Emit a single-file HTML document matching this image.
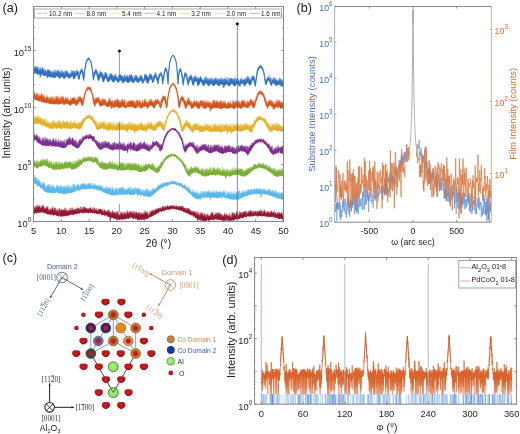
<!DOCTYPE html><html><head><meta charset="utf-8"><style>html,body{margin:0;padding:0;background:#fff;overflow:hidden;}svg{display:block;filter:blur(0.3px);}</style></head><body><svg width="520" height="434" viewBox="0 0 520 434"><rect width="520" height="434" fill="#fff"/><text x="2.5" y="12.3" font-size="12.6" text-anchor="start" fill="#1a1a1a" font-family='"Liberation Sans", sans-serif' >(a)</text><text x="296.5" y="12.3" font-size="12.6" text-anchor="start" fill="#1a1a1a" font-family='"Liberation Sans", sans-serif' >(b)</text><text x="2.5" y="261.7" font-size="12.6" text-anchor="start" fill="#1a1a1a" font-family='"Liberation Sans", sans-serif' >(c)</text><text x="222.3" y="263.5" font-size="12.6" text-anchor="start" fill="#1a1a1a" font-family='"Liberation Sans", sans-serif' >(d)</text><g><path d="M33.8 64.7L34.2 66.5L34.8 66.3L35.2 67L35.8 65.1L36.2 65.7L36.8 68.7L37.2 66.4L37.8 66.2L38.2 69.7L38.8 65.5L39.2 68.3L39.8 67.2L40.2 66.3L40.8 67.4L41.2 69.1L41.8 67.8L42.2 66.8L42.8 70.3L43.2 67.7L43.8 69.6L44.2 69.6L44.8 66.8L45.2 69.2L45.8 70.3L46.2 70.7L46.8 69.8L47.2 69.3L47.8 69.1L48.2 69L48.8 68.9L49.2 69.2L49.8 70L50.2 69.4L50.8 71.2L51.2 71.2L51.8 71.1L52.2 73L52.8 69.1L53.2 70.9L53.8 70.2L54.2 69.4L54.8 70.1L55.2 70.5L55.8 69.3L56.2 69L56.8 71L57.2 71.3L57.8 69.5L58.2 69.6L58.8 69.9L59.2 71.2L59.8 71.7L60.2 70.7L60.8 69.2L61.2 71.5L61.8 69.3L62.2 70.7L62.8 69.2L63.2 72L63.8 70.9L64.2 71.7L64.8 70.8L65.2 70.9L65.8 69.2L66.2 70.6L66.8 72L67.2 69.5L67.8 70.2L68.2 73.6L68.8 72L69.2 72.1L69.8 73.8L70.2 74.2L70.8 69.7L71.2 69.7L71.8 70.1L72.2 71L72.8 70.4L73.2 70.6L73.8 71.3L74.2 70.5L74.8 71.7L75.2 71.6L75.8 70.5L76.2 70.3L76.8 68.9L77.2 70L77.8 70.4L78.2 71.4L78.8 71.7L79.2 73.3L79.8 69.7L80.2 68.8L80.8 70.6L81.2 70.9L81.8 67.4L82.2 69.1L82.8 69.1L83.2 72.3L83.8 72.7L84.2 71.2L84.8 67.9L85.2 63.6L85.8 60.6L86.2 60.6L86.8 58.9L87.2 58.6L87.8 57.8L88.2 57.8L88.8 57.3L89.2 58L89.8 59.2L90.2 59.5L90.8 60.3L91.2 61.2L91.8 63.3L92.2 66.5L92.8 68.9L93.2 72.5L93.8 72.7L94.2 70L94.8 70.5L95.2 69.3L95.8 68.3L96.2 69.3L96.8 69.7L97.2 70.9L97.8 73L98.2 72.3L98.8 74.9L99.2 71.5L99.8 70.8L100.2 71.9L100.8 69.8L101.2 71.7L101.8 72.4L102.2 71.7L102.8 76.6L103.2 74.6L103.8 72.8L104.2 71.8L104.8 74.2L105.2 71.1L105.8 73.1L106.2 72.4L106.8 73.2L107.2 73.5L107.8 75.9L108.2 75.9L108.8 75.9L109.2 73.7L109.8 72.5L110.2 75.3L110.8 72.3L111.2 72.2L111.8 73.8L112.2 73.2L112.8 75.4L113.2 74.6L113.8 76.5L114.2 74.7L114.8 75.6L115.2 73.1L115.8 75.7L116.2 74.5L116.8 77.5L117.2 76.7L117.8 76.2L118.2 75L118.8 75.3L119.2 75.2L119.8 73.3L120.2 74.2L120.8 74.1L121.2 74.2L121.8 75.7L122.2 74.7L122.8 76.4L123.2 77.2L123.8 76.1L124.2 73.3L124.8 74.6L125.2 76.1L125.8 74.1L126.2 76.3L126.8 74.7L127.2 75.1L127.8 74.4L128.2 76.4L128.8 75.2L129.2 75.8L129.8 74.3L130.2 75L130.8 73.7L131.2 73.9L131.8 74.1L132.2 76.2L132.8 76.7L133.2 79.7L133.8 74.7L134.2 74.9L134.8 75.3L135.2 75.3L135.8 74.2L136.2 75L136.8 77L137.2 74.6L137.8 76.5L138.2 77.7L138.8 79.3L139.2 73.5L139.8 76.4L140.2 75.7L140.8 73.9L141.2 74.7L141.8 74.2L142.2 76.1L142.8 76.3L143.2 79L143.8 79.2L144.2 73.6L144.8 73.5L145.2 74.2L145.8 73.4L146.2 74.6L146.8 74L147.2 76.6L147.8 76.1L148.2 76.5L148.8 76.2L149.2 74L149.8 73.2L150.2 73.1L150.8 73.8L151.2 74L151.8 74.7L152.2 76.1L152.8 75.8L153.2 75.9L153.8 75.3L154.2 73.4L154.8 71.9L155.2 71.9L155.8 72.3L156.2 72.9L156.8 73.6L157.2 76L157.8 78.7L158.2 75.4L158.8 74.7L159.2 72.7L159.8 72.8L160.2 73.3L160.8 70.7L161.2 71.9L161.8 74.2L162.2 74.5L162.8 77.9L163.2 76.1L163.8 73.1L164.2 70L164.8 68.7L165.2 67.8L165.8 67.2L166.2 67.5L166.8 68L167.2 70.8L167.8 73.6L168.2 73.4L168.8 68.4L169.2 63.9L169.8 61.2L170.2 59.6L170.8 57L171.2 56.6L171.8 56.2L172.2 55.1L172.8 54.9L173.2 55L173.8 54.8L174.2 55.8L174.8 56.6L175.2 58.1L175.8 59.1L176.2 61.2L176.8 64.6L177.2 68L177.8 72.6L178.2 73.6L178.8 70.6L179.2 68.5L179.8 69L180.2 67.6L180.8 68.5L181.2 68.8L181.8 70.9L182.2 73L182.8 76.3L183.2 79.1L183.8 75.6L184.2 72.7L184.8 71.5L185.2 71.4L185.8 72.1L186.2 73.2L186.8 73.3L187.2 75.2L187.8 76L188.2 77.2L188.8 78.1L189.2 75.8L189.8 76L190.2 74.4L190.8 73.6L191.2 74L191.8 75.3L192.2 76.2L192.8 79.3L193.2 78.5L193.8 76.9L194.2 76.2L194.8 75.8L195.2 76L195.8 74.9L196.2 74.9L196.8 78L197.2 76.2L197.8 78.1L198.2 77.1L198.8 76.4L199.2 77.3L199.8 77.4L200.2 77.4L200.8 75.8L201.2 77.2L201.8 77.6L202.2 79.4L202.8 78.5L203.2 77.8L203.8 80L204.2 77.9L204.8 76.8L205.2 76.1L205.8 77.4L206.2 76.1L206.8 77.3L207.2 77.5L207.8 79.8L208.2 78.3L208.8 78.4L209.2 78.6L209.8 77.4L210.2 78.6L210.8 79.1L211.2 76.8L211.8 78.5L212.2 77L212.8 77.3L213.2 79.6L213.8 77.9L214.2 79L214.8 77.7L215.2 77.8L215.8 76.3L216.2 78.2L216.8 77.9L217.2 79.5L217.8 78.2L218.2 77.4L218.8 78.8L219.2 79.6L219.8 77.3L220.2 78.7L220.8 78.1L221.2 76.2L221.8 77.4L222.2 79.8L222.8 78L223.2 78.4L223.8 77.7L224.2 78.9L224.8 77.2L225.2 79L225.8 76.9L226.2 76.8L226.8 77.9L227.2 78.9L227.8 77.1L228.2 77L228.8 78L229.2 78L229.8 77.4L230.2 78.5L230.8 77.8L231.2 78.6L231.8 77.8L232.2 80.6L232.8 78.3L233.2 79.9L233.8 79.8L234.2 78.1L234.8 77.6L235.2 78.6L235.8 76.4L236.2 78.5L236.8 77.8L237.2 79.4L237.8 76.7L238.2 78.1L238.8 80.3L239.2 80.9L239.8 80.1L240.2 78.8L240.8 78.3L241.2 77.5L241.8 76.3L242.2 78.9L242.8 79.6L243.2 79.8L243.8 78.6L244.2 77.4L244.8 78.7L245.2 80L245.8 77.1L246.2 78L246.8 75.8L247.2 75.7L247.8 75.6L248.2 76.7L248.8 76L249.2 79L249.8 78.2L250.2 80.1L250.8 76.4L251.2 76.9L251.8 75.8L252.2 74.9L252.8 75L253.2 77L253.8 75L254.2 75.2L254.8 80.4L255.2 79.2L255.8 79.5L256.2 75.1L256.8 71.4L257.2 69.7L257.8 67.6L258.2 68L258.8 66.4L259.2 65.9L259.8 65.5L260.2 65.1L260.8 65.1L261.2 65L261.8 66.3L262.2 67.4L262.8 66.9L263.2 68.8L263.8 69.7L264.2 71L264.8 75L265.2 76L265.8 80.3L266.2 78.3L266.8 78.5L267.2 77.1L267.8 77.3L268.2 76.1L268.8 74.7L269.2 74.8L269.8 78.4L270.2 75.1L270.8 77.7L271.2 78.5L271.8 78.2L272.2 77.4L272.8 79.3L273.2 77.1L273.8 77.2L274.2 77L274.8 79.1L275.2 76.7L275.8 79.7L276.2 77.2L276.8 79.2L277.2 79.7L277.8 79.5L278.2 80.9L278.8 79.3L279.2 76.7L279.8 77.5L280.2 78.6L280.8 78.1L281.2 78.9L281.8 78.1L282.2 80.5L282.8 79.3L283.2 78.6L283.2 85.7L282.8 85.4L282.2 86.5L281.8 86.6L281.2 86.3L280.8 85.4L280.2 84.5L279.8 84.2L279.2 84.5L278.8 84.7L278.2 84.3L277.8 85.1L277.2 84.8L276.8 85.5L276.2 85.5L275.8 85.7L275.2 84.7L274.8 84.3L274.2 82.4L273.8 83.5L273.2 82.9L272.8 83.4L272.2 82.2L271.8 85.9L271.2 85.5L270.8 85.1L270.2 83L269.8 82.4L269.2 81L268.8 80.7L268.2 80.3L267.8 80.4L267.2 81.2L266.8 83.9L266.2 84.4L265.8 84.8L265.2 83.2L264.8 80.7L264.2 76.6L263.8 73.8L263.2 71.5L262.8 70.4L262.2 69L261.8 68.2L261.2 68L260.8 67.5L260.2 67.5L259.8 67.9L259.2 67.9L258.8 70L258.2 70L257.8 72L257.2 74.5L256.8 77.2L256.2 80.7L255.8 84.9L255.2 86.6L254.8 85.2L254.2 82.6L253.8 80.9L253.2 79.8L252.8 79.9L252.2 80.3L251.8 81.9L251.2 83.7L250.8 84.4L250.2 84.6L249.8 85.6L249.2 85L248.8 83L248.2 83.2L247.8 82.2L247.2 82.4L246.8 83.2L246.2 83.5L245.8 84.6L245.2 85.3L244.8 86.4L244.2 85.3L243.8 84.3L243.2 84.4L242.8 83.7L242.2 83.2L241.8 82.6L241.2 84L240.8 82.9L240.2 86.4L239.8 86.2L239.2 85.8L238.8 85.7L238.2 84.7L237.8 84.2L237.2 83.5L236.8 84.1L236.2 83.9L235.8 85.1L235.2 85.8L234.8 86.4L234.2 85.6L233.8 85.6L233.2 84.4L232.8 84.6L232.2 83.6L231.8 82.9L231.2 83.9L230.8 85L230.2 84.4L229.8 85.5L229.2 86.3L228.8 85.6L228.2 85.2L227.8 85.1L227.2 84.2L226.8 83.8L226.2 83.9L225.8 84.4L225.2 85.3L224.8 84.9L224.2 85.8L223.8 88.2L223.2 85.1L222.8 84.8L222.2 84.6L221.8 84.4L221.2 83.9L220.8 83.7L220.2 84.6L219.8 85.3L219.2 85.9L218.8 85.7L218.2 85.5L217.8 85.2L217.2 84.6L216.8 84L216.2 82.4L215.8 83.7L215.2 84.5L214.8 84.6L214.2 85.6L213.8 86L213.2 85.8L212.8 85.6L212.2 84.7L211.8 84.2L211.2 83.4L210.8 83.8L210.2 84L209.8 84.1L209.2 85.9L208.8 85L208.2 86L207.8 85.1L207.2 84.1L206.8 83.3L206.2 82.7L205.8 83.3L205.2 83.2L204.8 84.2L204.2 85.6L203.8 84.6L203.2 85.4L202.8 85.3L202.2 82.9L201.8 82.7L201.2 82.2L200.8 81.4L200.2 81.2L199.8 83.9L199.2 83.7L198.8 85.4L198.2 85.4L197.8 85.5L197.2 83.5L196.8 81.5L196.2 80.8L195.8 81L195.2 81.3L194.8 81.2L194.2 82.8L193.8 84.9L193.2 85.4L192.8 84.9L192.2 83.6L191.8 81.3L191.2 79.6L190.8 79.4L190.2 79.5L189.8 80.8L189.2 81.7L188.8 83.7L188.2 85.5L187.8 83.7L187.2 82.6L186.8 78.8L186.2 76.6L185.8 76.1L185.2 76.3L184.8 76.8L184.2 79.5L183.8 82.9L183.2 85.4L182.8 83.6L182.2 78.3L181.8 76.8L181.2 72.4L180.8 72L180.2 71.2L179.8 71.7L179.2 74L178.8 76.3L178.2 84L177.8 84.2L177.2 75.3L176.8 67.5L176.2 63.8L175.8 61.5L175.2 59.7L174.8 58.6L174.2 57.3L173.8 56.3L173.2 56L172.8 55.8L172.2 56.2L171.8 57.1L171.2 57.5L170.8 60.1L170.2 61.4L169.8 64.7L169.2 68.5L168.8 73.9L168.2 84.6L167.8 83.3L167.2 77.3L166.8 72.4L166.2 71.2L165.8 70.2L165.2 71.2L164.8 71.8L164.2 75.7L163.8 78.7L163.2 81.7L162.8 84.5L162.2 80.9L161.8 76.8L161.2 75.8L160.8 75.1L160.2 75.5L159.8 76.1L159.2 79L158.8 79.5L158.2 83.7L157.8 83.7L157.2 81.1L156.8 80.2L156.2 78.3L155.8 76.5L155.2 77.2L154.8 78.5L154.2 78.6L153.8 81.7L153.2 81.2L152.8 82.9L152.2 82.2L151.8 78.9L151.2 80L150.8 78.9L150.2 77.8L149.8 78.7L149.2 81.1L148.8 81.3L148.2 83.4L147.8 83.5L147.2 80.5L146.8 82.7L146.2 80L145.8 80L145.2 78.8L144.8 80.4L144.2 81.3L143.8 81.6L143.2 82.7L142.8 83.5L142.2 82.4L141.8 81L141.2 80.7L140.8 80.6L140.2 80.6L139.8 80.7L139.2 81L138.8 82.3L138.2 82.9L137.8 81.6L137.2 82.4L136.8 81.7L136.2 81L135.8 79.8L135.2 80.3L134.8 81.2L134.2 82L133.8 82.1L133.2 83.2L132.8 81.7L132.2 82.5L131.8 81.9L131.2 80.4L130.8 80.5L130.2 80.6L129.8 80.9L129.2 81.9L128.8 82.8L128.2 82.5L127.8 82.9L127.2 81.9L126.8 81.7L126.2 81.2L125.8 80.8L125.2 80.8L124.8 81.2L124.2 81.5L123.8 82.4L123.2 82.8L122.8 82.7L122.2 82.1L121.8 81L121.2 80.5L120.8 80.7L120.2 79.2L119.8 80.8L119.2 81L118.8 82.2L118.2 82.4L117.8 82.2L117.2 81.3L116.8 80.9L116.2 79.4L115.8 80.2L115.2 80.1L114.8 80L114.2 81.6L113.8 82L113.2 81.6L112.8 82.1L112.2 81.4L111.8 80.5L111.2 79.6L110.8 78.8L110.2 79.3L109.8 80.5L109.2 81.1L108.8 81.6L108.2 81.9L107.8 82L107.2 80.4L106.8 79.6L106.2 78.2L105.8 78.1L105.2 77.4L104.8 79.1L104.2 80.8L103.8 81.9L103.2 81.9L102.8 81.2L102.2 79L101.8 77L101.2 77.2L100.8 76.3L100.2 76.4L99.8 77.5L99.2 80L98.8 80.8L98.2 79.9L97.8 79.2L97.2 76.8L96.8 74.4L96.2 73.4L95.8 73.1L95.2 73.5L94.8 75L94.2 76.7L93.8 79.5L93.2 80.4L92.8 76.2L92.2 69.7L91.8 67.2L91.2 65L90.8 62.2L90.2 61.5L89.8 60.6L89.2 59.7L88.8 59.4L88.2 59.6L87.8 59.5L87.2 60.8L86.8 62.1L86.2 63.1L85.8 66L85.2 68.9L84.8 72.5L84.2 78.3L83.8 80.6L83.2 79.4L82.8 76L82.2 72.5L81.8 71.7L81.2 72.7L80.8 74L80.2 74L79.8 76.9L79.2 79.4L78.8 79.2L78.2 79L77.8 75L77.2 75.1L76.8 75.2L76.2 75.4L75.8 76.2L75.2 76.9L74.8 78.2L74.2 78.9L73.8 79.1L73.2 78L72.8 76.1L72.2 76L71.8 76.7L71.2 76.6L70.8 77.3L70.2 77.7L69.8 77L69.2 78.3L68.8 78.6L68.2 77.3L67.8 76.5L67.2 76.7L66.8 76.7L66.2 76.5L65.8 75.1L65.2 78L64.8 78.1L64.2 78.4L63.8 78.8L63.2 77.1L62.8 76.8L62.2 77L61.8 76.4L61.2 76.9L60.8 77.2L60.2 77.6L59.8 78.9L59.2 77.6L58.8 77.6L58.2 75.9L57.8 77.1L57.2 75.2L56.8 76.4L56.2 75.3L55.8 77L55.2 77.6L54.8 77.9L54.2 77.5L53.8 77.1L53.2 77.7L52.8 76L52.2 77.5L51.8 76.9L51.2 77.3L50.8 76.5L50.2 77.1L49.8 76.8L49.2 77L48.8 76.2L48.2 76.5L47.8 75.2L47.2 78.3L46.8 75.4L46.2 75.5L45.8 75.7L45.2 75.6L44.8 75.3L44.2 75.5L43.8 76L43.2 75.5L42.8 74.3L42.2 73.4L41.8 75L41.2 74.7L40.8 74.5L40.2 77.6L39.8 74L39.2 74.6L38.8 72.2L38.2 74.6L37.8 74.4L37.2 74.2L36.8 74L36.2 73L35.8 72.4L35.2 72.8L34.8 73.5L34.2 73.4L33.8 73.3Z" fill="#2f6fc0" fill-opacity="0.55" stroke="none"/><path d="M33.8 68.4L34.2 71L34.8 68.3L35.2 68.2L35.8 66.6L36.2 67.2L36.8 69.5L37.2 68L37.8 67.1L38.2 72.2L38.8 69.4L39.2 70.6L39.8 71.1L40.2 70.4L40.8 69.5L41.2 71.9L41.8 69.4L42.2 67.3L42.8 71.4L43.2 69.1L43.8 72.2L44.2 73.7L44.8 71L45.2 70.4L45.8 71.3L46.2 72.1L46.8 72.3L47.2 73.8L47.8 69.9L48.2 70.9L48.8 70.8L49.2 71.1L49.8 71.5L50.2 71.2L50.8 72.2L51.2 72.6L51.8 72.9L52.2 74.3L52.8 72.5L53.2 71.9L53.8 72.5L54.2 72.5L54.8 74L55.2 72L55.8 72.3L56.2 72.6L56.8 72.7L57.2 72.6L57.8 71.1L58.2 70.5L58.8 71.5L59.2 74.3L59.8 72L60.2 73.4L60.8 72.7L61.2 73.2L61.8 72.6L62.2 73.6L62.8 74.1L63.2 73.4L63.8 71.9L64.2 76.6L64.8 73.8L65.2 74.2L65.8 70.8L66.2 72.3L66.8 72.7L67.2 73.5L67.8 72.7L68.2 74.8L68.8 73.6L69.2 74.7L69.8 74.8L70.2 75L70.8 73.4L71.2 73.2L71.8 73L72.2 71.6L72.8 71.3L73.2 74.5L73.8 72.8L74.2 71.2L74.8 76.2L75.2 72.9L75.8 72.9L76.2 73.3L76.8 70.7L77.2 71.3L77.8 71.7L78.2 72.8L78.8 75.5L79.2 76.6L79.8 73.6L80.2 70.8L80.8 71.3L81.2 71.3L81.8 68.9L82.2 69.6L82.8 71.2L83.2 73.8L83.8 74.1L84.2 72.1L84.8 68.4L85.2 65.3L85.8 63.7L86.2 61.7L86.8 60.2L87.2 59.6L87.8 58.5L88.2 57.8L88.8 58.2L89.2 58.6L89.8 59.8L90.2 60.4L90.8 61.2L91.2 62.8L91.8 64.8L92.2 67.4L92.8 71.2L93.2 74.9L93.8 75.7L94.2 72.5L94.8 73.2L95.2 71L95.8 70L96.2 69.7L96.8 71L97.2 73.1L97.8 74.1L98.2 74L98.8 78.2L99.2 74.9L99.8 73.9L100.2 72.9L100.8 71.8L101.2 72.9L101.8 75.8L102.2 72.8L102.8 77.8L103.2 75.4L103.8 76.7L104.2 75.8L104.8 76.3L105.2 72.2L105.8 76.1L106.2 73L106.8 74.9L107.2 76.9L107.8 77.6L108.2 78.3L108.8 78.2L109.2 77.3L109.8 75.7L110.2 77.2L110.8 73.9L111.2 74.8L111.8 74.4L112.2 74.9L112.8 80.7L113.2 76.6L113.8 77.3L114.2 76.4L114.8 77.6L115.2 74.2L115.8 76.7L116.2 76.7L116.8 78.9L117.2 77.7L117.8 78.2L118.2 79.5L118.8 78.4L119.2 77.7L119.8 74.8L120.2 75.5L120.8 75.4L121.2 76.4L121.8 76.8L122.2 76L122.8 79.9L123.2 78L123.8 78.3L124.2 75.8L124.8 77.6L125.2 78.3L125.8 77.5L126.2 78.4L126.8 76.1L127.2 78.3L127.8 76.8L128.2 78.2L128.8 78.4L129.2 78.3L129.8 75L130.2 77.7L130.8 75.4L131.2 74.9L131.8 75.1L132.2 76.9L132.8 77.2L133.2 80.1L133.8 78.4L134.2 78.3L134.8 78.7L135.2 77L135.8 76.4L136.2 75.5L136.8 79.3L137.2 78.1L137.8 77.1L138.2 79L138.8 80.2L139.2 78.1L139.8 78.5L140.2 77.7L140.8 75.9L141.2 77.4L141.8 76.9L142.2 78.3L142.8 80.7L143.2 79.2L143.8 79.7L144.2 78.7L144.8 74.9L145.2 76.9L145.8 75.5L146.2 75.1L146.8 76L147.2 77.7L147.8 77.1L148.2 77.4L148.8 78.6L149.2 76.8L149.8 74.2L150.2 75.4L150.8 74.6L151.2 75.9L151.8 75.7L152.2 79.8L152.8 79.3L153.2 78.3L153.8 77.3L154.2 75.5L154.8 75.2L155.2 74.6L155.8 74L156.2 76L156.8 76.8L157.2 79.6L157.8 78.9L158.2 77L158.8 77.2L159.2 74.5L159.8 73.9L160.2 73.5L160.8 73.5L161.2 72.6L161.8 74.6L162.2 75.3L162.8 80.4L163.2 77.6L163.8 74.8L164.2 72L164.8 70.6L165.2 68.2L165.8 68L166.2 69.4L166.8 69.7L167.2 71.6L167.8 78L168.2 74.3L168.8 70.4L169.2 64.5L169.8 61.8L170.2 59.6L170.8 58.6L171.2 57L171.8 56.5L172.2 55.7L172.8 55.4L173.2 55.2L173.8 55.6L174.2 56.2L174.8 56.8L175.2 58.8L175.8 59.8L176.2 62.2L176.8 65.1L177.2 69.8L177.8 76.7L178.2 77.7L178.8 74.2L179.2 71.6L179.8 69.8L180.2 68.5L180.8 69.4L181.2 71.4L181.8 73.2L182.2 75.1L182.8 78.5L183.2 81.6L183.8 78L184.2 76.5L184.8 74L185.2 73.2L185.8 73.2L186.2 73.7L186.8 77L187.2 79.5L187.8 79.2L188.2 82.2L188.8 79.4L189.2 77.1L189.8 76.8L190.2 75.9L190.8 77.1L191.2 76.5L191.8 76.2L192.2 77.7L192.8 80.5L193.2 82.2L193.8 77.9L194.2 78.7L194.8 75.9L195.2 79.2L195.8 77.2L196.2 78L196.8 78.7L197.2 78.7L197.8 80.5L198.2 78.9L198.8 80.1L199.2 78.7L199.8 79.4L200.2 78.1L200.8 76.4L201.2 78.8L201.8 80.7L202.2 79.9L202.8 80L203.2 80.1L203.8 81L204.2 80.4L204.8 80.8L205.2 78.1L205.8 80L206.2 80.9L206.8 80.2L207.2 78.3L207.8 81.6L208.2 80.2L208.8 81.6L209.2 79.8L209.8 78.6L210.2 79.7L210.8 82.3L211.2 80.9L211.8 79.4L212.2 81.3L212.8 81L213.2 80.5L213.8 79.8L214.2 82L214.8 79L215.2 79.1L215.8 79.3L216.2 79.2L216.8 81.1L217.2 80.7L217.8 81.2L218.2 79.4L218.8 82.1L219.2 82.4L219.8 79.5L220.2 81.2L220.8 79.4L221.2 80.5L221.8 79.7L222.2 81.1L222.8 81.1L223.2 79.6L223.8 82.5L224.2 81.2L224.8 78.9L225.2 80.1L225.8 80.3L226.2 80.7L226.8 80.6L227.2 80.2L227.8 81.8L228.2 81.7L228.8 82.9L229.2 79.1L229.8 82.1L230.2 82.8L230.8 78.1L231.2 80.4L231.8 78.4L232.2 81.3L232.8 78.8L233.2 81.3L233.8 80.4L234.2 78.4L234.8 81L235.2 81.2L235.8 82.6L236.2 79.9L236.8 80.1L237.2 81.3L237.8 80.7L238.2 79.4L238.8 81.6L239.2 83.5L239.8 81.6L240.2 79.9L240.8 79.4L241.2 79.8L241.8 80.5L242.2 79.7L242.8 81.1L243.2 81.6L243.8 80.1L244.2 79.8L244.8 79.6L245.2 81.7L245.8 79.4L246.2 80.4L246.8 77.7L247.2 77.6L247.8 79.4L248.2 80.3L248.8 77.4L249.2 80.5L249.8 80.4L250.2 81.9L250.8 80.3L251.2 79.4L251.8 79.2L252.2 77.3L252.8 77.3L253.2 77.6L253.8 76.5L254.2 76.9L254.8 80.9L255.2 81.8L255.8 80.4L256.2 76.4L256.8 73.8L257.2 71L257.8 68.7L258.2 68.9L258.8 66.8L259.2 66.3L259.8 66.7L260.2 65.8L260.8 65.7L261.2 66.2L261.8 67.2L262.2 67.5L262.8 67.9L263.2 70.2L263.8 71.9L264.2 73.5L264.8 77.9L265.2 80L265.8 81.6L266.2 80.7L266.8 80.5L267.2 78.7L267.8 78L268.2 77.7L268.8 78.3L269.2 78.6L269.8 79.4L270.2 77.9L270.8 81.8L271.2 82.6L271.8 81.1L272.2 80.6L272.8 79.9L273.2 80.1L273.8 80.5L274.2 78L274.8 80.1L275.2 79.5L275.8 80.8L276.2 80.6L276.8 81.1L277.2 81.8L277.8 80.5L278.2 81.7L278.8 81.2L279.2 81.2L279.8 79.2L280.2 80.5L280.8 79.8L281.2 84L281.8 81L282.2 83.4L282.8 80.7L283.2 81.9L283.2 85.7L282.8 85.4L282.2 86.5L281.8 86.6L281.2 86.3L280.8 85.4L280.2 84.5L279.8 84.2L279.2 84.5L278.8 84.7L278.2 84.3L277.8 85.1L277.2 84.8L276.8 85.5L276.2 85.5L275.8 85.7L275.2 84.7L274.8 84.3L274.2 82.4L273.8 83.5L273.2 82.9L272.8 83.4L272.2 82.2L271.8 85.9L271.2 85.5L270.8 85.1L270.2 83L269.8 82.4L269.2 81L268.8 80.7L268.2 80.3L267.8 80.4L267.2 81.2L266.8 83.9L266.2 84.4L265.8 84.8L265.2 83.2L264.8 80.7L264.2 76.6L263.8 73.8L263.2 71.5L262.8 70.4L262.2 69L261.8 68.2L261.2 68L260.8 67.5L260.2 67.5L259.8 67.9L259.2 67.9L258.8 70L258.2 70L257.8 72L257.2 74.5L256.8 77.2L256.2 80.7L255.8 84.9L255.2 86.6L254.8 85.2L254.2 82.6L253.8 80.9L253.2 79.8L252.8 79.9L252.2 80.3L251.8 81.9L251.2 83.7L250.8 84.4L250.2 84.6L249.8 85.6L249.2 85L248.8 83L248.2 83.2L247.8 82.2L247.2 82.4L246.8 83.2L246.2 83.5L245.8 84.6L245.2 85.3L244.8 86.4L244.2 85.3L243.8 84.3L243.2 84.4L242.8 83.7L242.2 83.2L241.8 82.6L241.2 84L240.8 82.9L240.2 86.4L239.8 86.2L239.2 85.8L238.8 85.7L238.2 84.7L237.8 84.2L237.2 83.5L236.8 84.1L236.2 83.9L235.8 85.1L235.2 85.8L234.8 86.4L234.2 85.6L233.8 85.6L233.2 84.4L232.8 84.6L232.2 83.6L231.8 82.9L231.2 83.9L230.8 85L230.2 84.4L229.8 85.5L229.2 86.3L228.8 85.6L228.2 85.2L227.8 85.1L227.2 84.2L226.8 83.8L226.2 83.9L225.8 84.4L225.2 85.3L224.8 84.9L224.2 85.8L223.8 88.2L223.2 85.1L222.8 84.8L222.2 84.6L221.8 84.4L221.2 83.9L220.8 83.7L220.2 84.6L219.8 85.3L219.2 85.9L218.8 85.7L218.2 85.5L217.8 85.2L217.2 84.6L216.8 84L216.2 82.4L215.8 83.7L215.2 84.5L214.8 84.6L214.2 85.6L213.8 86L213.2 85.8L212.8 85.6L212.2 84.7L211.8 84.2L211.2 83.4L210.8 83.8L210.2 84L209.8 84.1L209.2 85.9L208.8 85L208.2 86L207.8 85.1L207.2 84.1L206.8 83.3L206.2 82.7L205.8 83.3L205.2 83.2L204.8 84.2L204.2 85.6L203.8 84.6L203.2 85.4L202.8 85.3L202.2 82.9L201.8 82.7L201.2 82.2L200.8 81.4L200.2 81.2L199.8 83.9L199.2 83.7L198.8 85.4L198.2 85.4L197.8 85.5L197.2 83.5L196.8 81.5L196.2 80.8L195.8 81L195.2 81.3L194.8 81.2L194.2 82.8L193.8 84.9L193.2 85.4L192.8 84.9L192.2 83.6L191.8 81.3L191.2 79.6L190.8 79.4L190.2 79.5L189.8 80.8L189.2 81.7L188.8 83.7L188.2 85.5L187.8 83.7L187.2 82.6L186.8 78.8L186.2 76.6L185.8 76.1L185.2 76.3L184.8 76.8L184.2 79.5L183.8 82.9L183.2 85.4L182.8 83.6L182.2 78.3L181.8 76.8L181.2 72.4L180.8 72L180.2 71.2L179.8 71.7L179.2 74L178.8 76.3L178.2 84L177.8 84.2L177.2 75.3L176.8 67.5L176.2 63.8L175.8 61.5L175.2 59.7L174.8 58.6L174.2 57.3L173.8 56.3L173.2 56L172.8 55.8L172.2 56.2L171.8 57.1L171.2 57.5L170.8 60.1L170.2 61.4L169.8 64.7L169.2 68.5L168.8 73.9L168.2 84.6L167.8 83.3L167.2 77.3L166.8 72.4L166.2 71.2L165.8 70.2L165.2 71.2L164.8 71.8L164.2 75.7L163.8 78.7L163.2 81.7L162.8 84.5L162.2 80.9L161.8 76.8L161.2 75.8L160.8 75.1L160.2 75.5L159.8 76.1L159.2 79L158.8 79.5L158.2 83.7L157.8 83.7L157.2 81.1L156.8 80.2L156.2 78.3L155.8 76.5L155.2 77.2L154.8 78.5L154.2 78.6L153.8 81.7L153.2 81.2L152.8 82.9L152.2 82.2L151.8 78.9L151.2 80L150.8 78.9L150.2 77.8L149.8 78.7L149.2 81.1L148.8 81.3L148.2 83.4L147.8 83.5L147.2 80.5L146.8 82.7L146.2 80L145.8 80L145.2 78.8L144.8 80.4L144.2 81.3L143.8 81.6L143.2 82.7L142.8 83.5L142.2 82.4L141.8 81L141.2 80.7L140.8 80.6L140.2 80.6L139.8 80.7L139.2 81L138.8 82.3L138.2 82.9L137.8 81.6L137.2 82.4L136.8 81.7L136.2 81L135.8 79.8L135.2 80.3L134.8 81.2L134.2 82L133.8 82.1L133.2 83.2L132.8 81.7L132.2 82.5L131.8 81.9L131.2 80.4L130.8 80.5L130.2 80.6L129.8 80.9L129.2 81.9L128.8 82.8L128.2 82.5L127.8 82.9L127.2 81.9L126.8 81.7L126.2 81.2L125.8 80.8L125.2 80.8L124.8 81.2L124.2 81.5L123.8 82.4L123.2 82.8L122.8 82.7L122.2 82.1L121.8 81L121.2 80.5L120.8 80.7L120.2 79.2L119.8 80.8L119.2 81L118.8 82.2L118.2 82.4L117.8 82.2L117.2 81.3L116.8 80.9L116.2 79.4L115.8 80.2L115.2 80.1L114.8 80L114.2 81.6L113.8 82L113.2 81.6L112.8 82.1L112.2 81.4L111.8 80.5L111.2 79.6L110.8 78.8L110.2 79.3L109.8 80.5L109.2 81.1L108.8 81.6L108.2 81.9L107.8 82L107.2 80.4L106.8 79.6L106.2 78.2L105.8 78.1L105.2 77.4L104.8 79.1L104.2 80.8L103.8 81.9L103.2 81.9L102.8 81.2L102.2 79L101.8 77L101.2 77.2L100.8 76.3L100.2 76.4L99.8 77.5L99.2 80L98.8 80.8L98.2 79.9L97.8 79.2L97.2 76.8L96.8 74.4L96.2 73.4L95.8 73.1L95.2 73.5L94.8 75L94.2 76.7L93.8 79.5L93.2 80.4L92.8 76.2L92.2 69.7L91.8 67.2L91.2 65L90.8 62.2L90.2 61.5L89.8 60.6L89.2 59.7L88.8 59.4L88.2 59.6L87.8 59.5L87.2 60.8L86.8 62.1L86.2 63.1L85.8 66L85.2 68.9L84.8 72.5L84.2 78.3L83.8 80.6L83.2 79.4L82.8 76L82.2 72.5L81.8 71.7L81.2 72.7L80.8 74L80.2 74L79.8 76.9L79.2 79.4L78.8 79.2L78.2 79L77.8 75L77.2 75.1L76.8 75.2L76.2 75.4L75.8 76.2L75.2 76.9L74.8 78.2L74.2 78.9L73.8 79.1L73.2 78L72.8 76.1L72.2 76L71.8 76.7L71.2 76.6L70.8 77.3L70.2 77.7L69.8 77L69.2 78.3L68.8 78.6L68.2 77.3L67.8 76.5L67.2 76.7L66.8 76.7L66.2 76.5L65.8 75.1L65.2 78L64.8 78.1L64.2 78.4L63.8 78.8L63.2 77.1L62.8 76.8L62.2 77L61.8 76.4L61.2 76.9L60.8 77.2L60.2 77.6L59.8 78.9L59.2 77.6L58.8 77.6L58.2 75.9L57.8 77.1L57.2 75.2L56.8 76.4L56.2 75.3L55.8 77L55.2 77.6L54.8 77.9L54.2 77.5L53.8 77.1L53.2 77.7L52.8 76L52.2 77.5L51.8 76.9L51.2 77.3L50.8 76.5L50.2 77.1L49.8 76.8L49.2 77L48.8 76.2L48.2 76.5L47.8 75.2L47.2 78.3L46.8 75.4L46.2 75.5L45.8 75.7L45.2 75.6L44.8 75.3L44.2 75.5L43.8 76L43.2 75.5L42.8 74.3L42.2 73.4L41.8 75L41.2 74.7L40.8 74.5L40.2 77.6L39.8 74L39.2 74.6L38.8 72.2L38.2 74.6L37.8 74.4L37.2 74.2L36.8 74L36.2 73L35.8 72.4L35.2 72.8L34.8 73.5L34.2 73.4L33.8 73.3Z" fill="#2f6fc0" stroke="#2f6fc0" stroke-width="0.5" stroke-linejoin="round"/><path d="M33.8 91.7L34.2 90.7L34.8 92.4L35.2 94.6L35.8 93.9L36.2 92L36.8 92.7L37.2 92.9L37.8 92.8L38.2 93.3L38.8 93.7L39.2 94.5L39.8 94.1L40.2 95.4L40.8 93.9L41.2 93.2L41.8 92.6L42.2 95.1L42.8 93.9L43.2 95.3L43.8 93.6L44.2 97.6L44.8 94.6L45.2 98L45.8 97.3L46.2 95.8L46.8 94.1L47.2 98L47.8 94.5L48.2 95.9L48.8 98.5L49.2 97.6L49.8 95.9L50.2 97.3L50.8 96.5L51.2 95.8L51.8 97.3L52.2 95L52.8 98.5L53.2 96.9L53.8 96.4L54.2 95.2L54.8 97.8L55.2 97.5L55.8 96.5L56.2 96L56.8 96.6L57.2 96.1L57.8 96L58.2 96.3L58.8 96.9L59.2 96L59.8 98.9L60.2 97.6L60.8 95.5L61.2 95.7L61.8 98.1L62.2 95.7L62.8 95.3L63.2 95.9L63.8 96.8L64.2 98.5L64.8 97.9L65.2 96.2L65.8 96.8L66.2 98.7L66.8 96.9L67.2 96.3L67.8 97L68.2 98.3L68.8 99L69.2 99.6L69.8 100.5L70.2 97.5L70.8 96.1L71.2 98.6L71.8 98.3L72.2 97.5L72.8 98.1L73.2 96.9L73.8 96.4L74.2 97.3L74.8 96.8L75.2 96.7L75.8 100.8L76.2 100.3L76.8 99.1L77.2 96.9L77.8 97.1L78.2 97.1L78.8 95L79.2 96.7L79.8 95.5L80.2 96.5L80.8 96.2L81.2 96.7L81.8 98.8L82.2 98.1L82.8 98.7L83.2 96.5L83.8 98.1L84.2 94.6L84.8 92.4L85.2 90.7L85.8 90.4L86.2 88.5L86.8 88.5L87.2 86.6L87.8 86.6L88.2 86.9L88.8 86.5L89.2 86.4L89.8 86.9L90.2 86.8L90.8 87.8L91.2 87.9L91.8 90.6L92.2 92.3L92.8 94.4L93.2 94.2L93.8 97.7L94.2 96.4L94.8 102L95.2 99.3L95.8 97.1L96.2 96.4L96.8 98L97.2 96.1L97.8 98.6L98.2 95.9L98.8 99.6L99.2 96.1L99.8 98.7L100.2 97.8L100.8 101.3L101.2 99.1L101.8 100L102.2 97.7L102.8 97.9L103.2 97.5L103.8 100.7L104.2 98.3L104.8 99.1L105.2 99L105.8 99L106.2 101.5L106.8 102.4L107.2 100.4L107.8 101.9L108.2 99.9L108.8 97.9L109.2 97.9L109.8 97.5L110.2 97.6L110.8 99.5L111.2 99.5L111.8 101.4L112.2 99.8L112.8 99.7L113.2 102.4L113.8 101.4L114.2 99.6L114.8 100.5L115.2 99.2L115.8 102.9L116.2 98.1L116.8 98.8L117.2 99.9L117.8 98.2L118.2 100.1L118.8 99.2L119.2 101.2L119.8 100.1L120.2 101.1L120.8 99.8L121.2 99.8L121.8 99.8L122.2 100.1L122.8 98.7L123.2 100.5L123.8 102.3L124.2 100.3L124.8 99.2L125.2 99.4L125.8 103.3L126.2 101L126.8 102L127.2 101.9L127.8 100.3L128.2 101.1L128.8 99.8L129.2 100.3L129.8 101.8L130.2 100.7L130.8 99.7L131.2 100.4L131.8 99.4L132.2 99.7L132.8 101L133.2 99.6L133.8 100.7L134.2 103.3L134.8 98.8L135.2 99.8L135.8 102.7L136.2 103L136.8 99.7L137.2 99.9L137.8 99.4L138.2 101.4L138.8 101.8L139.2 98.5L139.8 99.4L140.2 101.1L140.8 100.8L141.2 101L141.8 101.6L142.2 98.8L142.8 99.2L143.2 102.8L143.8 99.4L144.2 99L144.8 99.1L145.2 98.6L145.8 98.9L146.2 102.1L146.8 99.7L147.2 101.3L147.8 102.5L148.2 101.1L148.8 101.8L149.2 100.3L149.8 99.6L150.2 98L150.8 99.3L151.2 98.9L151.8 98.5L152.2 100.7L152.8 100.1L153.2 100.1L153.8 102.6L154.2 100.2L154.8 101.6L155.2 99.6L155.8 99.2L156.2 101.3L156.8 99L157.2 98.7L157.8 99.8L158.2 100L158.8 98.2L159.2 100.5L159.8 101.3L160.2 101.3L160.8 101.6L161.2 99.1L161.8 97.2L162.2 97L162.8 96.7L163.2 95.3L163.8 95.6L164.2 97.1L164.8 95.4L165.2 95.6L165.8 98.2L166.2 99.8L166.8 101.5L167.2 99L167.8 95.9L168.2 93.2L168.8 91.1L169.2 88L169.8 86.5L170.2 85.4L170.8 85.5L171.2 84.7L171.8 83.6L172.2 83.2L172.8 82.9L173.2 83.5L173.8 83.3L174.2 83.6L174.8 84.3L175.2 85.4L175.8 86L176.2 87.2L176.8 88.8L177.2 90.8L177.8 93.1L178.2 95.4L178.8 98.9L179.2 100.6L179.8 98.7L180.2 99.1L180.8 96.8L181.2 96.7L181.8 96.3L182.2 95.1L182.8 95.9L183.2 97.3L183.8 97.4L184.2 100.9L184.8 99.1L185.2 101L185.8 99.7L186.2 104.4L186.8 101.4L187.2 98.9L187.8 100.4L188.2 97.7L188.8 97.6L189.2 99L189.8 98.4L190.2 100.7L190.8 100.8L191.2 99.5L191.8 102.7L192.2 101L192.8 103.1L193.2 101.1L193.8 100.8L194.2 98.5L194.8 101.2L195.2 102.4L195.8 101.7L196.2 100.2L196.8 101.5L197.2 101L197.8 100.8L198.2 100L198.8 102.4L199.2 101L199.8 102.3L200.2 99.1L200.8 101.1L201.2 100.2L201.8 100L202.2 99.9L202.8 103.2L203.2 100.5L203.8 99.8L204.2 100.3L204.8 100.2L205.2 104.1L205.8 100.2L206.2 100L206.8 103.5L207.2 101.4L207.8 98.8L208.2 101.5L208.8 100.9L209.2 102.3L209.8 101.7L210.2 101.1L210.8 102.1L211.2 101.6L211.8 102.5L212.2 104.1L212.8 100.6L213.2 99.2L213.8 99.9L214.2 100.4L214.8 99.7L215.2 101L215.8 100.5L216.2 101L216.8 99.5L217.2 101.6L217.8 98.9L218.2 102.6L218.8 101.6L219.2 102L219.8 101.3L220.2 100.3L220.8 99.5L221.2 99.9L221.8 100.3L222.2 102L222.8 100.6L223.2 101.4L223.8 100L224.2 102.4L224.8 100.2L225.2 100.3L225.8 101.9L226.2 104.2L226.8 103.3L227.2 103.3L227.8 101L228.2 101.8L228.8 100.2L229.2 103.3L229.8 103.7L230.2 99.6L230.8 100.6L231.2 101.7L231.8 105.4L232.2 100.4L232.8 99.7L233.2 101L233.8 99.7L234.2 103.1L234.8 101L235.2 102.9L235.8 100L236.2 99.3L236.8 101.8L237.2 99.9L237.8 100.2L238.2 101.4L238.8 101.3L239.2 99.9L239.8 100.7L240.2 103.3L240.8 101.1L241.2 100.6L241.8 100.5L242.2 101.7L242.8 99.4L243.2 100.6L243.8 99.1L244.2 98.5L244.8 101.6L245.2 102.4L245.8 100.7L246.2 102.9L246.8 99.4L247.2 100.3L247.8 100.2L248.2 102.8L248.8 99.9L249.2 102L249.8 100.4L250.2 99.1L250.8 98.4L251.2 100L251.8 98.3L252.2 100.6L252.8 100L253.2 99.8L253.8 101.4L254.2 101.1L254.8 99.9L255.2 101.8L255.8 97.4L256.2 98.2L256.8 95.4L257.2 93.8L257.8 92.5L258.2 92.8L258.8 91.4L259.2 90.7L259.8 90.3L260.2 90.8L260.8 90.6L261.2 90.4L261.8 91.7L262.2 91.6L262.8 92.9L263.2 93.1L263.8 93.7L264.2 94.2L264.8 95.6L265.2 97.6L265.8 97.8L266.2 99.4L266.8 103.4L267.2 101.8L267.8 103.2L268.2 100.9L268.8 99.8L269.2 99.3L269.8 99.6L270.2 100.2L270.8 99L271.2 101L271.8 99.3L272.2 99.9L272.8 102.6L273.2 102.7L273.8 102.3L274.2 100.1L274.8 103.1L275.2 102.6L275.8 100.9L276.2 100.1L276.8 99.7L277.2 100.7L277.8 98.5L278.2 100.8L278.8 98.9L279.2 100.6L279.8 99.2L280.2 102.3L280.8 99.6L281.2 100L281.8 102.9L282.2 101.3L282.8 101.6L283.2 100.2L283.2 107.6L282.8 107.8L282.2 107.9L281.8 108.2L281.2 108.2L280.8 108.6L280.2 108.1L279.8 106.5L279.2 105.5L278.8 108.3L278.2 107.1L277.8 107.1L277.2 107.2L276.8 105.6L276.2 107.2L275.8 107.5L275.2 107.7L274.8 108.2L274.2 108.2L273.8 109.8L273.2 108.4L272.8 107.2L272.2 106.6L271.8 106.4L271.2 105.9L270.8 105.8L270.2 103.8L269.8 104.9L269.2 105.6L268.8 106.2L268.2 107.1L267.8 107.4L267.2 108.6L266.8 106.6L266.2 105.8L265.8 104.7L265.2 102.4L264.8 101.1L264.2 99.9L263.8 96.2L263.2 97.1L262.8 95.1L262.2 95L261.8 94.7L261.2 93.4L260.8 93.6L260.2 93.9L259.8 93.6L259.2 94.3L258.8 94.2L258.2 94.7L257.8 96.8L257.2 97.9L256.8 99.5L256.2 101.2L255.8 101.3L255.2 105.1L254.8 106.5L254.2 106.9L253.8 108.5L253.2 107.2L252.8 106.3L252.2 106.4L251.8 104.5L251.2 104.9L250.8 105L250.2 104.6L249.8 106.1L249.2 106.5L248.8 105.9L248.2 107.7L247.8 108.3L247.2 107.2L246.8 107.4L246.2 107L245.8 107.4L245.2 107.2L244.8 106.8L244.2 106.3L243.8 106.6L243.2 107.1L242.8 107.6L242.2 107.6L241.8 107.2L241.2 108.4L240.8 108.7L240.2 108.3L239.8 108L239.2 107.4L238.8 107.5L238.2 107.1L237.8 106.9L237.2 107.3L236.8 106.8L236.2 106.6L235.8 107.1L235.2 108.2L234.8 108.7L234.2 108.4L233.8 108.7L233.2 108.6L232.8 107.7L232.2 107.7L231.8 107.1L231.2 107.2L230.8 107.2L230.2 107.5L229.8 107.9L229.2 108.3L228.8 106.5L228.2 108.4L227.8 107.6L227.2 108.7L226.8 107.8L226.2 108.4L225.8 108.1L225.2 108L224.8 107.6L224.2 107.6L223.8 107.7L223.2 107.7L222.8 108L222.2 108.4L221.8 108.8L221.2 108.8L220.8 108.8L220.2 108.6L219.8 108.5L219.2 108.1L218.8 107.8L218.2 107.8L217.8 107.7L217.2 107.7L216.8 107.7L216.2 108L215.8 108L215.2 107.8L214.8 107.6L214.2 107.1L213.8 107.9L213.2 107.7L212.8 108.4L212.2 108.8L211.8 108.7L211.2 107.9L210.8 108.5L210.2 111.4L209.8 107.1L209.2 107.7L208.8 107.4L208.2 106.7L207.8 106.9L207.2 105.4L206.8 108L206.2 108.2L205.8 107.8L205.2 108.6L204.8 108.8L204.2 108.2L203.8 107.7L203.2 107.8L202.8 107.4L202.2 105.8L201.8 106.2L201.2 106L200.8 105.5L200.2 106.2L199.8 108.1L199.2 108.6L198.8 108.1L198.2 108.7L197.8 108.3L197.2 107.7L196.8 107.2L196.2 105.8L195.8 106.1L195.2 106.1L194.8 106.3L194.2 105.8L193.8 107.3L193.2 107.6L192.8 107.7L192.2 108.4L191.8 108.8L191.2 108.1L190.8 106.8L190.2 105.5L189.8 105L189.2 104.6L188.8 104.4L188.2 104.2L187.8 104.2L187.2 106L186.8 105.8L186.2 108.1L185.8 108.6L185.2 107.7L184.8 105.8L184.2 103.7L183.8 103.1L183.2 100.9L182.8 100.6L182.2 100L181.8 100.1L181.2 101.2L180.8 102.2L180.2 104.7L179.8 107.1L179.2 107.9L178.8 107L178.2 101.9L177.8 97.4L177.2 94.4L176.8 91.6L176.2 90.4L175.8 88.7L175.2 87.1L174.8 86.5L174.2 85.6L173.8 85L173.2 84.5L172.8 84.7L172.2 85.2L171.8 85.2L171.2 86.4L170.8 87.2L170.2 88.1L169.8 90.4L169.2 92.1L168.8 95L168.2 97.2L167.8 100.6L167.2 106.3L166.8 108.1L166.2 108.1L165.8 104.7L165.2 102.1L164.8 100.7L164.2 99.3L163.8 99.7L163.2 99.5L162.8 101.6L162.2 102.4L161.8 105L161.2 106.4L160.8 108.1L160.2 108.3L159.8 106.9L159.2 104.5L158.8 103.9L158.2 103.9L157.8 103.3L157.2 103.6L156.8 104.4L156.2 104.5L155.8 104.8L155.2 106.5L154.8 107.6L154.2 108.3L153.8 107.7L153.2 107.5L152.8 105.9L152.2 105.9L151.8 105.7L151.2 105.2L150.8 105.1L150.2 105.2L149.8 105.2L149.2 106.5L148.8 106.5L148.2 107.4L147.8 108.3L147.2 108.2L146.8 107L146.2 106.3L145.8 105.8L145.2 106.3L144.8 106.4L144.2 106.2L143.8 106L143.2 106.8L142.8 107.6L142.2 107.8L141.8 108.3L141.2 107.8L140.8 108.3L140.2 107.9L139.8 107.2L139.2 103L138.8 107.2L138.2 106.6L137.8 105.1L137.2 106.1L136.8 107.4L136.2 107.9L135.8 108.3L135.2 108L134.8 107.7L134.2 107.7L133.8 107.4L133.2 107.1L132.8 107L132.2 106.8L131.8 106.9L131.2 105.1L130.8 106.8L130.2 106.6L129.8 106.7L129.2 106.2L128.8 106.5L128.2 107.1L127.8 107.1L127.2 105.2L126.8 107.5L126.2 108L125.8 108L125.2 108L124.8 106.7L124.2 107.6L123.8 107.2L123.2 105.5L122.8 106.8L122.2 105.8L121.8 107L121.2 106.3L120.8 106.6L120.2 108L119.8 108.2L119.2 106.8L118.8 108.1L118.2 107.2L117.8 106.9L117.2 106.9L116.8 106.2L116.2 106.3L115.8 106.6L115.2 106.9L114.8 106.5L114.2 107L113.8 107.8L113.2 107.9L112.8 107.2L112.2 105L111.8 107L111.2 108.8L110.8 106.1L110.2 106.1L109.8 105.6L109.2 105.9L108.8 106.5L108.2 106.8L107.8 106.8L107.2 106.7L106.8 105.8L106.2 106.5L105.8 105.1L105.2 105.2L104.8 105.1L104.2 104.8L103.8 104.9L103.2 105.1L102.8 104.8L102.2 105.8L101.8 105.6L101.2 106.2L100.8 106L100.2 106.5L99.8 105.2L99.2 104.6L98.8 102.8L98.2 102.4L97.8 102L97.2 102.3L96.8 102.2L96.2 103.7L95.8 103.3L95.2 105.5L94.8 106.6L94.2 104.7L93.8 103.7L93.2 101.2L92.8 98.3L92.2 95L91.8 94.1L91.2 92.3L90.8 91.3L90.2 90.7L89.8 89.3L89.2 89.5L88.8 89.1L88.2 89.3L87.8 89.4L87.2 90L86.8 90.8L86.2 91.5L85.8 92.8L85.2 94.3L84.8 97L84.2 99.1L83.8 101.1L83.2 104.5L82.8 105.8L82.2 106.1L81.8 104.4L81.2 103.2L80.8 102.5L80.2 101.8L79.8 100.7L79.2 101.5L78.8 102.2L78.2 103.3L77.8 104.5L77.2 104.1L76.8 104.7L76.2 105.8L75.8 105.3L75.2 103L74.8 104.2L74.2 103.3L73.8 103.2L73.2 103.5L72.8 103.6L72.2 103.7L71.8 104.5L71.2 103.7L70.8 105.1L70.2 105.3L69.8 105.3L69.2 104.5L68.8 104L68.2 104.3L67.8 104.1L67.2 102.7L66.8 103.7L66.2 104.1L65.8 101.4L65.2 104L64.8 104.3L64.2 104.9L63.8 105L63.2 103.1L62.8 103.9L62.2 101.3L61.8 104.1L61.2 101.5L60.8 103.6L60.2 104.1L59.8 103.4L59.2 103.9L58.8 104.4L58.2 102.8L57.8 104.6L57.2 104L56.8 103.6L56.2 103.9L55.8 103.9L55.2 104.3L54.8 104L54.2 104.1L53.8 103.5L53.2 104.2L52.8 103.7L52.2 104L51.8 103.7L51.2 103.8L50.8 103.6L50.2 103.7L49.8 103.6L49.2 103.6L48.8 102L48.2 103.4L47.8 103.1L47.2 102.8L46.8 102.5L46.2 102.8L45.8 102.8L45.2 102.5L44.8 102.8L44.2 102.5L43.8 102.3L43.2 102.4L42.8 100.7L42.2 101.6L41.8 102.3L41.2 102.1L40.8 99.1L40.2 101.1L39.8 101.7L39.2 100.2L38.8 100.9L38.2 100.4L37.8 100.6L37.2 100.3L36.8 99.9L36.2 99.9L35.8 100.1L35.2 99.8L34.8 99.3L34.2 97.3L33.8 99.2Z" fill="#d4541b" fill-opacity="0.55" stroke="none"/><path d="M33.8 97.4L34.2 92.8L34.8 95.6L35.2 95.5L35.8 95.6L36.2 94.7L36.8 96.5L37.2 94.7L37.8 97.4L38.2 97.7L38.8 96.9L39.2 95.9L39.8 96.2L40.2 97.1L40.8 95.6L41.2 96.1L41.8 94.6L42.2 96.4L42.8 97.9L43.2 97.5L43.8 95.8L44.2 98.8L44.8 97.2L45.2 100.3L45.8 99L46.2 99.3L46.8 96.7L47.2 99.8L47.8 97.3L48.2 98.3L48.8 100.6L49.2 100.2L49.8 99.4L50.2 98.7L50.8 98.3L51.2 100.8L51.8 99.5L52.2 97.8L52.8 100.3L53.2 99.2L53.8 100.9L54.2 99.9L54.8 99.7L55.2 99.4L55.8 99.6L56.2 96.8L56.8 98.4L57.2 98.9L57.8 98.7L58.2 99.2L58.8 99L59.2 99.2L59.8 100.9L60.2 99.8L60.8 97.4L61.2 98.2L61.8 101.1L62.2 96.9L62.8 101.8L63.2 98.1L63.8 98.2L64.2 100.8L64.8 100.2L65.2 99.6L65.8 98.6L66.2 99.8L66.8 100.8L67.2 99.2L67.8 98.7L68.2 99.9L68.8 101.2L69.2 100.5L69.8 101.6L70.2 101.3L70.8 100.6L71.2 101.3L71.8 99.3L72.2 98.5L72.8 98.3L73.2 98.1L73.8 99.7L74.2 98.9L74.8 98.8L75.2 98.3L75.8 101.7L76.2 102.3L76.8 99.8L77.2 101.1L77.8 98.9L78.2 99L78.8 99.5L79.2 97L79.8 98L80.2 98.5L80.8 97.2L81.2 98.2L81.8 99.3L82.2 102L82.8 101.8L83.2 98.5L83.8 98.5L84.2 96L84.8 93.1L85.2 92.2L85.8 91.2L86.2 89.6L86.8 89.8L87.2 88.6L87.8 87.2L88.2 87.4L88.8 87.4L89.2 87.2L89.8 87.7L90.2 87.5L90.8 88.9L91.2 89.3L91.8 92.4L92.2 93.3L92.8 95.7L93.2 97.2L93.8 98.5L94.2 99.5L94.8 104.1L95.2 100.2L95.8 98.1L96.2 100.6L96.8 98.4L97.2 99.4L97.8 98.8L98.2 97.4L98.8 100.3L99.2 99.1L99.8 101.9L100.2 101.4L100.8 103.1L101.2 101.4L101.8 101.3L102.2 99.9L102.8 102.3L103.2 99.3L103.8 102.9L104.2 100.4L104.8 102.7L105.2 100L105.8 101L106.2 103.6L106.8 103L107.2 102L107.8 102.6L108.2 102.1L108.8 101.4L109.2 101.7L109.8 99.5L110.2 101.5L110.8 101.7L111.2 101.3L111.8 103.1L112.2 102.4L112.8 101.5L113.2 103.9L113.8 105.5L114.2 100.8L114.8 103L115.2 100.2L115.8 104.4L116.2 100.7L116.8 102.4L117.2 102.9L117.8 99.3L118.2 102.9L118.8 101.1L119.2 103.1L119.8 101.8L120.2 102.3L120.8 102.6L121.2 102.5L121.8 101.7L122.2 101.4L122.8 99.4L123.2 101.3L123.8 102.7L124.2 104.7L124.8 100.4L125.2 104.2L125.8 105.9L126.2 106L126.8 105L127.2 103.6L127.8 102.7L128.2 104L128.8 102L129.2 101L129.8 102.3L130.2 101.9L130.8 101L131.2 100.8L131.8 101.7L132.2 100.9L132.8 103L133.2 101.4L133.8 103.9L134.2 104.6L134.8 101.6L135.2 103.1L135.8 105.1L136.2 104.8L136.8 100.1L137.2 101.3L137.8 101.6L138.2 103.8L138.8 103.8L139.2 100.3L139.8 103.2L140.2 103.8L140.8 103L141.2 102.8L141.8 106.4L142.2 102.8L142.8 102.4L143.2 103.5L143.8 104.2L144.2 101L144.8 100.9L145.2 101.9L145.8 102.1L146.2 103.4L146.8 102.7L147.2 102L147.8 103.2L148.2 104.5L148.8 103.1L149.2 102.8L149.8 100L150.2 100.8L150.8 102.3L151.2 100.9L151.8 101.2L152.2 102.7L152.8 102.2L153.2 102.2L153.8 104.9L154.2 101.6L154.8 103.5L155.2 101.1L155.8 99.5L156.2 101.5L156.8 100.4L157.2 99.4L157.8 102.2L158.2 101.2L158.8 100.9L159.2 102.5L159.8 103.8L160.2 105.4L160.8 104.3L161.2 100.1L161.8 100.1L162.2 99.5L162.8 97.7L163.2 95.9L163.8 97.1L164.2 97.9L164.8 97.5L165.2 96.3L165.8 100.8L166.2 103.3L166.8 103.8L167.2 100.1L167.8 97.1L168.2 94.7L168.8 91.8L169.2 90L169.8 87.8L170.2 86.2L170.8 85.8L171.2 85.6L171.8 84.1L172.2 83.6L172.8 83.7L173.2 83.8L173.8 84.1L174.2 84.1L174.8 84.9L175.2 85.9L175.8 86.9L176.2 87.5L176.8 89.4L177.2 91.8L177.8 94.3L178.2 96L178.8 100.5L179.2 103.5L179.8 101.2L180.2 100.7L180.8 99.2L181.2 97.8L181.8 97L182.2 97.3L182.8 96.8L183.2 98.1L183.8 98.3L184.2 101.8L184.8 100.6L185.2 102L185.8 100.8L186.2 105.7L186.8 103.5L187.2 100.6L187.8 101.1L188.2 97.9L188.8 102.9L189.2 100.9L189.8 101.5L190.2 101.6L190.8 103.7L191.2 102.5L191.8 104.4L192.2 104.8L192.8 104.5L193.2 102.9L193.8 104.2L194.2 101L194.8 104.2L195.2 102.6L195.8 103.4L196.2 100.8L196.8 102.8L197.2 103.1L197.8 102.8L198.2 103.7L198.8 103.3L199.2 104.2L199.8 102.9L200.2 101.1L200.8 101.4L201.2 102L201.8 101.9L202.2 100.4L202.8 104.8L203.2 102.1L203.8 103.5L204.2 102.9L204.8 102.5L205.2 105.4L205.8 101.5L206.2 102.4L206.8 104.3L207.2 102.4L207.8 103.9L208.2 104.4L208.8 102.5L209.2 104.1L209.8 102.7L210.2 104.5L210.8 104.7L211.2 105.7L211.8 103.5L212.2 104.5L212.8 102.5L213.2 103.4L213.8 100.6L214.2 101.1L214.8 103.7L215.2 103.1L215.8 104.6L216.2 101.8L216.8 101.8L217.2 103.9L217.8 102L218.2 104.1L218.8 101.7L219.2 105.1L219.8 102.7L220.2 101.9L220.8 101.6L221.2 104.9L221.8 102.5L222.2 104.9L222.8 103.3L223.2 102.8L223.8 103.3L224.2 103.6L224.8 103.1L225.2 102.4L225.8 104.4L226.2 106.3L226.8 105.4L227.2 104.4L227.8 103.2L228.2 104.1L228.8 102.8L229.2 103.4L229.8 104.4L230.2 102.9L230.8 104.5L231.2 103.8L231.8 105.5L232.2 104.2L232.8 105.3L233.2 102.7L233.8 101.7L234.2 106.1L234.8 102.2L235.2 104.1L235.8 103.9L236.2 101.4L236.8 104.5L237.2 102.5L237.8 101.5L238.2 102.9L238.8 102.2L239.2 102.8L239.8 104.3L240.2 104.4L240.8 105.1L241.2 103.2L241.8 101.3L242.2 103.1L242.8 100.5L243.2 102.3L243.8 103.3L244.2 100.9L244.8 105.4L245.2 105.7L245.8 104.2L246.2 105.2L246.8 102.5L247.2 102.3L247.8 106.1L248.2 103.2L248.8 101.7L249.2 103.9L249.8 102.9L250.2 100.6L250.8 99.5L251.2 102.5L251.8 101.1L252.2 103.7L252.8 101.3L253.2 102.5L253.8 102.5L254.2 103.8L254.8 103.1L255.2 102.9L255.8 98.4L256.2 99.7L256.8 95.9L257.2 95.3L257.8 93.6L258.2 93L258.8 92.8L259.2 91.6L259.8 90.8L260.2 93L260.8 92.4L261.2 91.2L261.8 91.8L262.2 92L262.8 93.5L263.2 95L263.8 94.4L264.2 96L264.8 97.9L265.2 99.6L265.8 100.6L266.2 101.3L266.8 104L267.2 103.9L267.8 104.1L268.2 101.5L268.8 101.4L269.2 103L269.8 101.6L270.2 101.4L270.8 101.1L271.2 104.4L271.8 101.2L272.2 101.5L272.8 103.6L273.2 104.1L273.8 105.2L274.2 103.5L274.8 105.7L275.2 104L275.8 104.2L276.2 104.1L276.8 101.8L277.2 101.6L277.8 102.6L278.2 102.9L278.8 103.7L279.2 101.1L279.8 101.7L280.2 103.4L280.8 103.7L281.2 102.5L281.8 103.8L282.2 104.3L282.8 102.9L283.2 102.9L283.2 107.6L282.8 107.8L282.2 107.9L281.8 108.2L281.2 108.2L280.8 108.6L280.2 108.1L279.8 106.5L279.2 105.5L278.8 108.3L278.2 107.1L277.8 107.1L277.2 107.2L276.8 105.6L276.2 107.2L275.8 107.5L275.2 107.7L274.8 108.2L274.2 108.2L273.8 109.8L273.2 108.4L272.8 107.2L272.2 106.6L271.8 106.4L271.2 105.9L270.8 105.8L270.2 103.8L269.8 104.9L269.2 105.6L268.8 106.2L268.2 107.1L267.8 107.4L267.2 108.6L266.8 106.6L266.2 105.8L265.8 104.7L265.2 102.4L264.8 101.1L264.2 99.9L263.8 96.2L263.2 97.1L262.8 95.1L262.2 95L261.8 94.7L261.2 93.4L260.8 93.6L260.2 93.9L259.8 93.6L259.2 94.3L258.8 94.2L258.2 94.7L257.8 96.8L257.2 97.9L256.8 99.5L256.2 101.2L255.8 101.3L255.2 105.1L254.8 106.5L254.2 106.9L253.8 108.5L253.2 107.2L252.8 106.3L252.2 106.4L251.8 104.5L251.2 104.9L250.8 105L250.2 104.6L249.8 106.1L249.2 106.5L248.8 105.9L248.2 107.7L247.8 108.3L247.2 107.2L246.8 107.4L246.2 107L245.8 107.4L245.2 107.2L244.8 106.8L244.2 106.3L243.8 106.6L243.2 107.1L242.8 107.6L242.2 107.6L241.8 107.2L241.2 108.4L240.8 108.7L240.2 108.3L239.8 108L239.2 107.4L238.8 107.5L238.2 107.1L237.8 106.9L237.2 107.3L236.8 106.8L236.2 106.6L235.8 107.1L235.2 108.2L234.8 108.7L234.2 108.4L233.8 108.7L233.2 108.6L232.8 107.7L232.2 107.7L231.8 107.1L231.2 107.2L230.8 107.2L230.2 107.5L229.8 107.9L229.2 108.3L228.8 106.5L228.2 108.4L227.8 107.6L227.2 108.7L226.8 107.8L226.2 108.4L225.8 108.1L225.2 108L224.8 107.6L224.2 107.6L223.8 107.7L223.2 107.7L222.8 108L222.2 108.4L221.8 108.8L221.2 108.8L220.8 108.8L220.2 108.6L219.8 108.5L219.2 108.1L218.8 107.8L218.2 107.8L217.8 107.7L217.2 107.7L216.8 107.7L216.2 108L215.8 108L215.2 107.8L214.8 107.6L214.2 107.1L213.8 107.9L213.2 107.7L212.8 108.4L212.2 108.8L211.8 108.7L211.2 107.9L210.8 108.5L210.2 111.4L209.8 107.1L209.2 107.7L208.8 107.4L208.2 106.7L207.8 106.9L207.2 105.4L206.8 108L206.2 108.2L205.8 107.8L205.2 108.6L204.8 108.8L204.2 108.2L203.8 107.7L203.2 107.8L202.8 107.4L202.2 105.8L201.8 106.2L201.2 106L200.8 105.5L200.2 106.2L199.8 108.1L199.2 108.6L198.8 108.1L198.2 108.7L197.8 108.3L197.2 107.7L196.8 107.2L196.2 105.8L195.8 106.1L195.2 106.1L194.8 106.3L194.2 105.8L193.8 107.3L193.2 107.6L192.8 107.7L192.2 108.4L191.8 108.8L191.2 108.1L190.8 106.8L190.2 105.5L189.8 105L189.2 104.6L188.8 104.4L188.2 104.2L187.8 104.2L187.2 106L186.8 105.8L186.2 108.1L185.8 108.6L185.2 107.7L184.8 105.8L184.2 103.7L183.8 103.1L183.2 100.9L182.8 100.6L182.2 100L181.8 100.1L181.2 101.2L180.8 102.2L180.2 104.7L179.8 107.1L179.2 107.9L178.8 107L178.2 101.9L177.8 97.4L177.2 94.4L176.8 91.6L176.2 90.4L175.8 88.7L175.2 87.1L174.8 86.5L174.2 85.6L173.8 85L173.2 84.5L172.8 84.7L172.2 85.2L171.8 85.2L171.2 86.4L170.8 87.2L170.2 88.1L169.8 90.4L169.2 92.1L168.8 95L168.2 97.2L167.8 100.6L167.2 106.3L166.8 108.1L166.2 108.1L165.8 104.7L165.2 102.1L164.8 100.7L164.2 99.3L163.8 99.7L163.2 99.5L162.8 101.6L162.2 102.4L161.8 105L161.2 106.4L160.8 108.1L160.2 108.3L159.8 106.9L159.2 104.5L158.8 103.9L158.2 103.9L157.8 103.3L157.2 103.6L156.8 104.4L156.2 104.5L155.8 104.8L155.2 106.5L154.8 107.6L154.2 108.3L153.8 107.7L153.2 107.5L152.8 105.9L152.2 105.9L151.8 105.7L151.2 105.2L150.8 105.1L150.2 105.2L149.8 105.2L149.2 106.5L148.8 106.5L148.2 107.4L147.8 108.3L147.2 108.2L146.8 107L146.2 106.3L145.8 105.8L145.2 106.3L144.8 106.4L144.2 106.2L143.8 106L143.2 106.8L142.8 107.6L142.2 107.8L141.8 108.3L141.2 107.8L140.8 108.3L140.2 107.9L139.8 107.2L139.2 103L138.8 107.2L138.2 106.6L137.8 105.1L137.2 106.1L136.8 107.4L136.2 107.9L135.8 108.3L135.2 108L134.8 107.7L134.2 107.7L133.8 107.4L133.2 107.1L132.8 107L132.2 106.8L131.8 106.9L131.2 105.1L130.8 106.8L130.2 106.6L129.8 106.7L129.2 106.2L128.8 106.5L128.2 107.1L127.8 107.1L127.2 105.2L126.8 107.5L126.2 108L125.8 108L125.2 108L124.8 106.7L124.2 107.6L123.8 107.2L123.2 105.5L122.8 106.8L122.2 105.8L121.8 107L121.2 106.3L120.8 106.6L120.2 108L119.8 108.2L119.2 106.8L118.8 108.1L118.2 107.2L117.8 106.9L117.2 106.9L116.8 106.2L116.2 106.3L115.8 106.6L115.2 106.9L114.8 106.5L114.2 107L113.8 107.8L113.2 107.9L112.8 107.2L112.2 105L111.8 107L111.2 108.8L110.8 106.1L110.2 106.1L109.8 105.6L109.2 105.9L108.8 106.5L108.2 106.8L107.8 106.8L107.2 106.7L106.8 105.8L106.2 106.5L105.8 105.1L105.2 105.2L104.8 105.1L104.2 104.8L103.8 104.9L103.2 105.1L102.8 104.8L102.2 105.8L101.8 105.6L101.2 106.2L100.8 106L100.2 106.5L99.8 105.2L99.2 104.6L98.8 102.8L98.2 102.4L97.8 102L97.2 102.3L96.8 102.2L96.2 103.7L95.8 103.3L95.2 105.5L94.8 106.6L94.2 104.7L93.8 103.7L93.2 101.2L92.8 98.3L92.2 95L91.8 94.1L91.2 92.3L90.8 91.3L90.2 90.7L89.8 89.3L89.2 89.5L88.8 89.1L88.2 89.3L87.8 89.4L87.2 90L86.8 90.8L86.2 91.5L85.8 92.8L85.2 94.3L84.8 97L84.2 99.1L83.8 101.1L83.2 104.5L82.8 105.8L82.2 106.1L81.8 104.4L81.2 103.2L80.8 102.5L80.2 101.8L79.8 100.7L79.2 101.5L78.8 102.2L78.2 103.3L77.8 104.5L77.2 104.1L76.8 104.7L76.2 105.8L75.8 105.3L75.2 103L74.8 104.2L74.2 103.3L73.8 103.2L73.2 103.5L72.8 103.6L72.2 103.7L71.8 104.5L71.2 103.7L70.8 105.1L70.2 105.3L69.8 105.3L69.2 104.5L68.8 104L68.2 104.3L67.8 104.1L67.2 102.7L66.8 103.7L66.2 104.1L65.8 101.4L65.2 104L64.8 104.3L64.2 104.9L63.8 105L63.2 103.1L62.8 103.9L62.2 101.3L61.8 104.1L61.2 101.5L60.8 103.6L60.2 104.1L59.8 103.4L59.2 103.9L58.8 104.4L58.2 102.8L57.8 104.6L57.2 104L56.8 103.6L56.2 103.9L55.8 103.9L55.2 104.3L54.8 104L54.2 104.1L53.8 103.5L53.2 104.2L52.8 103.7L52.2 104L51.8 103.7L51.2 103.8L50.8 103.6L50.2 103.7L49.8 103.6L49.2 103.6L48.8 102L48.2 103.4L47.8 103.1L47.2 102.8L46.8 102.5L46.2 102.8L45.8 102.8L45.2 102.5L44.8 102.8L44.2 102.5L43.8 102.3L43.2 102.4L42.8 100.7L42.2 101.6L41.8 102.3L41.2 102.1L40.8 99.1L40.2 101.1L39.8 101.7L39.2 100.2L38.8 100.9L38.2 100.4L37.8 100.6L37.2 100.3L36.8 99.9L36.2 99.9L35.8 100.1L35.2 99.8L34.8 99.3L34.2 97.3L33.8 99.2Z" fill="#d4541b" stroke="#d4541b" stroke-width="0.5" stroke-linejoin="round"/><path d="M33.8 115.5L34.2 118.9L34.8 115.5L35.2 116.4L35.8 118.2L36.2 114.9L36.8 116.6L37.2 118L37.8 116.1L38.2 115.1L38.8 116.6L39.2 114.9L39.8 116.5L40.2 116.6L40.8 116.6L41.2 117.7L41.8 117.7L42.2 118.3L42.8 118.4L43.2 120.6L43.8 118.2L44.2 117.2L44.8 120.2L45.2 118.4L45.8 119L46.2 118.4L46.8 119.5L47.2 119.8L47.8 121.9L48.2 120.5L48.8 121.4L49.2 122.7L49.8 121.3L50.2 122.3L50.8 122.2L51.2 119.6L51.8 123.8L52.2 120.5L52.8 120.5L53.2 121.4L53.8 119.8L54.2 120.6L54.8 119.5L55.2 123.2L55.8 120.4L56.2 121.7L56.8 122.3L57.2 121.8L57.8 120.9L58.2 119.4L58.8 119.4L59.2 122L59.8 120L60.2 120.6L60.8 123.3L61.2 120.8L61.8 122.3L62.2 120.7L62.8 120.5L63.2 120.5L63.8 120.8L64.2 121.1L64.8 121.9L65.2 122.8L65.8 122.8L66.2 119.9L66.8 122.3L67.2 121L67.8 122.5L68.2 121.8L68.8 120.7L69.2 123.8L69.8 120.9L70.2 122.7L70.8 120.8L71.2 120.3L71.8 120.3L72.2 125.4L72.8 120.1L73.2 120.9L73.8 123.3L74.2 122.3L74.8 119.4L75.2 120.4L75.8 122L76.2 121L76.8 123.6L77.2 121.2L77.8 122.7L78.2 123L78.8 120.7L79.2 121.4L79.8 122.2L80.2 121.8L80.8 120.8L81.2 121.2L81.8 121.1L82.2 119.5L82.8 118.1L83.2 120.3L83.8 117.5L84.2 117.7L84.8 117.7L85.2 118.1L85.8 116.8L86.2 114.8L86.8 115.8L87.2 115.6L87.8 114.6L88.2 115.5L88.8 114.6L89.2 114L89.8 114.3L90.2 116.1L90.8 115L91.2 115.3L91.8 116L92.2 115.1L92.8 115.8L93.2 119.6L93.8 116.6L94.2 119.6L94.8 118.8L95.2 121L95.8 119.8L96.2 121.5L96.8 120.4L97.2 121.6L97.8 122L98.2 122.3L98.8 124.4L99.2 120.5L99.8 123.2L100.2 122.8L100.8 121L101.2 122.4L101.8 120.3L102.2 122.8L102.8 121.3L103.2 121.7L103.8 120.8L104.2 120.7L104.8 120.7L105.2 122.5L105.8 122.5L106.2 122.4L106.8 122.4L107.2 122L107.8 124L108.2 122.3L108.8 122.2L109.2 122.2L109.8 121.9L110.2 122.5L110.8 122.2L111.2 121.2L111.8 125.8L112.2 124.5L112.8 124L113.2 121.8L113.8 121.5L114.2 124.5L114.8 126L115.2 123.3L115.8 123.4L116.2 122.5L116.8 122.9L117.2 123L117.8 122.3L118.2 121.9L118.8 124.2L119.2 121.8L119.8 124.8L120.2 122.2L120.8 122.7L121.2 121.7L121.8 123L122.2 121L122.8 121.1L123.2 122.9L123.8 124.7L124.2 123.9L124.8 123.6L125.2 125L125.8 123.4L126.2 125L126.8 122.6L127.2 123.2L127.8 124.1L128.2 124.7L128.8 121.2L129.2 121.1L129.8 121.4L130.2 121L130.8 124.7L131.2 123.9L131.8 122L132.2 124.3L132.8 123.6L133.2 123.9L133.8 122.5L134.2 123.4L134.8 122.7L135.2 123.4L135.8 123.1L136.2 123.8L136.8 123.9L137.2 123.8L137.8 124.4L138.2 122.2L138.8 123.5L139.2 124.4L139.8 122.1L140.2 125.3L140.8 123.2L141.2 122.8L141.8 122.1L142.2 124.1L142.8 124.5L143.2 124.8L143.8 126.2L144.2 122.6L144.8 124L145.2 126.4L145.8 121.9L146.2 126.4L146.8 122.2L147.2 123.5L147.8 124.2L148.2 120.9L148.8 122.3L149.2 122.5L149.8 121.2L150.2 123.2L150.8 121.3L151.2 121.3L151.8 124.6L152.2 123.3L152.8 125.6L153.2 124.8L153.8 123.5L154.2 124.9L154.8 123.7L155.2 123.2L155.8 124.3L156.2 122.4L156.8 121.5L157.2 122.5L157.8 122.1L158.2 121.2L158.8 120.5L159.2 121.8L159.8 120L160.2 121.7L160.8 120.3L161.2 123.1L161.8 120.8L162.2 122.4L162.8 121.7L163.2 123.3L163.8 124L164.2 123.2L164.8 121.8L165.2 121.6L165.8 120.6L166.2 118.6L166.8 116.6L167.2 115.5L167.8 114.3L168.2 115.1L168.8 113.1L169.2 113.1L169.8 110.8L170.2 111.1L170.8 110.8L171.2 110.1L171.8 109.9L172.2 109L172.8 109.5L173.2 109.5L173.8 109.9L174.2 109.4L174.8 109.3L175.2 110.5L175.8 111.1L176.2 111.4L176.8 111.4L177.2 112.4L177.8 114L178.2 115.1L178.8 115.3L179.2 116.2L179.8 118.1L180.2 119.4L180.8 120.8L181.2 123.3L181.8 124.6L182.2 126.9L182.8 127.2L183.2 122.8L183.8 122.3L184.2 124L184.8 121.7L185.2 122.6L185.8 120.4L186.2 120L186.8 119.9L187.2 120.6L187.8 121.1L188.2 121.8L188.8 122.3L189.2 122.2L189.8 122.6L190.2 122.7L190.8 123.1L191.2 123.5L191.8 126.2L192.2 125.1L192.8 125.1L193.2 124.2L193.8 123.6L194.2 123.5L194.8 124L195.2 122.8L195.8 122L196.2 123.4L196.8 126L197.2 121.9L197.8 123.1L198.2 124.7L198.8 123.3L199.2 122.9L199.8 124.2L200.2 124.8L200.8 126L201.2 124.2L201.8 123.5L202.2 127.1L202.8 125.9L203.2 125L203.8 125.7L204.2 123.1L204.8 122.7L205.2 124.1L205.8 126.8L206.2 123.8L206.8 123.4L207.2 124.4L207.8 122.8L208.2 123.8L208.8 126.2L209.2 123.3L209.8 124.4L210.2 122.8L210.8 126.3L211.2 123.9L211.8 125.8L212.2 123.4L212.8 123.8L213.2 127L213.8 123.7L214.2 123.8L214.8 123.6L215.2 124.1L215.8 123.1L216.2 123L216.8 126.7L217.2 122.7L217.8 127.6L218.2 123.3L218.8 124.7L219.2 125L219.8 122.9L220.2 123.7L220.8 124.7L221.2 123.3L221.8 125.3L222.2 124L222.8 123.7L223.2 124.4L223.8 124.9L224.2 124.5L224.8 124.2L225.2 123L225.8 123.9L226.2 122.6L226.8 124.1L227.2 125.1L227.8 122.9L228.2 126.7L228.8 123.9L229.2 124L229.8 124.5L230.2 127.2L230.8 124L231.2 124.7L231.8 122.8L232.2 124.3L232.8 125.7L233.2 123.4L233.8 123L234.2 122.9L234.8 124.2L235.2 124.9L235.8 124.2L236.2 124.3L236.8 123.2L237.2 123.5L237.8 123.4L238.2 126.4L238.8 123.3L239.2 123.3L239.8 125L240.2 122.7L240.8 124.5L241.2 126.3L241.8 124L242.2 123.1L242.8 124.5L243.2 124.1L243.8 123.8L244.2 124.5L244.8 123.4L245.2 122.5L245.8 125.8L246.2 124.3L246.8 122.3L247.2 124.9L247.8 122.4L248.2 123.9L248.8 126L249.2 125.4L249.8 123.4L250.2 124.3L250.8 125.3L251.2 127.8L251.8 123.9L252.2 122.9L252.8 123L253.2 123.2L253.8 122.2L254.2 121.6L254.8 119.5L255.2 118.2L255.8 119.8L256.2 117.9L256.8 118L257.2 116.6L257.8 116.7L258.2 115.5L258.8 116.1L259.2 115.8L259.8 115.5L260.2 116.4L260.8 117.1L261.2 115.8L261.8 118.5L262.2 117L262.8 118.1L263.2 117L263.8 119.2L264.2 118.2L264.8 118.5L265.2 118.2L265.8 118.9L266.2 121.1L266.8 120.8L267.2 122.8L267.8 122L268.2 122.2L268.8 123L269.2 123.1L269.8 123.4L270.2 124.4L270.8 123.1L271.2 122.7L271.8 126.1L272.2 126L272.8 121.8L273.2 123L273.8 123.3L274.2 124L274.8 124.4L275.2 125.4L275.8 125.1L276.2 122.3L276.8 121.8L277.2 125.1L277.8 122.8L278.2 123L278.8 123.6L279.2 123.2L279.8 125.5L280.2 124.8L280.8 125.4L281.2 125.8L281.8 125.6L282.2 125.8L282.8 126.2L283.2 125.3L283.2 129.8L282.8 130.7L282.2 131.5L281.8 131.3L281.2 131.9L280.8 130.6L280.2 131.8L279.8 130.2L279.2 131.1L278.8 130.7L278.2 131.2L277.8 130.5L277.2 130.8L276.8 130.3L276.2 130.4L275.8 130.1L275.2 130.2L274.8 129.6L274.2 129.9L273.8 129.4L273.2 129.7L272.8 130L272.2 131.3L271.8 131.4L271.2 131.3L270.8 131.1L270.2 131.8L269.8 131.8L269.2 130.8L268.8 129.1L268.2 129L267.8 128.3L267.2 126.2L266.8 126.6L266.2 125.9L265.8 124.5L265.2 122.7L264.8 122.9L264.2 121.9L263.8 121.8L263.2 121L262.8 120.3L262.2 120.3L261.8 119.7L261.2 120.1L260.8 119.7L260.2 119.4L259.8 119.4L259.2 120.1L258.8 120L258.2 120.4L257.8 120.5L257.2 121L256.8 121.9L256.2 122.5L255.8 123.8L255.2 124.2L254.8 126.6L254.2 125.8L253.8 126.5L253.2 128.4L252.8 128.4L252.2 132.7L251.8 130.1L251.2 131.8L250.8 131.8L250.2 132L249.8 131.6L249.2 131.2L248.8 130L248.2 129.4L247.8 129.3L247.2 129.9L246.8 129.8L246.2 129.6L245.8 129.6L245.2 129.1L244.8 130.1L244.2 130.5L243.8 130.6L243.2 130.2L242.8 131.3L242.2 131L241.8 130.2L241.2 131.2L240.8 130.6L240.2 132L239.8 132L239.2 130.1L238.8 129.6L238.2 131.3L237.8 130.6L237.2 131L236.8 130.9L236.2 130.1L235.8 130.7L235.2 129.9L234.8 129.9L234.2 131.1L233.8 131.9L233.2 131.4L232.8 130.5L232.2 131.7L231.8 131.5L231.2 133.8L230.8 131.3L230.2 131.8L229.8 130.9L229.2 131.7L228.8 130.7L228.2 131.4L227.8 131.3L227.2 134.4L226.8 130.4L226.2 130.9L225.8 130.7L225.2 130L224.8 130.7L224.2 131.4L223.8 131.1L223.2 129.1L222.8 131.6L222.2 131.9L221.8 132.3L221.2 132L220.8 131.7L220.2 131.7L219.8 132L219.2 131.7L218.8 131.3L218.2 129.7L217.8 131.3L217.2 131.4L216.8 131L216.2 130.7L215.8 132L215.2 131.2L214.8 129.7L214.2 131.3L213.8 131.5L213.2 130.9L212.8 131.7L212.2 131.6L211.8 132.1L211.2 131.3L210.8 130.1L210.2 131.9L209.8 130.7L209.2 131.3L208.8 131.2L208.2 130.1L207.8 130.4L207.2 130.7L206.8 129.9L206.2 128.2L205.8 130.7L205.2 131L204.8 130.6L204.2 131.4L203.8 131.1L203.2 131.1L202.8 131.9L202.2 131.8L201.8 132L201.2 131.4L200.8 131.6L200.2 131.2L199.8 132.3L199.2 130.8L198.8 130.2L198.2 130.3L197.8 129.9L197.2 129.4L196.8 129.7L196.2 129.7L195.8 129.9L195.2 129.8L194.8 130.2L194.2 130L193.8 130.3L193.2 131.5L192.8 132.9L192.2 130.9L191.8 131.8L191.2 131.2L190.8 130.1L190.2 130.1L189.8 128.8L189.2 128.2L188.8 128.4L188.2 127.5L187.8 127.3L187.2 125.8L186.8 127L186.2 125L185.8 126.4L185.2 126.9L184.8 128.1L184.2 129.3L183.8 129.7L183.2 130.5L182.8 131.5L182.2 131.7L181.8 130.5L181.2 129.3L180.8 126.5L180.2 125L179.8 122L179.2 120.5L178.8 119.7L178.2 117.6L177.8 116.4L177.2 114.3L176.8 114.4L176.2 114.1L175.8 113.4L175.2 112.4L174.8 112.2L174.2 111.9L173.8 111.7L173.2 111.5L172.8 111.2L172.2 111.2L171.8 111.8L171.2 111.7L170.8 112.3L170.2 113.7L169.8 113.8L169.2 114.7L168.8 115.2L168.2 116.9L167.8 117.2L167.2 118.6L166.8 121L166.2 122.7L165.8 124L165.2 126.1L164.8 128.8L164.2 130.7L163.8 130.4L163.2 130.1L162.8 129L162.2 129.1L161.8 128.2L161.2 127L160.8 125.7L160.2 125.7L159.8 126.2L159.2 126.4L158.8 126.3L158.2 126.7L157.8 126.7L157.2 127.9L156.8 127.7L156.2 129.6L155.8 130.3L155.2 130.5L154.8 130.8L154.2 129L153.8 130.9L153.2 130.2L152.8 129.1L152.2 130.3L151.8 129.4L151.2 129L150.8 128.8L150.2 129.1L149.8 129L149.2 128.6L148.8 128.1L148.2 129L147.8 129.5L147.2 129.6L146.8 130.2L146.2 130.7L145.8 132.4L145.2 130.5L144.8 130.3L144.2 130.1L143.8 130.6L143.2 130.9L142.8 130.2L142.2 129.7L141.8 130.1L141.2 129.7L140.8 129.7L140.2 129.1L139.8 129.7L139.2 129.8L138.8 129.6L138.2 130L137.8 130.2L137.2 131.6L136.8 130.7L136.2 130.7L135.8 130.8L135.2 130.7L134.8 133L134.2 130.3L133.8 130.3L133.2 130.5L132.8 130.4L132.2 129.9L131.8 129.9L131.2 130L130.8 129.9L130.2 129.4L129.8 128.3L129.2 129.5L128.8 129.1L128.2 129.5L127.8 132.5L127.2 130.7L126.8 130.7L126.2 130.8L125.8 128.3L125.2 130.7L124.8 130.1L124.2 129.3L123.8 130.1L123.2 129.9L122.8 129.5L122.2 129.9L121.8 129.8L121.2 129L120.8 129.7L120.2 129.9L119.8 129.9L119.2 130.3L118.8 129.2L118.2 130.1L117.8 130.4L117.2 130.1L116.8 130.5L116.2 129.8L115.8 130.1L115.2 130.2L114.8 130.1L114.2 129.7L113.8 129.6L113.2 127.4L112.8 129.4L112.2 131.3L111.8 129.3L111.2 128.9L110.8 129.1L110.2 129.2L109.8 130.7L109.2 129.6L108.8 129.2L108.2 130.7L107.8 129.7L107.2 130L106.8 130.1L106.2 129.5L105.8 129.7L105.2 128.6L104.8 128.6L104.2 129.1L103.8 128.7L103.2 128.6L102.8 128.3L102.2 128.2L101.8 127.4L101.2 127.7L100.8 129.2L100.2 128.4L99.8 128.9L99.2 128.6L98.8 129L98.2 130.1L97.8 129.7L97.2 129.7L96.8 129L96.2 128.4L95.8 126.5L95.2 125.6L94.8 124.8L94.2 122.7L93.8 123L93.2 122.2L92.8 121.3L92.2 120.3L91.8 120.1L91.2 119.6L90.8 119.1L90.2 118.9L89.8 118L89.2 118.1L88.8 117.7L88.2 117.9L87.8 118.6L87.2 118.7L86.8 118.4L86.2 118.8L85.8 119.8L85.2 120.1L84.8 120.6L84.2 121.8L83.8 123L83.2 123.3L82.8 124.5L82.2 125.8L81.8 126.7L81.2 127.7L80.8 128.2L80.2 128.9L79.8 128.8L79.2 129.3L78.8 129.4L78.2 128.4L77.8 128.5L77.2 128.5L76.8 128.4L76.2 128.1L75.8 128L75.2 127.4L74.8 127.9L74.2 126.4L73.8 127.5L73.2 127.6L72.8 128.3L72.2 127.7L71.8 129L71.2 128.1L70.8 128.4L70.2 128.7L69.8 129.1L69.2 128.6L68.8 128.2L68.2 128.2L67.8 128.5L67.2 128.5L66.8 126.7L66.2 128.2L65.8 127.6L65.2 128.2L64.8 128.6L64.2 128L63.8 128.2L63.2 128L62.8 126.4L62.2 128.7L61.8 129L61.2 128.9L60.8 128.9L60.2 128.2L59.8 127.3L59.2 127.7L58.8 127.6L58.2 127.8L57.8 128.1L57.2 128.4L56.8 128.4L56.2 128L55.8 128.3L55.2 128.2L54.8 127.3L54.2 126.3L53.8 128.7L53.2 128.2L52.8 128.2L52.2 128.4L51.8 128.7L51.2 128.3L50.8 128.5L50.2 128L49.8 128.3L49.2 128.2L48.8 127.7L48.2 127.1L47.8 127.3L47.2 127L46.8 126.8L46.2 126.9L45.8 126.5L45.2 126.5L44.8 125.1L44.2 124.8L43.8 125.8L43.2 125.6L42.8 125.5L42.2 125.2L41.8 124.5L41.2 124.2L40.8 124.2L40.2 124.4L39.8 123.6L39.2 123.3L38.8 123.6L38.2 123.6L37.8 123.7L37.2 123.3L36.8 122.7L36.2 123.7L35.8 123.5L35.2 123.4L34.8 123.8L34.2 124L33.8 123.9Z" fill="#e3b02a" fill-opacity="0.55" stroke="none"/><path d="M33.8 119.6L34.2 119.4L34.8 117.4L35.2 119.7L35.8 119.7L36.2 116.5L36.8 118.1L37.2 118.7L37.8 116.7L38.2 119.3L38.8 117.6L39.2 119.6L39.8 119.1L40.2 120.5L40.8 118.9L41.2 119.2L41.8 119L42.2 123.3L42.8 120.8L43.2 121.5L43.8 119.7L44.2 118.9L44.8 121.2L45.2 121.5L45.8 123.1L46.2 124L46.8 122.4L47.2 123.7L47.8 122.9L48.2 122.9L48.8 125L49.2 123.7L49.8 124.3L50.2 125.1L50.8 123.8L51.2 125L51.8 124.2L52.2 124.3L52.8 121.7L53.2 121.8L53.8 123.6L54.2 122.1L54.8 124.3L55.2 124.6L55.8 123.5L56.2 122.6L56.8 123.9L57.2 125.9L57.8 124.7L58.2 123.1L58.8 122.6L59.2 123.2L59.8 120.8L60.2 123.6L60.8 123.8L61.2 123.6L61.8 126.4L62.2 125.1L62.8 124.5L63.2 122.6L63.8 121.2L64.2 124.1L64.8 122.3L65.2 123.9L65.8 124L66.2 121.1L66.8 123.7L67.2 121.6L67.8 124L68.2 123.3L68.8 123L69.2 124.6L69.8 126.3L70.2 125.1L70.8 122.6L71.2 124.2L71.8 124.6L72.2 125.9L72.8 122.6L73.2 122.7L73.8 123.8L74.2 123.8L74.8 123.7L75.2 123.7L75.8 123.6L76.2 124.2L76.8 125.9L77.2 126.2L77.8 124.2L78.2 123.3L78.8 126.3L79.2 124.3L79.8 123.3L80.2 123.6L80.8 124.6L81.2 122L81.8 123L82.2 121.8L82.8 120L83.2 120.9L83.8 118.1L84.2 119.5L84.8 118.3L85.2 119.1L85.8 118.2L86.2 115.8L86.8 117.1L87.2 117.2L87.8 115.9L88.2 116.4L88.8 115.9L89.2 115.2L89.8 115.3L90.2 117.9L90.8 117.3L91.2 115.9L91.8 117.6L92.2 117.9L92.8 117.8L93.2 119.8L93.8 120L94.2 120.8L94.8 120.9L95.2 122L95.8 122.3L96.2 122.8L96.8 126L97.2 125.7L97.8 124.9L98.2 125L98.8 127.2L99.2 126.3L99.8 123.6L100.2 123.5L100.8 123.7L101.2 123.7L101.8 124.4L102.2 124.8L102.8 123L103.2 123.5L103.8 122.7L104.2 123.2L104.8 124.7L105.2 125.8L105.8 127.8L106.2 125.4L106.8 124.7L107.2 126.9L107.8 124.5L108.2 124.2L108.8 123.5L109.2 126.6L109.8 122.8L110.2 125.5L110.8 127.1L111.2 123.1L111.8 127.4L112.2 126.3L112.8 126.9L113.2 123.3L113.8 125.5L114.2 125.9L114.8 128.2L115.2 125.4L115.8 126.6L116.2 125.8L116.8 125.5L117.2 126.8L117.8 124.2L118.2 123.5L118.8 126.9L119.2 123.9L119.8 125.7L120.2 125.7L120.8 124.4L121.2 124.5L121.8 125L122.2 124.4L122.8 125.7L123.2 125.3L123.8 126.2L124.2 126L124.8 124.2L125.2 127.1L125.8 125.6L126.2 127.8L126.8 123.5L127.2 127.3L127.8 125.3L128.2 127.6L128.8 123.8L129.2 124.5L129.8 123.5L130.2 126.3L130.8 126.3L131.2 126.8L131.8 123.4L132.2 125.2L132.8 124.5L133.2 127.7L133.8 126.4L134.2 124.2L134.8 125.5L135.2 125.8L135.8 127.5L136.2 126.7L136.8 125.1L137.2 127.3L137.8 125.7L138.2 126.1L138.8 125.7L139.2 126.5L139.8 123.6L140.2 126.2L140.8 124.4L141.2 125.2L141.8 122.8L142.2 124.5L142.8 124.8L143.2 125.9L143.8 126.7L144.2 125.7L144.8 126.8L145.2 127.8L145.8 125.6L146.2 128.7L146.8 124.2L147.2 125L147.8 126.6L148.2 123.4L148.8 123.9L149.2 125.7L149.8 124.2L150.2 126.5L150.8 124.8L151.2 122.5L151.8 125.5L152.2 124.4L152.8 126.7L153.2 126.6L153.8 127.2L154.2 125.5L154.8 126.1L155.2 125.9L155.8 126.4L156.2 124.8L156.8 123.1L157.2 123.1L157.8 123.2L158.2 124.2L158.8 122.2L159.2 122.2L159.8 121.2L160.2 122L160.8 122.5L161.2 124.7L161.8 124.9L162.2 123.8L162.8 123.4L163.2 125.7L163.8 126.3L164.2 127.3L164.8 125.8L165.2 124.2L165.8 121.1L166.2 120L166.8 118.2L167.2 116.4L167.8 116L168.2 115.9L168.8 113.3L169.2 113.8L169.8 112.2L170.2 112L170.8 111.1L171.2 110.8L171.8 111.3L172.2 110.2L172.8 110L173.2 109.8L173.8 110.2L174.2 109.7L174.8 109.9L175.2 110.9L175.8 112.1L176.2 111.6L176.8 112.4L177.2 113.7L177.8 114.5L178.2 115.6L178.8 115.9L179.2 117L179.8 118.8L180.2 120.8L180.8 121.6L181.2 124.4L181.8 126.1L182.2 129L182.8 128.1L183.2 125.5L183.8 127L184.2 126L184.8 123L185.2 123L185.8 125.2L186.2 121.2L186.8 120.9L187.2 123.8L187.8 124.1L188.2 122.8L188.8 123.9L189.2 123.9L189.8 125.9L190.2 126.2L190.8 126L191.2 126.4L191.8 129.6L192.2 125.8L192.8 129.4L193.2 129.5L193.8 125.3L194.2 124.5L194.8 125.9L195.2 123.5L195.8 123.8L196.2 125.3L196.8 127.7L197.2 124.1L197.8 127.3L198.2 126.7L198.8 127.5L199.2 125.7L199.8 126.1L200.2 126.3L200.8 127.9L201.2 125.1L201.8 126.7L202.2 128.2L202.8 127.4L203.2 126.3L203.8 127.5L204.2 126.5L204.8 126.9L205.2 126.4L205.8 128L206.2 124.6L206.8 126L207.2 128.4L207.8 125.4L208.2 125.3L208.8 128.5L209.2 125.7L209.8 126.1L210.2 127.1L210.8 127.6L211.2 126.2L211.8 129.7L212.2 128.2L212.8 129.1L213.2 127.5L213.8 125.9L214.2 126.3L214.8 124.7L215.2 125.7L215.8 125L216.2 126.3L216.8 128.5L217.2 126.2L217.8 128.1L218.2 126.1L218.8 125.8L219.2 128.4L219.8 126.2L220.2 125.5L220.8 125.8L221.2 130.4L221.8 128.2L222.2 125L222.8 129L223.2 126.5L223.8 128.5L224.2 125L224.8 127.4L225.2 125.5L225.8 126.7L226.2 125.9L226.8 125.5L227.2 126L227.8 128.9L228.2 127.7L228.8 125.8L229.2 126.2L229.8 124.9L230.2 127.6L230.8 127.3L231.2 128.4L231.8 127.3L232.2 128.4L232.8 128.8L233.2 127.8L233.8 124.6L234.2 125.3L234.8 126L235.2 126.8L235.8 127.3L236.2 125.3L236.8 125.6L237.2 126.8L237.8 124.5L238.2 127.1L238.8 125.4L239.2 126.1L239.8 127.8L240.2 125.1L240.8 126.1L241.2 127.2L241.8 127.7L242.2 126L242.8 128.3L243.2 125.3L243.8 126L244.2 128L244.8 124.9L245.2 124.1L245.8 125.8L246.2 127.2L246.8 126.1L247.2 126L247.8 124.3L248.2 125L248.8 128.4L249.2 126.3L249.8 126.2L250.2 125.1L250.8 127.1L251.2 129.1L251.8 125.1L252.2 124.8L252.8 125.7L253.2 124.7L253.8 123.5L254.2 122.6L254.8 120.3L255.2 121.5L255.8 120.9L256.2 119.4L256.8 119.3L257.2 117.1L257.8 118.2L258.2 117.6L258.8 117.7L259.2 117.1L259.8 116.3L260.2 117.7L260.8 118L261.2 117L261.8 118.9L262.2 118.1L262.8 118.4L263.2 118.4L263.8 120L264.2 119L264.8 118.7L265.2 119.8L265.8 121.5L266.2 122.7L266.8 124.7L267.2 123.3L267.8 125.8L268.2 124.3L268.8 124.9L269.2 127.4L269.8 127.1L270.2 127.6L270.8 127L271.2 127.2L271.8 127.5L272.2 127.4L272.8 124.8L273.2 124.4L273.8 124.3L274.2 126.2L274.8 125.8L275.2 127.4L275.8 126L276.2 122.9L276.8 126.4L277.2 126.9L277.8 126.9L278.2 125.3L278.8 124.6L279.2 124.5L279.8 127.1L280.2 127.4L280.8 125.8L281.2 127.9L281.8 128.5L282.2 126.6L282.8 127.9L283.2 126.1L283.2 129.8L282.8 130.7L282.2 131.5L281.8 131.3L281.2 131.9L280.8 130.6L280.2 131.8L279.8 130.2L279.2 131.1L278.8 130.7L278.2 131.2L277.8 130.5L277.2 130.8L276.8 130.3L276.2 130.4L275.8 130.1L275.2 130.2L274.8 129.6L274.2 129.9L273.8 129.4L273.2 129.7L272.8 130L272.2 131.3L271.8 131.4L271.2 131.3L270.8 131.1L270.2 131.8L269.8 131.8L269.2 130.8L268.8 129.1L268.2 129L267.8 128.3L267.2 126.2L266.8 126.6L266.2 125.9L265.8 124.5L265.2 122.7L264.8 122.9L264.2 121.9L263.8 121.8L263.2 121L262.8 120.3L262.2 120.3L261.8 119.7L261.2 120.1L260.8 119.7L260.2 119.4L259.8 119.4L259.2 120.1L258.8 120L258.2 120.4L257.8 120.5L257.2 121L256.8 121.9L256.2 122.5L255.8 123.8L255.2 124.2L254.8 126.6L254.2 125.8L253.8 126.5L253.2 128.4L252.8 128.4L252.2 132.7L251.8 130.1L251.2 131.8L250.8 131.8L250.2 132L249.8 131.6L249.2 131.2L248.8 130L248.2 129.4L247.8 129.3L247.2 129.9L246.8 129.8L246.2 129.6L245.8 129.6L245.2 129.1L244.8 130.1L244.2 130.5L243.8 130.6L243.2 130.2L242.8 131.3L242.2 131L241.8 130.2L241.2 131.2L240.8 130.6L240.2 132L239.8 132L239.2 130.1L238.8 129.6L238.2 131.3L237.8 130.6L237.2 131L236.8 130.9L236.2 130.1L235.8 130.7L235.2 129.9L234.8 129.9L234.2 131.1L233.8 131.9L233.2 131.4L232.8 130.5L232.2 131.7L231.8 131.5L231.2 133.8L230.8 131.3L230.2 131.8L229.8 130.9L229.2 131.7L228.8 130.7L228.2 131.4L227.8 131.3L227.2 134.4L226.8 130.4L226.2 130.9L225.8 130.7L225.2 130L224.8 130.7L224.2 131.4L223.8 131.1L223.2 129.1L222.8 131.6L222.2 131.9L221.8 132.3L221.2 132L220.8 131.7L220.2 131.7L219.8 132L219.2 131.7L218.8 131.3L218.2 129.7L217.8 131.3L217.2 131.4L216.8 131L216.2 130.7L215.8 132L215.2 131.2L214.8 129.7L214.2 131.3L213.8 131.5L213.2 130.9L212.8 131.7L212.2 131.6L211.8 132.1L211.2 131.3L210.8 130.1L210.2 131.9L209.8 130.7L209.2 131.3L208.8 131.2L208.2 130.1L207.8 130.4L207.2 130.7L206.8 129.9L206.2 128.2L205.8 130.7L205.2 131L204.8 130.6L204.2 131.4L203.8 131.1L203.2 131.1L202.8 131.9L202.2 131.8L201.8 132L201.2 131.4L200.8 131.6L200.2 131.2L199.8 132.3L199.2 130.8L198.8 130.2L198.2 130.3L197.8 129.9L197.2 129.4L196.8 129.7L196.2 129.7L195.8 129.9L195.2 129.8L194.8 130.2L194.2 130L193.8 130.3L193.2 131.5L192.8 132.9L192.2 130.9L191.8 131.8L191.2 131.2L190.8 130.1L190.2 130.1L189.8 128.8L189.2 128.2L188.8 128.4L188.2 127.5L187.8 127.3L187.2 125.8L186.8 127L186.2 125L185.8 126.4L185.2 126.9L184.8 128.1L184.2 129.3L183.8 129.7L183.2 130.5L182.8 131.5L182.2 131.7L181.8 130.5L181.2 129.3L180.8 126.5L180.2 125L179.8 122L179.2 120.5L178.8 119.7L178.2 117.6L177.8 116.4L177.2 114.3L176.8 114.4L176.2 114.1L175.8 113.4L175.2 112.4L174.8 112.2L174.2 111.9L173.8 111.7L173.2 111.5L172.8 111.2L172.2 111.2L171.8 111.8L171.2 111.7L170.8 112.3L170.2 113.7L169.8 113.8L169.2 114.7L168.8 115.2L168.2 116.9L167.8 117.2L167.2 118.6L166.8 121L166.2 122.7L165.8 124L165.2 126.1L164.8 128.8L164.2 130.7L163.8 130.4L163.2 130.1L162.8 129L162.2 129.1L161.8 128.2L161.2 127L160.8 125.7L160.2 125.7L159.8 126.2L159.2 126.4L158.8 126.3L158.2 126.7L157.8 126.7L157.2 127.9L156.8 127.7L156.2 129.6L155.8 130.3L155.2 130.5L154.8 130.8L154.2 129L153.8 130.9L153.2 130.2L152.8 129.1L152.2 130.3L151.8 129.4L151.2 129L150.8 128.8L150.2 129.1L149.8 129L149.2 128.6L148.8 128.1L148.2 129L147.8 129.5L147.2 129.6L146.8 130.2L146.2 130.7L145.8 132.4L145.2 130.5L144.8 130.3L144.2 130.1L143.8 130.6L143.2 130.9L142.8 130.2L142.2 129.7L141.8 130.1L141.2 129.7L140.8 129.7L140.2 129.1L139.8 129.7L139.2 129.8L138.8 129.6L138.2 130L137.8 130.2L137.2 131.6L136.8 130.7L136.2 130.7L135.8 130.8L135.2 130.7L134.8 133L134.2 130.3L133.8 130.3L133.2 130.5L132.8 130.4L132.2 129.9L131.8 129.9L131.2 130L130.8 129.9L130.2 129.4L129.8 128.3L129.2 129.5L128.8 129.1L128.2 129.5L127.8 132.5L127.2 130.7L126.8 130.7L126.2 130.8L125.8 128.3L125.2 130.7L124.8 130.1L124.2 129.3L123.8 130.1L123.2 129.9L122.8 129.5L122.2 129.9L121.8 129.8L121.2 129L120.8 129.7L120.2 129.9L119.8 129.9L119.2 130.3L118.8 129.2L118.2 130.1L117.8 130.4L117.2 130.1L116.8 130.5L116.2 129.8L115.8 130.1L115.2 130.2L114.8 130.1L114.2 129.7L113.8 129.6L113.2 127.4L112.8 129.4L112.2 131.3L111.8 129.3L111.2 128.9L110.8 129.1L110.2 129.2L109.8 130.7L109.2 129.6L108.8 129.2L108.2 130.7L107.8 129.7L107.2 130L106.8 130.1L106.2 129.5L105.8 129.7L105.2 128.6L104.8 128.6L104.2 129.1L103.8 128.7L103.2 128.6L102.8 128.3L102.2 128.2L101.8 127.4L101.2 127.7L100.8 129.2L100.2 128.4L99.8 128.9L99.2 128.6L98.8 129L98.2 130.1L97.8 129.7L97.2 129.7L96.8 129L96.2 128.4L95.8 126.5L95.2 125.6L94.8 124.8L94.2 122.7L93.8 123L93.2 122.2L92.8 121.3L92.2 120.3L91.8 120.1L91.2 119.6L90.8 119.1L90.2 118.9L89.8 118L89.2 118.1L88.8 117.7L88.2 117.9L87.8 118.6L87.2 118.7L86.8 118.4L86.2 118.8L85.8 119.8L85.2 120.1L84.8 120.6L84.2 121.8L83.8 123L83.2 123.3L82.8 124.5L82.2 125.8L81.8 126.7L81.2 127.7L80.8 128.2L80.2 128.9L79.8 128.8L79.2 129.3L78.8 129.4L78.2 128.4L77.8 128.5L77.2 128.5L76.8 128.4L76.2 128.1L75.8 128L75.2 127.4L74.8 127.9L74.2 126.4L73.8 127.5L73.2 127.6L72.8 128.3L72.2 127.7L71.8 129L71.2 128.1L70.8 128.4L70.2 128.7L69.8 129.1L69.2 128.6L68.8 128.2L68.2 128.2L67.8 128.5L67.2 128.5L66.8 126.7L66.2 128.2L65.8 127.6L65.2 128.2L64.8 128.6L64.2 128L63.8 128.2L63.2 128L62.8 126.4L62.2 128.7L61.8 129L61.2 128.9L60.8 128.9L60.2 128.2L59.8 127.3L59.2 127.7L58.8 127.6L58.2 127.8L57.8 128.1L57.2 128.4L56.8 128.4L56.2 128L55.8 128.3L55.2 128.2L54.8 127.3L54.2 126.3L53.8 128.7L53.2 128.2L52.8 128.2L52.2 128.4L51.8 128.7L51.2 128.3L50.8 128.5L50.2 128L49.8 128.3L49.2 128.2L48.8 127.7L48.2 127.1L47.8 127.3L47.2 127L46.8 126.8L46.2 126.9L45.8 126.5L45.2 126.5L44.8 125.1L44.2 124.8L43.8 125.8L43.2 125.6L42.8 125.5L42.2 125.2L41.8 124.5L41.2 124.2L40.8 124.2L40.2 124.4L39.8 123.6L39.2 123.3L38.8 123.6L38.2 123.6L37.8 123.7L37.2 123.3L36.8 122.7L36.2 123.7L35.8 123.5L35.2 123.4L34.8 123.8L34.2 124L33.8 123.9Z" fill="#e3b02a" stroke="#e3b02a" stroke-width="0.5" stroke-linejoin="round"/><path d="M33.8 131.8L34.2 132.7L34.8 133.8L35.2 134.8L35.8 136.1L36.2 134.6L36.8 133.8L37.2 133.3L37.8 135.7L38.2 137.4L38.8 136L39.2 136.3L39.8 136.2L40.2 138L40.8 138L41.2 138.5L41.8 140.6L42.2 137L42.8 137.4L43.2 137.9L43.8 138.2L44.2 137.3L44.8 137.4L45.2 136.7L45.8 136.9L46.2 139.3L46.8 137.5L47.2 139.6L47.8 138.3L48.2 138.8L48.8 140.9L49.2 138.3L49.8 139.1L50.2 138.5L50.8 139.1L51.2 140.5L51.8 140.9L52.2 140.1L52.8 139L53.2 138.4L53.8 138L54.2 140.7L54.8 140.6L55.2 138.7L55.8 137.9L56.2 140.3L56.8 137.9L57.2 139.9L57.8 142.3L58.2 138L58.8 138.4L59.2 141L59.8 140.6L60.2 139.5L60.8 141.1L61.2 139.7L61.8 141.5L62.2 140.6L62.8 140.6L63.2 140.5L63.8 141.2L64.2 139L64.8 139.1L65.2 143.6L65.8 142L66.2 138.1L66.8 139.4L67.2 138.2L67.8 138.4L68.2 138.7L68.8 136.5L69.2 136.5L69.8 136.3L70.2 137.4L70.8 137.6L71.2 139L71.8 138.5L72.2 137.4L72.8 137.3L73.2 138.3L73.8 139.3L74.2 139L74.8 142.8L75.2 139.2L75.8 138.9L76.2 140.4L76.8 140.6L77.2 143L77.8 141.5L78.2 141.8L78.8 139.6L79.2 139.4L79.8 139.1L80.2 138.4L80.8 138.4L81.2 137.7L81.8 139.8L82.2 136.1L82.8 135.5L83.2 136.6L83.8 137.1L84.2 134.6L84.8 137.3L85.2 135.4L85.8 135L86.2 133.9L86.8 134.5L87.2 135.3L87.8 134.8L88.2 135.1L88.8 134.2L89.2 134L89.8 133.8L90.2 135.2L90.8 135.8L91.2 133.8L91.8 135.6L92.2 136.6L92.8 135.8L93.2 136.6L93.8 135.8L94.2 136.5L94.8 137.2L95.2 141L95.8 140.2L96.2 140.2L96.8 139.7L97.2 141.3L97.8 141L98.2 142.6L98.8 140.9L99.2 141L99.8 143L100.2 141.8L100.8 146.3L101.2 143.6L101.8 140.4L102.2 142.4L102.8 140.2L103.2 142.5L103.8 140.5L104.2 141.9L104.8 141.5L105.2 139.9L105.8 141.7L106.2 141.5L106.8 142.4L107.2 140.8L107.8 142.1L108.2 141.2L108.8 143.1L109.2 141.6L109.8 143.3L110.2 144.4L110.8 143.5L111.2 143.2L111.8 144L112.2 141.9L112.8 143.3L113.2 141.1L113.8 146.6L114.2 142.3L114.8 141.3L115.2 143.6L115.8 144.8L116.2 142.8L116.8 143.2L117.2 144.2L117.8 141.6L118.2 143.5L118.8 142L119.2 141.1L119.8 141.4L120.2 142.4L120.8 142.4L121.2 141.9L121.8 145.4L122.2 144.6L122.8 141.4L123.2 142.1L123.8 142.6L124.2 143.2L124.8 143.2L125.2 144.4L125.8 143.9L126.2 147.8L126.8 144.4L127.2 143.8L127.8 143.3L128.2 143.9L128.8 140.9L129.2 144.7L129.8 143.4L130.2 141.9L130.8 140.9L131.2 142.9L131.8 141.9L132.2 144L132.8 143.1L133.2 142.1L133.8 142.1L134.2 143.2L134.8 141.6L135.2 143.6L135.8 146.7L136.2 146.5L136.8 143.5L137.2 144.8L137.8 142.9L138.2 143.4L138.8 142.7L139.2 143.4L139.8 143.8L140.2 141.2L140.8 142.9L141.2 144.2L141.8 141.3L142.2 142.3L142.8 143.6L143.2 143L143.8 142.1L144.2 140.7L144.8 141.4L145.2 142.8L145.8 144.5L146.2 143.9L146.8 141.9L147.2 144.2L147.8 142.9L148.2 143.6L148.8 145.1L149.2 144.4L149.8 143.8L150.2 145L150.8 145.2L151.2 143.7L151.8 144.3L152.2 141.6L152.8 140.5L153.2 140.9L153.8 141.4L154.2 140.2L154.8 142.2L155.2 141.7L155.8 141.2L156.2 141.2L156.8 141.1L157.2 142.3L157.8 142.1L158.2 140.9L158.8 142.3L159.2 143.4L159.8 143.6L160.2 144L160.8 143.7L161.2 143.9L161.8 143.6L162.2 143.6L162.8 142.8L163.2 140.7L163.8 138.6L164.2 137.2L164.8 136.1L165.2 134.9L165.8 134.3L166.2 133.2L166.8 132.6L167.2 131.8L167.8 130.7L168.2 130.2L168.8 130.3L169.2 130.3L169.8 129.3L170.2 128.7L170.8 129.1L171.2 128.3L171.8 128.4L172.2 127.8L172.8 127.7L173.2 128.2L173.8 127.8L174.2 128L174.8 128.6L175.2 128.1L175.8 128.6L176.2 129.3L176.8 130.2L177.2 131.2L177.8 131.3L178.2 131.1L178.8 131.8L179.2 132.2L179.8 133.4L180.2 134.4L180.8 134.8L181.2 135.9L181.8 137.4L182.2 138.2L182.8 140.3L183.2 141.6L183.8 143.9L184.2 144.3L184.8 146.6L185.2 143.2L185.8 143.2L186.2 146.3L186.8 143.4L187.2 144.4L187.8 143.1L188.2 143L188.8 143.3L189.2 141.2L189.8 143.2L190.2 142.3L190.8 141.6L191.2 142.5L191.8 142.7L192.2 142L192.8 140.9L193.2 142.1L193.8 142L194.2 143.3L194.8 143.4L195.2 146.8L195.8 145.2L196.2 144.9L196.8 145L197.2 144.2L197.8 144.7L198.2 144.9L198.8 149.7L199.2 147.3L199.8 146.2L200.2 144.5L200.8 147.5L201.2 145.2L201.8 143.8L202.2 143.2L202.8 144.9L203.2 143.7L203.8 144.6L204.2 143.7L204.8 143.7L205.2 143.7L205.8 144L206.2 144.4L206.8 144.9L207.2 146.2L207.8 144.5L208.2 144.1L208.8 146.3L209.2 147.9L209.8 146.5L210.2 146.8L210.8 145L211.2 145.2L211.8 145.7L212.2 143.7L212.8 147.1L213.2 144.2L213.8 146L214.2 144.5L214.8 143.7L215.2 145.4L215.8 144.6L216.2 144.4L216.8 144.5L217.2 146.6L217.8 144.4L218.2 146.6L218.8 144.3L219.2 148.2L219.8 144.3L220.2 146.8L220.8 145.4L221.2 145.2L221.8 145.5L222.2 144.6L222.8 147.1L223.2 145.9L223.8 149L224.2 144.9L224.8 145.6L225.2 145.7L225.8 145L226.2 146.2L226.8 145L227.2 146.7L227.8 144.2L228.2 144.2L228.8 146.8L229.2 144.4L229.8 146.1L230.2 146.8L230.8 146.2L231.2 146.5L231.8 145.9L232.2 146.3L232.8 146.4L233.2 145.5L233.8 149.2L234.2 148.3L234.8 147.5L235.2 148.5L235.8 146.2L236.2 146.6L236.8 145.4L237.2 148.9L237.8 144.4L238.2 146.7L238.8 144.7L239.2 144.5L239.8 146.5L240.2 144.7L240.8 146.1L241.2 144.8L241.8 144.3L242.2 145.8L242.8 143.8L243.2 148.2L243.8 144.7L244.2 145.4L244.8 146.1L245.2 146.8L245.8 145.5L246.2 146.3L246.8 145.1L247.2 146.2L247.8 146.1L248.2 147.5L248.8 145.6L249.2 148L249.8 145.9L250.2 144.7L250.8 144.8L251.2 143.5L251.8 143.1L252.2 143.1L252.8 142.1L253.2 142.7L253.8 142.4L254.2 140L254.8 140.6L255.2 140.1L255.8 139.4L256.2 139.6L256.8 139.8L257.2 138.6L257.8 138.7L258.2 139.1L258.8 139.4L259.2 138L259.8 138.4L260.2 138.7L260.8 138.4L261.2 138.7L261.8 138.6L262.2 139.7L262.8 139.7L263.2 138.6L263.8 138.8L264.2 141.4L264.8 140.1L265.2 139.8L265.8 141.5L266.2 140.1L266.8 142.4L267.2 142.9L267.8 143L268.2 145L268.8 142.7L269.2 143.5L269.8 144.8L270.2 145.6L270.8 148.7L271.2 147L271.8 145.3L272.2 144.8L272.8 146.9L273.2 147.2L273.8 149.9L274.2 147.3L274.8 148.8L275.2 147.7L275.8 145.7L276.2 147.6L276.8 146.6L277.2 146.1L277.8 146.1L278.2 146L278.8 145.5L279.2 147.4L279.8 146.1L280.2 146.6L280.8 147.2L281.2 146.6L281.8 146L282.2 148.3L282.8 145.5L283.2 146.2L283.2 154.3L282.8 154.1L282.2 153L281.8 153.3L281.2 153.2L280.8 153.1L280.2 153L279.8 151.6L279.2 150.2L278.8 152.8L278.2 152.6L277.8 152.9L277.2 152.4L276.8 152.2L276.2 153.7L275.8 153.6L275.2 153.7L274.8 153.6L274.2 153.5L273.8 154.4L273.2 154.7L272.8 154.5L272.2 153.2L271.8 153.3L271.2 153.1L270.8 152.2L270.2 151.8L269.8 150.6L269.2 149.9L268.8 147.5L268.2 148.3L267.8 147.6L267.2 146.6L266.8 145.8L266.2 144.9L265.8 144.5L265.2 144.6L264.8 143.7L264.2 143.4L263.8 142.8L263.2 142.8L262.8 142.6L262.2 141.3L261.8 142.2L261.2 141.5L260.8 141.9L260.2 141.9L259.8 141.7L259.2 142L258.8 141.9L258.2 142.3L257.8 142.3L257.2 142.7L256.8 142.8L256.2 143.4L255.8 143.3L255.2 143.7L254.8 144.7L254.2 144.8L253.8 145.8L253.2 146.8L252.8 147.2L252.2 148.1L251.8 149.1L251.2 149.7L250.8 151.1L250.2 151L249.8 151.5L249.2 153.2L248.8 153.6L248.2 153.9L247.8 155.5L247.2 153.2L246.8 153.8L246.2 152.8L245.8 152.3L245.2 152.2L244.8 151.8L244.2 151.7L243.8 150.9L243.2 150.9L242.8 151.4L242.2 150.1L241.8 151.2L241.2 151.3L240.8 150.5L240.2 150.1L239.8 151.3L239.2 151.8L238.8 151.6L238.2 151.8L237.8 153L237.2 153.2L236.8 151.5L236.2 153.6L235.8 153.7L235.2 153.4L234.8 153L234.2 153.6L233.8 153.5L233.2 153.4L232.8 153.3L232.2 153L231.8 151.6L231.2 151.7L230.8 152L230.2 152.1L229.8 151.9L229.2 151.6L228.8 151.9L228.2 151.6L227.8 151.7L227.2 151.7L226.8 152.4L226.2 152.4L225.8 152.2L225.2 152.9L224.8 151.5L224.2 153.3L223.8 153.2L223.2 153.2L222.8 153.5L222.2 153.7L221.8 153.5L221.2 153.2L220.8 152.7L220.2 152.6L219.8 152.8L219.2 152.6L218.8 152.2L218.2 151.8L217.8 151.3L217.2 151.1L216.8 150.2L216.2 151.4L215.8 150.7L215.2 151.5L214.8 151.4L214.2 151.6L213.8 151.3L213.2 151.9L212.8 152.2L212.2 152.4L211.8 152.4L211.2 152.6L210.8 152.5L210.2 153.4L209.8 153.2L209.2 151.1L208.8 152.8L208.2 152.3L207.8 152.1L207.2 151.3L206.8 151L206.2 151.2L205.8 151L205.2 150.6L204.8 149.1L204.2 149.7L203.8 149.5L203.2 149.9L202.8 150L202.2 149.8L201.8 150.4L201.2 150.3L200.8 150.3L200.2 151.2L199.8 150.6L199.2 152.2L198.8 152.3L198.2 152.8L197.8 153.1L197.2 152.6L196.8 153.8L196.2 152L195.8 151.4L195.2 151.1L194.8 150.6L194.2 149.2L193.8 148.3L193.2 148L192.8 147.3L192.2 147L191.8 146.9L191.2 145.1L190.8 145L190.2 146.4L189.8 146.6L189.2 146.4L188.8 147.2L188.2 146.8L187.8 147.6L187.2 149.1L186.8 149.8L186.2 150.8L185.8 151.2L185.2 152.6L184.8 151.5L184.2 150.8L183.8 149.4L183.2 147L182.8 144.6L182.2 142.5L181.8 140.4L181.2 140.1L180.8 138.6L180.2 137.7L179.8 135.8L179.2 136.7L178.8 133.8L178.2 133.6L177.8 133L177.2 132.6L176.8 131.9L176.2 131.1L175.8 130.7L175.2 130.6L174.8 130.4L174.2 130L173.8 129.5L173.2 129.4L172.8 129.8L172.2 129.6L171.8 129.5L171.2 129.7L170.8 130.6L170.2 130.8L169.8 131.1L169.2 131.8L168.8 132L168.2 132.7L167.8 133.5L167.2 134.6L166.8 135L166.2 136.2L165.8 137.5L165.2 138.1L164.8 139.4L164.2 141.5L163.8 143.2L163.2 144.6L162.8 147.2L162.2 149.1L161.8 149.7L161.2 150.3L160.8 150.6L160.2 151.2L159.8 150.8L159.2 148.6L158.8 147.3L158.2 147.1L157.8 147L157.2 146.4L156.8 144.3L156.2 145.4L155.8 145.3L155.2 145.6L154.8 144.9L154.2 145.9L153.8 146.4L153.2 146.6L152.8 147.5L152.2 148.5L151.8 148.1L151.2 149.4L150.8 149.5L150.2 148.2L149.8 150.9L149.2 151.6L148.8 150.6L148.2 150.7L147.8 150.5L147.2 150.2L146.8 148.8L146.2 150.1L145.8 149.7L145.2 149L144.8 148.7L144.2 148.6L143.8 148.7L143.2 148.3L142.8 148.5L142.2 148.5L141.8 147.7L141.2 149L140.8 148L140.2 150.1L139.8 149.5L139.2 150.2L138.8 150.5L138.2 150.5L137.8 150.9L137.2 151L136.8 151.3L136.2 150.9L135.8 151.1L135.2 148.6L134.8 150.8L134.2 150.2L133.8 150.2L133.2 149.8L132.8 149.5L132.2 149.3L131.8 149L131.2 148.9L130.8 150.8L130.2 148.4L129.8 146.4L129.2 149.3L128.8 149.2L128.2 148.6L127.8 152.9L127.2 150.1L126.8 150.4L126.2 150.1L125.8 150.5L125.2 150.4L124.8 150.8L124.2 150L123.8 150.7L123.2 150.2L122.8 149.2L122.2 150.3L121.8 149.1L121.2 149.4L120.8 149.5L120.2 149.1L119.8 149.1L119.2 149L118.8 148.5L118.2 150.1L117.8 148.6L117.2 149.2L116.8 149.3L116.2 149.4L115.8 149.3L115.2 149.1L114.8 149.2L114.2 148.6L113.8 150.1L113.2 150L112.8 150.3L112.2 150L111.8 149.7L111.2 149.5L110.8 149.2L110.2 149.5L109.8 148.6L109.2 149.1L108.8 148.7L108.2 146.1L107.8 148L107.2 148L106.8 147.1L106.2 147.8L105.8 147.5L105.2 147.2L104.8 147.3L104.2 148.1L103.8 147.3L103.2 148.1L102.8 149L102.2 148.9L101.8 149L101.2 148.9L100.8 149.9L100.2 148.7L99.8 149.5L99.2 148.3L98.8 148.6L98.2 147.6L97.8 146.9L97.2 145.9L96.8 145.4L96.2 144.8L95.8 143.5L95.2 142.6L94.8 142L94.2 141.4L93.8 140.7L93.2 140L92.8 141.6L92.2 139L91.8 139.1L91.2 138.6L90.8 138.8L90.2 138.5L89.8 137.9L89.2 138.4L88.8 138.3L88.2 139.2L87.8 137.6L87.2 137.4L86.8 138.7L86.2 138.5L85.8 139.2L85.2 139.1L84.8 138.8L84.2 139.7L83.8 140.7L83.2 140.1L82.8 141.5L82.2 142.9L81.8 143.6L81.2 143.6L80.8 145.1L80.2 144.6L79.8 145.9L79.2 146.7L78.8 147.3L78.2 148L77.8 147.8L77.2 148.4L76.8 147.6L76.2 148.3L75.8 147.2L75.2 145.8L74.8 147.2L74.2 146.5L73.8 145.9L73.2 145.3L72.8 145.6L72.2 145.2L71.8 144.3L71.2 143.6L70.8 144.3L70.2 144.5L69.8 144L69.2 144.4L68.8 143.9L68.2 145.3L67.8 144.7L67.2 144L66.8 146.3L66.2 146.5L65.8 147.6L65.2 147.2L64.8 147.6L64.2 147.4L63.8 147.9L63.2 147.5L62.8 147.8L62.2 148.2L61.8 146.5L61.2 147.5L60.8 147.4L60.2 147.2L59.8 145.2L59.2 146.8L58.8 146.7L58.2 145.9L57.8 146.5L57.2 146.1L56.8 146.4L56.2 145.7L55.8 146.2L55.2 146.5L54.8 146.1L54.2 146L53.8 146.2L53.2 145L52.8 146.3L52.2 146L51.8 146.3L51.2 146L50.8 144.9L50.2 144.2L49.8 145.5L49.2 146.2L48.8 146.1L48.2 145.2L47.8 145.3L47.2 145.4L46.8 146.1L46.2 145.9L45.8 145.8L45.2 145.5L44.8 145.4L44.2 144.7L43.8 145.8L43.2 145L42.8 145.5L42.2 145L41.8 144.6L41.2 144.5L40.8 144L40.2 144.2L39.8 143.7L39.2 142.8L38.8 143.1L38.2 142.5L37.8 142.1L37.2 142.2L36.8 141L36.2 139.2L35.8 139.6L35.2 140.3L34.8 140.3L34.2 138.6L33.8 139.3Z" fill="#7a2e8c" fill-opacity="0.55" stroke="none"/><path d="M33.8 136.6L34.2 135.5L34.8 135.2L35.2 136.6L35.8 138.1L36.2 135.6L36.8 136.2L37.2 136.5L37.8 136.8L38.2 138.5L38.8 139L39.2 138L39.8 139.5L40.2 140.7L40.8 140.9L41.2 141.6L41.8 141.3L42.2 141.8L42.8 138.9L43.2 140.5L43.8 139.3L44.2 142.1L44.8 141L45.2 140.5L45.8 140.6L46.2 141.1L46.8 138.7L47.2 142.5L47.8 139.2L48.2 140.7L48.8 143.2L49.2 141.6L49.8 139.9L50.2 141.2L50.8 142.2L51.2 141.6L51.8 142.7L52.2 141.5L52.8 140.4L53.2 139.6L53.8 138.9L54.2 142.1L54.8 141.9L55.2 143.4L55.8 140.9L56.2 141.2L56.8 143.3L57.2 142L57.8 144.8L58.2 142.2L58.8 141.6L59.2 142.9L59.8 142.8L60.2 142.7L60.8 142.7L61.2 141.5L61.8 143.8L62.2 144.3L62.8 141.7L63.2 145L63.8 142.3L64.2 141.9L64.8 144.8L65.2 144.5L65.8 143.4L66.2 140.2L66.8 142.2L67.2 140.4L67.8 141.5L68.2 139.3L68.8 139.6L69.2 138.6L69.8 138.3L70.2 141.5L70.8 140.8L71.2 140.8L71.8 140.3L72.2 138.3L72.8 138.3L73.2 142.4L73.8 140.6L74.2 140.5L74.8 143.3L75.2 141.2L75.8 143.9L76.2 146.1L76.8 142.4L77.2 146.2L77.8 143.9L78.2 144.3L78.8 143.2L79.2 141.6L79.8 140.6L80.2 141.5L80.8 140.8L81.2 139.8L81.8 140.5L82.2 140.6L82.8 137.4L83.2 138.4L83.8 138.1L84.2 136.5L84.8 137.8L85.2 136.3L85.8 137.1L86.2 136.1L86.8 135.3L87.2 136.1L87.8 136.5L88.2 137.6L88.8 136.2L89.2 135.4L89.8 133.9L90.2 135.5L90.8 136.1L91.2 135.4L91.8 136.3L92.2 137L92.8 136.7L93.2 137.1L93.8 136.3L94.2 138.7L94.8 138.9L95.2 141.1L95.8 140.3L96.2 141.3L96.8 141.2L97.2 143.6L97.8 143.7L98.2 143.1L98.8 143.4L99.2 142.5L99.8 145.8L100.2 143.4L100.8 147.7L101.2 146.2L101.8 142.3L102.2 146.8L102.8 143.8L103.2 144.9L103.8 142.7L104.2 144.9L104.8 144.2L105.2 141L105.8 143.9L106.2 142.9L106.8 143.4L107.2 144.8L107.8 143.5L108.2 142.6L108.8 143.9L109.2 142.5L109.8 146.4L110.2 145.1L110.8 145.1L111.2 145.9L111.8 146L112.2 144.9L112.8 146.4L113.2 143.4L113.8 147.7L114.2 143.4L114.8 142.1L115.2 146.7L115.8 148.4L116.2 143.4L116.8 144.7L117.2 145.6L117.8 143.8L118.2 145.8L118.8 144.6L119.2 144.9L119.8 143.2L120.2 144.2L120.8 143.8L121.2 144.6L121.8 145.8L122.2 145.1L122.8 144.3L123.2 143.9L123.8 146.7L124.2 146.7L124.8 145.5L125.2 145.7L125.8 147.8L126.2 148L126.8 145.5L127.2 145.2L127.8 143.9L128.2 145.7L128.8 144.7L129.2 145.1L129.8 144.3L130.2 142.5L130.8 143L131.2 146.1L131.8 145.4L132.2 144.9L132.8 146.1L133.2 143.5L133.8 143.2L134.2 144.2L134.8 143.6L135.2 145.1L135.8 148.2L136.2 147.7L136.8 144.8L137.2 146.5L137.8 144.4L138.2 146.4L138.8 145.8L139.2 143.7L139.8 144.3L140.2 142.2L140.8 144.7L141.2 145.9L141.8 144.2L142.2 143.9L142.8 145.5L143.2 144.8L143.8 143.2L144.2 142.4L144.8 143.6L145.2 144.6L145.8 145.3L146.2 144.8L146.8 146.8L147.2 145L147.8 147.1L148.2 146.2L148.8 146.5L149.2 147.4L149.8 147.5L150.2 145.4L150.8 147.2L151.2 147L151.8 145.3L152.2 146.1L152.8 142.6L153.2 143.9L153.8 142.2L154.2 142.5L154.8 144.2L155.2 142.7L155.8 142L156.2 141.6L156.8 141.3L157.2 143.3L157.8 142.5L158.2 144.1L158.8 143.6L159.2 145.7L159.8 144.7L160.2 147.1L160.8 145.3L161.2 145.7L161.8 145L162.2 145L162.8 144.2L163.2 141.8L163.8 139.1L164.2 138.7L164.8 137L165.2 135.3L165.8 135.2L166.2 133.9L166.8 133L167.2 132.8L167.8 131.3L168.2 131.9L168.8 130.9L169.2 130.6L169.8 129.8L170.2 129.2L170.8 129.6L171.2 128.9L171.8 128.5L172.2 128.4L172.8 128.2L173.2 128.8L173.8 128.9L174.2 128.5L174.8 128.8L175.2 129.3L175.8 129.1L176.2 129.9L176.8 130.3L177.2 131.5L177.8 131.8L178.2 132.2L178.8 132.3L179.2 133.2L179.8 134.4L180.2 135.9L180.8 136.7L181.2 138.1L181.8 137.7L182.2 139.6L182.8 140.6L183.2 144.4L183.8 147L184.2 146.5L184.8 149.7L185.2 146L185.8 145.4L186.2 148.7L186.8 145.1L187.2 144.6L187.8 145.7L188.2 144.1L188.8 144.9L189.2 142.5L189.8 143.5L190.2 143L190.8 143.3L191.2 143.2L191.8 143.1L192.2 143.6L192.8 145.6L193.2 143.8L193.8 145L194.2 146.8L194.8 145.4L195.2 147.6L195.8 147.6L196.2 148.9L196.8 146.9L197.2 148.3L197.8 149.7L198.2 147.6L198.8 150.5L199.2 148.3L199.8 147.1L200.2 146L200.8 148.1L201.2 146.7L201.8 147.3L202.2 145L202.8 146.4L203.2 145.2L203.8 146.4L204.2 145.6L204.8 145.6L205.2 144.2L205.8 146.8L206.2 147.3L206.8 147.3L207.2 146.8L207.8 149L208.2 144.8L208.8 149.8L209.2 149.5L209.8 148.3L210.2 147.3L210.8 145.4L211.2 147.7L211.8 149.9L212.2 147.5L212.8 150.9L213.2 147.1L213.8 148.1L214.2 147.3L214.8 145L215.2 147.3L215.8 145.9L216.2 146L216.8 144.8L217.2 148.4L217.8 145.7L218.2 147.8L218.8 144.6L219.2 149.9L219.8 146.7L220.2 147.9L220.8 147.7L221.2 146.9L221.8 148.1L222.2 148.2L222.8 147.7L223.2 148.6L223.8 151.3L224.2 149L224.8 146.8L225.2 149.8L225.8 146.6L226.2 147.7L226.8 147.4L227.2 147.7L227.8 146.3L228.2 146.2L228.8 147.5L229.2 145.6L229.8 148.1L230.2 149.6L230.8 149.7L231.2 149L231.8 147.5L232.2 147.6L232.8 148.6L233.2 147.5L233.8 151.4L234.2 150.8L234.8 148L235.2 149.9L235.8 149.7L236.2 151.6L236.8 148.6L237.2 149.4L237.8 146.5L238.2 148.2L238.8 148.6L239.2 148.7L239.8 148.4L240.2 146L240.8 147.7L241.2 145.8L241.8 146.9L242.2 146.2L242.8 146L243.2 148.3L243.8 147.3L244.2 146.6L244.8 146.9L245.2 149.9L245.8 146.5L246.2 149.7L246.8 150L247.2 150.8L247.8 146.7L248.2 150.6L248.8 147.9L249.2 148.6L249.8 146.8L250.2 145.5L250.8 146.3L251.2 146.3L251.8 145L252.2 144.6L252.8 142.6L253.2 143.4L253.8 143.8L254.2 142.4L254.8 142.7L255.2 141.3L255.8 140.6L256.2 140.5L256.8 140.3L257.2 140.6L257.8 139.5L258.2 139.8L258.8 140.8L259.2 139.3L259.8 139.9L260.2 139.8L260.8 139.8L261.2 139.2L261.8 139.1L262.2 140L262.8 141.1L263.2 141.2L263.8 138.9L264.2 142.1L264.8 141.5L265.2 141.4L265.8 143.2L266.2 142.2L266.8 145L267.2 143.9L267.8 144.4L268.2 146.7L268.8 143.9L269.2 146.1L269.8 145.8L270.2 147.5L270.8 149.8L271.2 147.6L271.8 146.6L272.2 150.9L272.8 151L273.2 150.2L273.8 151.6L274.2 149.1L274.8 149.6L275.2 151.6L275.8 148L276.2 150.3L276.8 149.4L277.2 148.5L277.8 148.8L278.2 147.5L278.8 149.5L279.2 148.6L279.8 148.1L280.2 148.5L280.8 147.8L281.2 148.6L281.8 146.6L282.2 149.5L282.8 145.7L283.2 149.3L283.2 154.3L282.8 154.1L282.2 153L281.8 153.3L281.2 153.2L280.8 153.1L280.2 153L279.8 151.6L279.2 150.2L278.8 152.8L278.2 152.6L277.8 152.9L277.2 152.4L276.8 152.2L276.2 153.7L275.8 153.6L275.2 153.7L274.8 153.6L274.2 153.5L273.8 154.4L273.2 154.7L272.8 154.5L272.2 153.2L271.8 153.3L271.2 153.1L270.8 152.2L270.2 151.8L269.8 150.6L269.2 149.9L268.8 147.5L268.2 148.3L267.8 147.6L267.2 146.6L266.8 145.8L266.2 144.9L265.8 144.5L265.2 144.6L264.8 143.7L264.2 143.4L263.8 142.8L263.2 142.8L262.8 142.6L262.2 141.3L261.8 142.2L261.2 141.5L260.8 141.9L260.2 141.9L259.8 141.7L259.2 142L258.8 141.9L258.2 142.3L257.8 142.3L257.2 142.7L256.8 142.8L256.2 143.4L255.8 143.3L255.2 143.7L254.8 144.7L254.2 144.8L253.8 145.8L253.2 146.8L252.8 147.2L252.2 148.1L251.8 149.1L251.2 149.7L250.8 151.1L250.2 151L249.8 151.5L249.2 153.2L248.8 153.6L248.2 153.9L247.8 155.5L247.2 153.2L246.8 153.8L246.2 152.8L245.8 152.3L245.2 152.2L244.8 151.8L244.2 151.7L243.8 150.9L243.2 150.9L242.8 151.4L242.2 150.1L241.8 151.2L241.2 151.3L240.8 150.5L240.2 150.1L239.8 151.3L239.2 151.8L238.8 151.6L238.2 151.8L237.8 153L237.2 153.2L236.8 151.5L236.2 153.6L235.8 153.7L235.2 153.4L234.8 153L234.2 153.6L233.8 153.5L233.2 153.4L232.8 153.3L232.2 153L231.8 151.6L231.2 151.7L230.8 152L230.2 152.1L229.8 151.9L229.2 151.6L228.8 151.9L228.2 151.6L227.8 151.7L227.2 151.7L226.8 152.4L226.2 152.4L225.8 152.2L225.2 152.9L224.8 151.5L224.2 153.3L223.8 153.2L223.2 153.2L222.8 153.5L222.2 153.7L221.8 153.5L221.2 153.2L220.8 152.7L220.2 152.6L219.8 152.8L219.2 152.6L218.8 152.2L218.2 151.8L217.8 151.3L217.2 151.1L216.8 150.2L216.2 151.4L215.8 150.7L215.2 151.5L214.8 151.4L214.2 151.6L213.8 151.3L213.2 151.9L212.8 152.2L212.2 152.4L211.8 152.4L211.2 152.6L210.8 152.5L210.2 153.4L209.8 153.2L209.2 151.1L208.8 152.8L208.2 152.3L207.8 152.1L207.2 151.3L206.8 151L206.2 151.2L205.8 151L205.2 150.6L204.8 149.1L204.2 149.7L203.8 149.5L203.2 149.9L202.8 150L202.2 149.8L201.8 150.4L201.2 150.3L200.8 150.3L200.2 151.2L199.8 150.6L199.2 152.2L198.8 152.3L198.2 152.8L197.8 153.1L197.2 152.6L196.8 153.8L196.2 152L195.8 151.4L195.2 151.1L194.8 150.6L194.2 149.2L193.8 148.3L193.2 148L192.8 147.3L192.2 147L191.8 146.9L191.2 145.1L190.8 145L190.2 146.4L189.8 146.6L189.2 146.4L188.8 147.2L188.2 146.8L187.8 147.6L187.2 149.1L186.8 149.8L186.2 150.8L185.8 151.2L185.2 152.6L184.8 151.5L184.2 150.8L183.8 149.4L183.2 147L182.8 144.6L182.2 142.5L181.8 140.4L181.2 140.1L180.8 138.6L180.2 137.7L179.8 135.8L179.2 136.7L178.8 133.8L178.2 133.6L177.8 133L177.2 132.6L176.8 131.9L176.2 131.1L175.8 130.7L175.2 130.6L174.8 130.4L174.2 130L173.8 129.5L173.2 129.4L172.8 129.8L172.2 129.6L171.8 129.5L171.2 129.7L170.8 130.6L170.2 130.8L169.8 131.1L169.2 131.8L168.8 132L168.2 132.7L167.8 133.5L167.2 134.6L166.8 135L166.2 136.2L165.8 137.5L165.2 138.1L164.8 139.4L164.2 141.5L163.8 143.2L163.2 144.6L162.8 147.2L162.2 149.1L161.8 149.7L161.2 150.3L160.8 150.6L160.2 151.2L159.8 150.8L159.2 148.6L158.8 147.3L158.2 147.1L157.8 147L157.2 146.4L156.8 144.3L156.2 145.4L155.8 145.3L155.2 145.6L154.8 144.9L154.2 145.9L153.8 146.4L153.2 146.6L152.8 147.5L152.2 148.5L151.8 148.1L151.2 149.4L150.8 149.5L150.2 148.2L149.8 150.9L149.2 151.6L148.8 150.6L148.2 150.7L147.8 150.5L147.2 150.2L146.8 148.8L146.2 150.1L145.8 149.7L145.2 149L144.8 148.7L144.2 148.6L143.8 148.7L143.2 148.3L142.8 148.5L142.2 148.5L141.8 147.7L141.2 149L140.8 148L140.2 150.1L139.8 149.5L139.2 150.2L138.8 150.5L138.2 150.5L137.8 150.9L137.2 151L136.8 151.3L136.2 150.9L135.8 151.1L135.2 148.6L134.8 150.8L134.2 150.2L133.8 150.2L133.2 149.8L132.8 149.5L132.2 149.3L131.8 149L131.2 148.9L130.8 150.8L130.2 148.4L129.8 146.4L129.2 149.3L128.8 149.2L128.2 148.6L127.8 152.9L127.2 150.1L126.8 150.4L126.2 150.1L125.8 150.5L125.2 150.4L124.8 150.8L124.2 150L123.8 150.7L123.2 150.2L122.8 149.2L122.2 150.3L121.8 149.1L121.2 149.4L120.8 149.5L120.2 149.1L119.8 149.1L119.2 149L118.8 148.5L118.2 150.1L117.8 148.6L117.2 149.2L116.8 149.3L116.2 149.4L115.8 149.3L115.2 149.1L114.8 149.2L114.2 148.6L113.8 150.1L113.2 150L112.8 150.3L112.2 150L111.8 149.7L111.2 149.5L110.8 149.2L110.2 149.5L109.8 148.6L109.2 149.1L108.8 148.7L108.2 146.1L107.8 148L107.2 148L106.8 147.1L106.2 147.8L105.8 147.5L105.2 147.2L104.8 147.3L104.2 148.1L103.8 147.3L103.2 148.1L102.8 149L102.2 148.9L101.8 149L101.2 148.9L100.8 149.9L100.2 148.7L99.8 149.5L99.2 148.3L98.8 148.6L98.2 147.6L97.8 146.9L97.2 145.9L96.8 145.4L96.2 144.8L95.8 143.5L95.2 142.6L94.8 142L94.2 141.4L93.8 140.7L93.2 140L92.8 141.6L92.2 139L91.8 139.1L91.2 138.6L90.8 138.8L90.2 138.5L89.8 137.9L89.2 138.4L88.8 138.3L88.2 139.2L87.8 137.6L87.2 137.4L86.8 138.7L86.2 138.5L85.8 139.2L85.2 139.1L84.8 138.8L84.2 139.7L83.8 140.7L83.2 140.1L82.8 141.5L82.2 142.9L81.8 143.6L81.2 143.6L80.8 145.1L80.2 144.6L79.8 145.9L79.2 146.7L78.8 147.3L78.2 148L77.8 147.8L77.2 148.4L76.8 147.6L76.2 148.3L75.8 147.2L75.2 145.8L74.8 147.2L74.2 146.5L73.8 145.9L73.2 145.3L72.8 145.6L72.2 145.2L71.8 144.3L71.2 143.6L70.8 144.3L70.2 144.5L69.8 144L69.2 144.4L68.8 143.9L68.2 145.3L67.8 144.7L67.2 144L66.8 146.3L66.2 146.5L65.8 147.6L65.2 147.2L64.8 147.6L64.2 147.4L63.8 147.9L63.2 147.5L62.8 147.8L62.2 148.2L61.8 146.5L61.2 147.5L60.8 147.4L60.2 147.2L59.8 145.2L59.2 146.8L58.8 146.7L58.2 145.9L57.8 146.5L57.2 146.1L56.8 146.4L56.2 145.7L55.8 146.2L55.2 146.5L54.8 146.1L54.2 146L53.8 146.2L53.2 145L52.8 146.3L52.2 146L51.8 146.3L51.2 146L50.8 144.9L50.2 144.2L49.8 145.5L49.2 146.2L48.8 146.1L48.2 145.2L47.8 145.3L47.2 145.4L46.8 146.1L46.2 145.9L45.8 145.8L45.2 145.5L44.8 145.4L44.2 144.7L43.8 145.8L43.2 145L42.8 145.5L42.2 145L41.8 144.6L41.2 144.5L40.8 144L40.2 144.2L39.8 143.7L39.2 142.8L38.8 143.1L38.2 142.5L37.8 142.1L37.2 142.2L36.8 141L36.2 139.2L35.8 139.6L35.2 140.3L34.8 140.3L34.2 138.6L33.8 139.3Z" fill="#7a2e8c" stroke="#7a2e8c" stroke-width="0.5" stroke-linejoin="round"/><path d="M33.8 157.8L34.2 159.7L34.8 162.7L35.2 162.1L35.8 159L36.2 160.5L36.8 160L37.2 162.7L37.8 159.7L38.2 158.7L38.8 161.3L39.2 161.7L39.8 161L40.2 160.7L40.8 159.3L41.2 158.6L41.8 159.3L42.2 160.2L42.8 160.4L43.2 158.9L43.8 159.2L44.2 158.7L44.8 160.8L45.2 159.8L45.8 159.3L46.2 158.2L46.8 158.4L47.2 158.4L47.8 158.6L48.2 161.7L48.8 159.5L49.2 161.8L49.8 159.1L50.2 162.3L50.8 161.6L51.2 160.3L51.8 162L52.2 164.8L52.8 162.6L53.2 162.7L53.8 161.4L54.2 162L54.8 165L55.2 161L55.8 162L56.2 160.8L56.8 162.3L57.2 162.4L57.8 162.3L58.2 161.3L58.8 160.7L59.2 160.8L59.8 162.1L60.2 162.2L60.8 164.2L61.2 161.3L61.8 163.8L62.2 161.5L62.8 163L63.2 162.2L63.8 164.9L64.2 160.7L64.8 161.7L65.2 160.7L65.8 160.9L66.2 161.1L66.8 162.6L67.2 160.6L67.8 164.7L68.2 162.3L68.8 160.2L69.2 161.1L69.8 162.3L70.2 160.7L70.8 160.8L71.2 162L71.8 163.5L72.2 161.8L72.8 163.1L73.2 161.1L73.8 160.8L74.2 160.9L74.8 160L75.2 164.8L75.8 160.2L76.2 159.7L76.8 159.7L77.2 162L77.8 161.5L78.2 159.6L78.8 158.8L79.2 159.6L79.8 158.4L80.2 158.5L80.8 160.1L81.2 159.3L81.8 158L82.2 159.6L82.8 157.3L83.2 157.4L83.8 156.4L84.2 157.8L84.8 156L85.2 157.2L85.8 155.9L86.2 157.6L86.8 157.3L87.2 157.3L87.8 155.6L88.2 155.6L88.8 157.7L89.2 158.7L89.8 156.7L90.2 156.1L90.8 157.2L91.2 156.3L91.8 156.8L92.2 155.7L92.8 158.6L93.2 158L93.8 157.5L94.2 156.9L94.8 157.5L95.2 156.3L95.8 156.9L96.2 156.8L96.8 157.2L97.2 157.7L97.8 158.3L98.2 160.8L98.8 160.4L99.2 160.1L99.8 163.8L100.2 161.5L100.8 161.6L101.2 160.9L101.8 161.1L102.2 161.2L102.8 162.4L103.2 162.4L103.8 162.6L104.2 161.5L104.8 163.3L105.2 163.2L105.8 162.3L106.2 163.2L106.8 161.7L107.2 163.1L107.8 163.8L108.2 160.6L108.8 163.6L109.2 161.5L109.8 161.8L110.2 161L110.8 160.8L111.2 162.2L111.8 163.4L112.2 160.9L112.8 161L113.2 160.4L113.8 163.5L114.2 162.7L114.8 162.9L115.2 161.5L115.8 165L116.2 161.4L116.8 164.3L117.2 163.2L117.8 162L118.2 166.9L118.8 163.3L119.2 162L119.8 161.8L120.2 162.9L120.8 162L121.2 162.8L121.8 162L122.2 164L122.8 161.9L123.2 162.3L123.8 164L124.2 163.8L124.8 163.2L125.2 163.5L125.8 161.4L126.2 162.2L126.8 164.2L127.2 162.6L127.8 163.7L128.2 163.4L128.8 161.9L129.2 162.8L129.8 162.5L130.2 163.7L130.8 163.3L131.2 163.9L131.8 162.8L132.2 162.3L132.8 162.9L133.2 164L133.8 161.6L134.2 163.9L134.8 163.2L135.2 163.1L135.8 162.6L136.2 164.8L136.8 162.4L137.2 164.6L137.8 164.5L138.2 165.6L138.8 163L139.2 165.2L139.8 163.8L140.2 166.9L140.8 164.6L141.2 164.3L141.8 164.6L142.2 167.2L142.8 163.1L143.2 163.8L143.8 165.8L144.2 164.7L144.8 165.4L145.2 164.2L145.8 164L146.2 163.5L146.8 163.3L147.2 165L147.8 164.2L148.2 163.5L148.8 163.8L149.2 163L149.8 164L150.2 165.2L150.8 165.2L151.2 163.6L151.8 165.4L152.2 162.2L152.8 166L153.2 165L153.8 162.8L154.2 163.3L154.8 165.7L155.2 167.8L155.8 168.5L156.2 165L156.8 166.6L157.2 167.2L157.8 167L158.2 167L158.8 164.2L159.2 166.3L159.8 163.8L160.2 162.8L160.8 162.8L161.2 162.1L161.8 161.5L162.2 160.8L162.8 159.8L163.2 159.9L163.8 157.9L164.2 158.7L164.8 158.2L165.2 158.6L165.8 156.8L166.2 156.7L166.8 155.3L167.2 156L167.8 155.3L168.2 154.8L168.8 154.4L169.2 155.5L169.8 153.7L170.2 154L170.8 153.9L171.2 153.5L171.8 154L172.2 153.9L172.8 154.1L173.2 153.4L173.8 153.9L174.2 154L174.8 154.5L175.2 154.7L175.8 154.3L176.2 155.3L176.8 155.8L177.2 155.8L177.8 156L178.2 157L178.8 156.7L179.2 157.9L179.8 158.3L180.2 158.5L180.8 159L181.2 159.5L181.8 159.1L182.2 159.8L182.8 161.9L183.2 160.3L183.8 162.7L184.2 164L184.8 163.4L185.2 164L185.8 164.4L186.2 165.1L186.8 168.4L187.2 168.1L187.8 168.5L188.2 168.8L188.8 167.2L189.2 170.3L189.8 166.9L190.2 167L190.8 169.2L191.2 166.2L191.8 166.5L192.2 167.3L192.8 169L193.2 167.7L193.8 168L194.2 167.3L194.8 166.8L195.2 166.3L195.8 166.2L196.2 167.7L196.8 166.3L197.2 166.4L197.8 167.6L198.2 168.1L198.8 165.6L199.2 168.6L199.8 168.1L200.2 169.5L200.8 171L201.2 167.3L201.8 168.2L202.2 168.8L202.8 168L203.2 170.4L203.8 168.8L204.2 167.1L204.8 171.6L205.2 169.3L205.8 168.4L206.2 169.5L206.8 167.8L207.2 171.4L207.8 166.9L208.2 169.8L208.8 169.1L209.2 167.7L209.8 167.6L210.2 167.7L210.8 167.6L211.2 167L211.8 169.5L212.2 167.3L212.8 167.7L213.2 167L213.8 168.6L214.2 166.3L214.8 167.1L215.2 170.7L215.8 167.7L216.2 168.4L216.8 169L217.2 169.5L217.8 166.9L218.2 168.2L218.8 168.8L219.2 168.1L219.8 168.5L220.2 167.1L220.8 169.5L221.2 171.6L221.8 168.7L222.2 166.5L222.8 167.8L223.2 170.6L223.8 167L224.2 168.4L224.8 168.9L225.2 169L225.8 169.2L226.2 170.8L226.8 168L227.2 169.2L227.8 168.4L228.2 169.5L228.8 170.3L229.2 171L229.8 171.6L230.2 168.3L230.8 169.1L231.2 169.1L231.8 170.5L232.2 168.7L232.8 167.3L233.2 166.7L233.8 169.1L234.2 170.4L234.8 166.4L235.2 168.1L235.8 167.1L236.2 171.4L236.8 170.2L237.2 167.6L237.8 168.8L238.2 166.7L238.8 169.3L239.2 168.4L239.8 168.2L240.2 168.5L240.8 168.5L241.2 172.5L241.8 168.2L242.2 168.5L242.8 171.4L243.2 168.8L243.8 169.7L244.2 170L244.8 170.8L245.2 169.3L245.8 169.9L246.2 167.2L246.8 168.6L247.2 167.6L247.8 168.9L248.2 167.5L248.8 167.7L249.2 167.9L249.8 166.7L250.2 167L250.8 166.8L251.2 167.1L251.8 166.8L252.2 168.8L252.8 165.6L253.2 164.8L253.8 163.7L254.2 165.2L254.8 163.4L255.2 163.9L255.8 164.3L256.2 164.7L256.8 164.9L257.2 165.1L257.8 164.3L258.2 163L258.8 163.1L259.2 163.4L259.8 162.8L260.2 164.3L260.8 163.2L261.2 163.2L261.8 162.8L262.2 163.5L262.8 162.8L263.2 163.5L263.8 162.9L264.2 164.9L264.8 165.5L265.2 163.5L265.8 164.6L266.2 163.8L266.8 165.7L267.2 165.6L267.8 164.1L268.2 164.7L268.8 165.7L269.2 166.1L269.8 166.3L270.2 166.4L270.8 166.9L271.2 168.2L271.8 168.3L272.2 167.6L272.8 167.5L273.2 168.4L273.8 168.2L274.2 168.7L274.8 167.5L275.2 167.4L275.8 171.2L276.2 169.6L276.8 169.5L277.2 169.6L277.8 169.9L278.2 167.6L278.8 169.7L279.2 168.9L279.8 169.5L280.2 169L280.8 170.3L281.2 168.5L281.8 168.1L282.2 168.2L282.8 169.8L283.2 165.9L283.2 175.5L282.8 175.4L282.2 175.7L281.8 175.5L281.2 175.8L280.8 175.7L280.2 176L279.8 175.6L279.2 176.2L278.8 176.5L278.2 175L277.8 176.5L277.2 176.7L276.8 176.4L276.2 176.2L275.8 176.1L275.2 175.8L274.8 175.9L274.2 175.1L273.8 175.4L273.2 174.7L272.8 173.8L272.2 173.6L271.8 173.7L271.2 171.6L270.8 172.8L270.2 172L269.8 172.1L269.2 171.2L268.8 171.3L268.2 171L267.8 170.2L267.2 170.3L266.8 169.7L266.2 169.1L265.8 169.2L265.2 168.9L264.8 168.6L264.2 168.6L263.8 168.4L263.2 168.3L262.8 167.7L262.2 167.9L261.8 168L261.2 167.8L260.8 167.9L260.2 167.2L259.8 166.6L259.2 167.5L258.8 167.3L258.2 167.9L257.8 168.2L257.2 166.9L256.8 168.4L256.2 168.2L255.8 168.4L255.2 169L254.8 168.1L254.2 169.4L253.8 169.4L253.2 169.9L252.8 170.1L252.2 170.7L251.8 171L251.2 170.8L250.8 172.1L250.2 172.2L249.8 172.8L249.2 173.1L248.8 173.8L248.2 174.1L247.8 174.9L247.2 174.9L246.8 174.2L246.2 175.9L245.8 175L245.2 175.9L244.8 176.5L244.2 176.5L243.8 175L243.2 175.2L242.8 176.2L242.2 176.3L241.8 176L241.2 175.9L240.8 175.5L240.2 175.5L239.8 174L239.2 175.3L238.8 175L238.2 173.7L237.8 174.9L237.2 174.5L236.8 174.3L236.2 174.6L235.8 174.8L235.2 174.5L234.8 174.2L234.2 175L233.8 175.1L233.2 174.9L232.8 174.8L232.2 175.3L231.8 175.6L231.2 175.8L230.8 175.9L230.2 176.3L229.8 175.7L229.2 176.5L228.8 175.6L228.2 176.1L227.8 175.6L227.2 175L226.8 176L226.2 176.5L225.8 178.6L225.2 175L224.8 175.7L224.2 175.8L223.8 175.9L223.2 175.1L222.8 175L222.2 175.9L221.8 175.3L221.2 175.3L220.8 175.2L220.2 174.8L219.8 174.9L219.2 175L218.8 174.7L218.2 173.1L217.8 174.9L217.2 175.2L216.8 174.6L216.2 175L215.8 175.3L215.2 175.2L214.8 175L214.2 174.1L213.8 174.8L213.2 174.6L212.8 174.8L212.2 174.9L211.8 174.3L211.2 174.7L210.8 174.9L210.2 174.9L209.8 175.3L209.2 175L208.8 175.2L208.2 175.7L207.8 176.1L207.2 174.9L206.8 176.4L206.2 174.7L205.8 176.2L205.2 176.6L204.8 176L204.2 175.9L203.8 175.6L203.2 175.9L202.8 176L202.2 175.9L201.8 174.9L201.2 175L200.8 174.7L200.2 173.5L199.8 174.1L199.2 173.3L198.8 173.6L198.2 172.9L197.8 172.6L197.2 172.7L196.8 172.3L196.2 172.7L195.8 172L195.2 170.8L194.8 172.5L194.2 172.7L193.8 171L193.2 172.1L192.8 173.3L192.2 173.2L191.8 173.9L191.2 174L190.8 172.9L190.2 176.8L189.8 175.5L189.2 174.8L188.8 175.5L188.2 175.3L187.8 175L187.2 173.9L186.8 172.8L186.2 172.3L185.8 171L185.2 169.7L184.8 168.6L184.2 167.6L183.8 166.4L183.2 165.8L182.8 164.8L182.2 163.4L181.8 163L181.2 162.6L180.8 161L180.2 161L179.8 160.4L179.2 160.8L178.8 159.4L178.2 158.8L177.8 158L177.2 157.9L176.8 157.7L176.2 157.3L175.8 156.8L175.2 156.7L174.8 156.6L174.2 156L173.8 156.1L173.2 155.4L172.8 155.7L172.2 155.8L171.8 155.9L171.2 156.3L170.8 156.4L170.2 156.6L169.8 156.6L169.2 157L168.8 157L168.2 158.2L167.8 158.1L167.2 158.3L166.8 158.9L166.2 159.5L165.8 159.9L165.2 160.6L164.8 161L164.2 161.8L163.8 162.9L163.2 163.6L162.8 164.4L162.2 165.7L161.8 165.5L161.2 167.9L160.8 167.8L160.2 168.9L159.8 169.5L159.2 171.7L158.8 171.8L158.2 171.2L157.8 172.6L157.2 172.9L156.8 172.6L156.2 172.5L155.8 172.2L155.2 171.9L154.8 171.3L154.2 170.2L153.8 170L153.2 170.5L152.8 170.3L152.2 169.7L151.8 169.6L151.2 169.5L150.8 169.4L150.2 168.8L149.8 168.5L149.2 168.2L148.8 167.5L148.2 168.1L147.8 169.9L147.2 169.9L146.8 170.2L146.2 170.1L145.8 170.2L145.2 170.6L144.8 171.5L144.2 171.4L143.8 171.4L143.2 170.3L142.8 171.1L142.2 171.2L141.8 171.9L141.2 171.5L140.8 172.1L140.2 171.7L139.8 172L139.2 171.9L138.8 171.5L138.2 171.4L137.8 170.8L137.2 169.3L136.8 170.2L136.2 170.4L135.8 170L135.2 170.1L134.8 169.8L134.2 170.1L133.8 170.2L133.2 169.9L132.8 169.7L132.2 170.1L131.8 170.4L131.2 169.5L130.8 170.5L130.2 170.1L129.8 168.4L129.2 169.8L128.8 169.8L128.2 168.7L127.8 169.7L127.2 168.7L126.8 170L126.2 169.7L125.8 169.9L125.2 169.6L124.8 170L124.2 170.3L123.8 170L123.2 170L122.8 170.3L122.2 170.7L121.8 168.5L121.2 170.3L120.8 170L120.2 169.7L119.8 169.6L119.2 169.6L118.8 170.2L118.2 170.4L117.8 169.7L117.2 170.4L116.8 169.5L116.2 168.4L115.8 169.6L115.2 169.1L114.8 168.6L114.2 168.9L113.8 168.5L113.2 169.6L112.8 167.6L112.2 168.8L111.8 167.9L111.2 168.6L110.8 168.6L110.2 168.5L109.8 167.8L109.2 168.3L108.8 167.9L108.2 169L107.8 168.3L107.2 169.3L106.8 168.8L106.2 169.5L105.8 167.4L105.2 169.8L104.8 169.4L104.2 168.7L103.8 169.4L103.2 169L102.8 168L102.2 169L101.8 167.7L101.2 168.3L100.8 167.7L100.2 167.7L99.8 166.5L99.2 166.7L98.8 166L98.2 164.1L97.8 164.5L97.2 164.2L96.8 163.6L96.2 162.5L95.8 161L95.2 162L94.8 162.4L94.2 162.1L93.8 161.8L93.2 161.4L92.8 162.9L92.2 161.3L91.8 161.2L91.2 161.1L90.8 160.8L90.2 160L89.8 160.9L89.2 161L88.8 161L88.2 160.3L87.8 160.5L87.2 161L86.8 161.2L86.2 161.4L85.8 159.9L85.2 161.6L84.8 161.7L84.2 161.5L83.8 162L83.2 161.7L82.8 162.1L82.2 163.2L81.8 163.9L81.2 164.4L80.8 164.2L80.2 165L79.8 165.5L79.2 165.2L78.8 166.2L78.2 166.9L77.8 166.5L77.2 167.4L76.8 166.7L76.2 168.2L75.8 168.2L75.2 168.9L74.8 168.4L74.2 168.8L73.8 168.3L73.2 169.5L72.8 169.3L72.2 168.8L71.8 169.3L71.2 168.9L70.8 167.9L70.2 167.6L69.8 167.8L69.2 165.6L68.8 167.8L68.2 167.8L67.8 168.6L67.2 167.6L66.8 168.3L66.2 167.8L65.8 167.4L65.2 168.5L64.8 168.5L64.2 168L63.8 168.7L63.2 168.9L62.8 167.6L62.2 168.8L61.8 168.3L61.2 169L60.8 169.3L60.2 169.2L59.8 168.8L59.2 169.4L58.8 168.8L58.2 168.6L57.8 169.7L57.2 169.2L56.8 168.8L56.2 169.6L55.8 169.4L55.2 169.1L54.8 169.6L54.2 169.6L53.8 169.6L53.2 169.3L52.8 169.1L52.2 168.6L51.8 168.7L51.2 167.4L50.8 167.3L50.2 167.4L49.8 167.6L49.2 167.7L48.8 167.8L48.2 167.6L47.8 167.1L47.2 166.1L46.8 165.6L46.2 166.4L45.8 165.2L45.2 166L44.8 164.6L44.2 165.5L43.8 164.9L43.2 163.4L42.8 165.8L42.2 166.1L41.8 165.9L41.2 166.4L40.8 166.7L40.2 165.7L39.8 166.3L39.2 166.8L38.8 167.2L38.2 166.7L37.8 168.2L37.2 167.9L36.8 168.3L36.2 167.6L35.8 167.4L35.2 166.6L34.8 166.4L34.2 166.6L33.8 165.6Z" fill="#7bae35" fill-opacity="0.55" stroke="none"/><path d="M33.8 162.9L34.2 160.5L34.8 164L35.2 163.6L35.8 164.6L36.2 162.6L36.8 164.8L37.2 163L37.8 161.4L38.2 165L38.8 164.7L39.2 163.2L39.8 162.1L40.2 162L40.8 160.6L41.2 160.9L41.8 161.7L42.2 161.8L42.8 162L43.2 160.4L43.8 159.6L44.2 160.5L44.8 161.5L45.2 161.6L45.8 160.1L46.2 164.4L46.8 160.3L47.2 161L47.8 162.1L48.2 164.2L48.8 163.3L49.2 163.1L49.8 162.9L50.2 164.2L50.8 164.7L51.2 161.4L51.8 165L52.2 165.1L52.8 165.1L53.2 164.7L53.8 163.3L54.2 163.8L54.8 166.8L55.2 164.7L55.8 163.6L56.2 162.5L56.8 164.9L57.2 163.8L57.8 165.3L58.2 164.9L58.8 165.2L59.2 164.6L59.8 164.1L60.2 163.1L60.8 165.8L61.2 163.8L61.8 165.5L62.2 164.8L62.8 163.1L63.2 164.2L63.8 167.2L64.2 162.9L64.8 163.6L65.2 163L65.8 162.3L66.2 162.7L66.8 164.6L67.2 162.4L67.8 166L68.2 162.5L68.8 162.7L69.2 162.2L69.8 163.9L70.2 162L70.8 163.1L71.2 163.4L71.8 165.7L72.2 163.4L72.8 164L73.2 164.9L73.8 164.2L74.2 164.1L74.8 163.4L75.2 166.2L75.8 161.8L76.2 163L76.8 163.2L77.2 162.2L77.8 162.2L78.2 160.4L78.8 162.6L79.2 163.1L79.8 160.5L80.2 160.2L80.8 160.5L81.2 160.9L81.8 161.3L82.2 160.4L82.8 159.6L83.2 158.6L83.8 158.6L84.2 159L84.8 158.9L85.2 158L85.8 158.9L86.2 158.7L86.8 158.7L87.2 158.4L87.8 157.2L88.2 156.8L88.8 158.4L89.2 158.9L89.8 157.1L90.2 157.4L90.8 157.9L91.2 158.4L91.8 160.1L92.2 157.1L92.8 159.8L93.2 159.9L93.8 159.5L94.2 158.3L94.8 158.2L95.2 157.2L95.8 159.3L96.2 158.8L96.8 160.2L97.2 158.4L97.8 159.2L98.2 162.7L98.8 163.3L99.2 163.5L99.8 164.7L100.2 164L100.8 162.8L101.2 162.4L101.8 165.1L102.2 162.5L102.8 162.6L103.2 163.1L103.8 164.6L104.2 163L104.8 164.5L105.2 165.5L105.8 163.4L106.2 164.4L106.8 164.5L107.2 166L107.8 164.5L108.2 163.5L108.8 164.7L109.2 164.6L109.8 162.1L110.2 163L110.8 163.5L111.2 163.4L111.8 164.6L112.2 165.1L112.8 164.4L113.2 164.2L113.8 164.7L114.2 165.7L114.8 164.9L115.2 164.2L115.8 165.2L116.2 167.2L116.8 166.9L117.2 165.5L117.8 166.3L118.2 167.6L118.8 166.1L119.2 165.7L119.8 166.2L120.2 163.7L120.8 164.6L121.2 165.5L121.8 162.7L122.2 166.5L122.8 162.7L123.2 164.6L123.8 164.6L124.2 165.4L124.8 168.1L125.2 167.2L125.8 167.2L126.2 165.7L126.8 165.1L127.2 164.1L127.8 165.9L128.2 165.3L128.8 164.9L129.2 163.9L129.8 163.4L130.2 164L130.8 165L131.2 165.8L131.8 165.1L132.2 167.7L132.8 163.8L133.2 165L133.8 166L134.2 165.2L134.8 164.2L135.2 167.1L135.8 164.6L136.2 166L136.8 164.6L137.2 166.6L137.8 165.6L138.2 168.1L138.8 163.7L139.2 167.8L139.8 166.1L140.2 169.8L140.8 167.3L141.2 167L141.8 167.9L142.2 169L142.8 166.7L143.2 166.5L143.8 167.5L144.2 166.9L144.8 166.2L145.2 165.1L145.8 166.8L146.2 164.9L146.8 165.7L147.2 165.5L147.8 165.8L148.2 165.1L148.8 164L149.2 165.2L149.8 164.9L150.2 166L150.8 165.6L151.2 165.1L151.8 166.7L152.2 163.6L152.8 167.2L153.2 167.1L153.8 166L154.2 166.4L154.8 167.3L155.2 168L155.8 170.4L156.2 168.3L156.8 168.1L157.2 170.5L157.8 167.6L158.2 168.7L158.8 166.5L159.2 167.2L159.8 165.4L160.2 166L160.8 164.3L161.2 162.7L161.8 162.4L162.2 163.1L162.8 161.8L163.2 161.7L163.8 161.8L164.2 160.6L164.8 158.4L165.2 159.4L165.8 157.5L166.2 158.1L166.8 156.1L167.2 156.6L167.8 155.9L168.2 155.1L168.8 154.9L169.2 155.9L169.8 155.4L170.2 154.3L170.8 154.5L171.2 155.2L171.8 154.8L172.2 154.3L172.8 154.4L173.2 154.3L173.8 154.9L174.2 154.5L174.8 154.8L175.2 155.5L175.8 154.6L176.2 156.3L176.8 156.3L177.2 156.1L177.8 157L178.2 157.6L178.8 158L179.2 158L179.8 158.7L180.2 159.2L180.8 160.3L181.2 160.7L181.8 161.5L182.2 161.3L182.8 162.9L183.2 162.3L183.8 163.9L184.2 164.3L184.8 165.1L185.2 166.1L185.8 167L186.2 169.9L186.8 170.7L187.2 169.8L187.8 171.5L188.2 171.8L188.8 170.2L189.2 172L189.8 169.5L190.2 168.8L190.8 170.1L191.2 167.2L191.8 169.6L192.2 168.6L192.8 169.7L193.2 168.2L193.8 169.5L194.2 167.6L194.8 168.1L195.2 167.2L195.8 167.1L196.2 169.1L196.8 168.4L197.2 169L197.8 168.5L198.2 170.7L198.8 169.8L199.2 169.9L199.8 171.5L200.2 170.9L200.8 171.6L201.2 169L201.8 170.4L202.2 170.6L202.8 172.4L203.2 172.6L203.8 172.3L204.2 169.5L204.8 173.3L205.2 172.6L205.8 170.9L206.2 171.5L206.8 168.7L207.2 172.4L207.8 170.5L208.2 172L208.8 171.4L209.2 169.5L209.8 168.8L210.2 170.1L210.8 172.7L211.2 172.1L211.8 171.6L212.2 170.3L212.8 171.1L213.2 169.9L213.8 169L214.2 169.5L214.8 168.2L215.2 171.3L215.8 170.3L216.2 171.9L216.8 169.6L217.2 169.8L217.8 167.4L218.2 170.1L218.8 171.5L219.2 170.9L219.8 172.2L220.2 171.7L220.8 170L221.2 172.7L221.8 171.4L222.2 171.6L222.8 170.3L223.2 172.4L223.8 170.4L224.2 171.5L224.8 171.4L225.2 171.9L225.8 171.9L226.2 172.6L226.8 171.5L227.2 170.4L227.8 170.3L228.2 172.9L228.8 171.9L229.2 173.8L229.8 172.1L230.2 170.7L230.8 171L231.2 171L231.8 172.9L232.2 170.7L232.8 171.1L233.2 170.2L233.8 170.8L234.2 171L234.8 171.1L235.2 170.3L235.8 169.4L236.2 171.6L236.8 170.8L237.2 169.3L237.8 170.1L238.2 169.6L238.8 169.8L239.2 171.2L239.8 170.6L240.2 168.9L240.8 169.3L241.2 172.9L241.8 169.2L242.2 169L242.8 173.4L243.2 171.5L243.8 172L244.2 172.4L244.8 172.1L245.2 171.5L245.8 170L246.2 171.6L246.8 170.4L247.2 170.4L247.8 169.5L248.2 171L248.8 168.4L249.2 169.1L249.8 169.1L250.2 170.1L250.8 169.1L251.2 168.1L251.8 168.1L252.2 169.2L252.8 166.6L253.2 168.1L253.8 165.8L254.2 167.3L254.8 164.4L255.2 164.9L255.8 165.1L256.2 167L256.8 165.5L257.2 165.3L257.8 166L258.2 164.4L258.8 163.8L259.2 164.2L259.8 164.3L260.2 165.6L260.8 164.6L261.2 164.9L261.8 165.1L262.2 165.8L262.8 165L263.2 164.8L263.8 164.6L264.2 167L264.8 165.9L265.2 165.3L265.8 165.4L266.2 167.5L266.8 166.6L267.2 167.1L267.8 167.7L268.2 167.5L268.8 169.2L269.2 168.5L269.8 167L270.2 168.8L270.8 169.7L271.2 168.8L271.8 171L272.2 169.7L272.8 170.6L273.2 170.1L273.8 170.3L274.2 172.1L274.8 168.6L275.2 173.9L275.8 171.6L276.2 172.7L276.8 171.5L277.2 170.7L277.8 171.4L278.2 170.7L278.8 172.2L279.2 171.7L279.8 170.7L280.2 170.1L280.8 172.8L281.2 172.9L281.8 171.2L282.2 169.9L282.8 171.4L283.2 171.6L283.2 175.5L282.8 175.4L282.2 175.7L281.8 175.5L281.2 175.8L280.8 175.7L280.2 176L279.8 175.6L279.2 176.2L278.8 176.5L278.2 175L277.8 176.5L277.2 176.7L276.8 176.4L276.2 176.2L275.8 176.1L275.2 175.8L274.8 175.9L274.2 175.1L273.8 175.4L273.2 174.7L272.8 173.8L272.2 173.6L271.8 173.7L271.2 171.6L270.8 172.8L270.2 172L269.8 172.1L269.2 171.2L268.8 171.3L268.2 171L267.8 170.2L267.2 170.3L266.8 169.7L266.2 169.1L265.8 169.2L265.2 168.9L264.8 168.6L264.2 168.6L263.8 168.4L263.2 168.3L262.8 167.7L262.2 167.9L261.8 168L261.2 167.8L260.8 167.9L260.2 167.2L259.8 166.6L259.2 167.5L258.8 167.3L258.2 167.9L257.8 168.2L257.2 166.9L256.8 168.4L256.2 168.2L255.8 168.4L255.2 169L254.8 168.1L254.2 169.4L253.8 169.4L253.2 169.9L252.8 170.1L252.2 170.7L251.8 171L251.2 170.8L250.8 172.1L250.2 172.2L249.8 172.8L249.2 173.1L248.8 173.8L248.2 174.1L247.8 174.9L247.2 174.9L246.8 174.2L246.2 175.9L245.8 175L245.2 175.9L244.8 176.5L244.2 176.5L243.8 175L243.2 175.2L242.8 176.2L242.2 176.3L241.8 176L241.2 175.9L240.8 175.5L240.2 175.5L239.8 174L239.2 175.3L238.8 175L238.2 173.7L237.8 174.9L237.2 174.5L236.8 174.3L236.2 174.6L235.8 174.8L235.2 174.5L234.8 174.2L234.2 175L233.8 175.1L233.2 174.9L232.8 174.8L232.2 175.3L231.8 175.6L231.2 175.8L230.8 175.9L230.2 176.3L229.8 175.7L229.2 176.5L228.8 175.6L228.2 176.1L227.8 175.6L227.2 175L226.8 176L226.2 176.5L225.8 178.6L225.2 175L224.8 175.7L224.2 175.8L223.8 175.9L223.2 175.1L222.8 175L222.2 175.9L221.8 175.3L221.2 175.3L220.8 175.2L220.2 174.8L219.8 174.9L219.2 175L218.8 174.7L218.2 173.1L217.8 174.9L217.2 175.2L216.8 174.6L216.2 175L215.8 175.3L215.2 175.2L214.8 175L214.2 174.1L213.8 174.8L213.2 174.6L212.8 174.8L212.2 174.9L211.8 174.3L211.2 174.7L210.8 174.9L210.2 174.9L209.8 175.3L209.2 175L208.8 175.2L208.2 175.7L207.8 176.1L207.2 174.9L206.8 176.4L206.2 174.7L205.8 176.2L205.2 176.6L204.8 176L204.2 175.9L203.8 175.6L203.2 175.9L202.8 176L202.2 175.9L201.8 174.9L201.2 175L200.8 174.7L200.2 173.5L199.8 174.1L199.2 173.3L198.8 173.6L198.2 172.9L197.8 172.6L197.2 172.7L196.8 172.3L196.2 172.7L195.8 172L195.2 170.8L194.8 172.5L194.2 172.7L193.8 171L193.2 172.1L192.8 173.3L192.2 173.2L191.8 173.9L191.2 174L190.8 172.9L190.2 176.8L189.8 175.5L189.2 174.8L188.8 175.5L188.2 175.3L187.8 175L187.2 173.9L186.8 172.8L186.2 172.3L185.8 171L185.2 169.7L184.8 168.6L184.2 167.6L183.8 166.4L183.2 165.8L182.8 164.8L182.2 163.4L181.8 163L181.2 162.6L180.8 161L180.2 161L179.8 160.4L179.2 160.8L178.8 159.4L178.2 158.8L177.8 158L177.2 157.9L176.8 157.7L176.2 157.3L175.8 156.8L175.2 156.7L174.8 156.6L174.2 156L173.8 156.1L173.2 155.4L172.8 155.7L172.2 155.8L171.8 155.9L171.2 156.3L170.8 156.4L170.2 156.6L169.8 156.6L169.2 157L168.8 157L168.2 158.2L167.8 158.1L167.2 158.3L166.8 158.9L166.2 159.5L165.8 159.9L165.2 160.6L164.8 161L164.2 161.8L163.8 162.9L163.2 163.6L162.8 164.4L162.2 165.7L161.8 165.5L161.2 167.9L160.8 167.8L160.2 168.9L159.8 169.5L159.2 171.7L158.8 171.8L158.2 171.2L157.8 172.6L157.2 172.9L156.8 172.6L156.2 172.5L155.8 172.2L155.2 171.9L154.8 171.3L154.2 170.2L153.8 170L153.2 170.5L152.8 170.3L152.2 169.7L151.8 169.6L151.2 169.5L150.8 169.4L150.2 168.8L149.8 168.5L149.2 168.2L148.8 167.5L148.2 168.1L147.8 169.9L147.2 169.9L146.8 170.2L146.2 170.1L145.8 170.2L145.2 170.6L144.8 171.5L144.2 171.4L143.8 171.4L143.2 170.3L142.8 171.1L142.2 171.2L141.8 171.9L141.2 171.5L140.8 172.1L140.2 171.7L139.8 172L139.2 171.9L138.8 171.5L138.2 171.4L137.8 170.8L137.2 169.3L136.8 170.2L136.2 170.4L135.8 170L135.2 170.1L134.8 169.8L134.2 170.1L133.8 170.2L133.2 169.9L132.8 169.7L132.2 170.1L131.8 170.4L131.2 169.5L130.8 170.5L130.2 170.1L129.8 168.4L129.2 169.8L128.8 169.8L128.2 168.7L127.8 169.7L127.2 168.7L126.8 170L126.2 169.7L125.8 169.9L125.2 169.6L124.8 170L124.2 170.3L123.8 170L123.2 170L122.8 170.3L122.2 170.7L121.8 168.5L121.2 170.3L120.8 170L120.2 169.7L119.8 169.6L119.2 169.6L118.8 170.2L118.2 170.4L117.8 169.7L117.2 170.4L116.8 169.5L116.2 168.4L115.8 169.6L115.2 169.1L114.8 168.6L114.2 168.9L113.8 168.5L113.2 169.6L112.8 167.6L112.2 168.8L111.8 167.9L111.2 168.6L110.8 168.6L110.2 168.5L109.8 167.8L109.2 168.3L108.8 167.9L108.2 169L107.8 168.3L107.2 169.3L106.8 168.8L106.2 169.5L105.8 167.4L105.2 169.8L104.8 169.4L104.2 168.7L103.8 169.4L103.2 169L102.8 168L102.2 169L101.8 167.7L101.2 168.3L100.8 167.7L100.2 167.7L99.8 166.5L99.2 166.7L98.8 166L98.2 164.1L97.8 164.5L97.2 164.2L96.8 163.6L96.2 162.5L95.8 161L95.2 162L94.8 162.4L94.2 162.1L93.8 161.8L93.2 161.4L92.8 162.9L92.2 161.3L91.8 161.2L91.2 161.1L90.8 160.8L90.2 160L89.8 160.9L89.2 161L88.8 161L88.2 160.3L87.8 160.5L87.2 161L86.8 161.2L86.2 161.4L85.8 159.9L85.2 161.6L84.8 161.7L84.2 161.5L83.8 162L83.2 161.7L82.8 162.1L82.2 163.2L81.8 163.9L81.2 164.4L80.8 164.2L80.2 165L79.8 165.5L79.2 165.2L78.8 166.2L78.2 166.9L77.8 166.5L77.2 167.4L76.8 166.7L76.2 168.2L75.8 168.2L75.2 168.9L74.8 168.4L74.2 168.8L73.8 168.3L73.2 169.5L72.8 169.3L72.2 168.8L71.8 169.3L71.2 168.9L70.8 167.9L70.2 167.6L69.8 167.8L69.2 165.6L68.8 167.8L68.2 167.8L67.8 168.6L67.2 167.6L66.8 168.3L66.2 167.8L65.8 167.4L65.2 168.5L64.8 168.5L64.2 168L63.8 168.7L63.2 168.9L62.8 167.6L62.2 168.8L61.8 168.3L61.2 169L60.8 169.3L60.2 169.2L59.8 168.8L59.2 169.4L58.8 168.8L58.2 168.6L57.8 169.7L57.2 169.2L56.8 168.8L56.2 169.6L55.8 169.4L55.2 169.1L54.8 169.6L54.2 169.6L53.8 169.6L53.2 169.3L52.8 169.1L52.2 168.6L51.8 168.7L51.2 167.4L50.8 167.3L50.2 167.4L49.8 167.6L49.2 167.7L48.8 167.8L48.2 167.6L47.8 167.1L47.2 166.1L46.8 165.6L46.2 166.4L45.8 165.2L45.2 166L44.8 164.6L44.2 165.5L43.8 164.9L43.2 163.4L42.8 165.8L42.2 166.1L41.8 165.9L41.2 166.4L40.8 166.7L40.2 165.7L39.8 166.3L39.2 166.8L38.8 167.2L38.2 166.7L37.8 168.2L37.2 167.9L36.8 168.3L36.2 167.6L35.8 167.4L35.2 166.6L34.8 166.4L34.2 166.6L33.8 165.6Z" fill="#7bae35" stroke="#7bae35" stroke-width="0.5" stroke-linejoin="round"/><path d="M33.8 176.2L34.2 174.6L34.8 180.2L35.2 175.3L35.8 177.7L36.2 177.6L36.8 178.5L37.2 179.7L37.8 179.6L38.2 177.5L38.8 179.5L39.2 180.2L39.8 180L40.2 180.8L40.8 183.6L41.2 184.6L41.8 181.8L42.2 180.5L42.8 183.7L43.2 183.8L43.8 182.1L44.2 181.9L44.8 182.5L45.2 188L45.8 183.9L46.2 187.2L46.8 184.5L47.2 184.1L47.8 184.7L48.2 185.8L48.8 184.4L49.2 183.4L49.8 184.8L50.2 184.9L50.8 186L51.2 187.7L51.8 185.2L52.2 185.4L52.8 184L53.2 187.3L53.8 184.4L54.2 186.1L54.8 186.5L55.2 188L55.8 188L56.2 185.5L56.8 185.2L57.2 184.9L57.8 183.9L58.2 184.7L58.8 186.3L59.2 185.7L59.8 186.2L60.2 184.1L60.8 185L61.2 186.3L61.8 185.3L62.2 185.4L62.8 186.5L63.2 186.5L63.8 187.1L64.2 186.4L64.8 185.1L65.2 185.3L65.8 184.7L66.2 188.2L66.8 186L67.2 185.5L67.8 184.6L68.2 185.3L68.8 182.9L69.2 188.5L69.8 185.6L70.2 184.5L70.8 184.8L71.2 187.1L71.8 184.3L72.2 185L72.8 184.3L73.2 183.8L73.8 184.4L74.2 180.8L74.8 185.6L75.2 184.9L75.8 185.5L76.2 185.2L76.8 184.4L77.2 183.7L77.8 184.8L78.2 184.4L78.8 184.3L79.2 183.6L79.8 186.3L80.2 184.1L80.8 183.3L81.2 184L81.8 184.2L82.2 183.3L82.8 183.4L83.2 183.6L83.8 183.2L84.2 182.8L84.8 183.4L85.2 183.9L85.8 183.4L86.2 182.9L86.8 185.9L87.2 183.9L87.8 182.6L88.2 183.6L88.8 182.8L89.2 182.9L89.8 183.2L90.2 183.5L90.8 182.3L91.2 182.5L91.8 183.5L92.2 182.4L92.8 184.2L93.2 185.8L93.8 183L94.2 183.8L94.8 183.3L95.2 182.8L95.8 185.7L96.2 185.3L96.8 185.3L97.2 185.7L97.8 183.6L98.2 186.3L98.8 184.8L99.2 183.4L99.8 186.7L100.2 185L100.8 184.7L101.2 185.3L101.8 185.5L102.2 185L102.8 187.4L103.2 186.9L103.8 185.6L104.2 188.4L104.8 188.2L105.2 187.1L105.8 185.4L106.2 187.1L106.8 186L107.2 186.8L107.8 187L108.2 187.7L108.8 187.1L109.2 187.1L109.8 188.5L110.2 187L110.8 186.8L111.2 187.8L111.8 189.4L112.2 189L112.8 184L113.2 186.7L113.8 189.9L114.2 189.6L114.8 191L115.2 187.6L115.8 189.1L116.2 186.5L116.8 187.9L117.2 187.1L117.8 188.7L118.2 190.3L118.8 188.2L119.2 188.9L119.8 187.1L120.2 186.6L120.8 187.5L121.2 187.1L121.8 186L122.2 189.4L122.8 186.2L123.2 187.3L123.8 187.2L124.2 187.4L124.8 189.5L125.2 186.9L125.8 189.7L126.2 189.2L126.8 189L127.2 187.3L127.8 188.4L128.2 187.4L128.8 186.2L129.2 186.4L129.8 188.7L130.2 188L130.8 187L131.2 186.5L131.8 186.6L132.2 188.7L132.8 188.1L133.2 189.1L133.8 188.8L134.2 187.2L134.8 191.9L135.2 186.8L135.8 187.1L136.2 188.3L136.8 188.4L137.2 187.9L137.8 187.1L138.2 186.9L138.8 188.7L139.2 190.7L139.8 187.5L140.2 188.2L140.8 190.1L141.2 188.9L141.8 189.6L142.2 190.7L142.8 189L143.2 189.4L143.8 188.6L144.2 190.4L144.8 188L145.2 190.5L145.8 191.8L146.2 188.2L146.8 189.9L147.2 188.5L147.8 189.2L148.2 190.7L148.8 189.6L149.2 190.1L149.8 189.4L150.2 188.3L150.8 191.3L151.2 189.6L151.8 190.1L152.2 188.8L152.8 188.1L153.2 187.6L153.8 189.2L154.2 189.6L154.8 188.4L155.2 187.3L155.8 188.9L156.2 187.5L156.8 187.3L157.2 185L157.8 185.8L158.2 185.6L158.8 183.9L159.2 184.5L159.8 185.3L160.2 183.7L160.8 183.2L161.2 183.1L161.8 184.9L162.2 183L162.8 182.5L163.2 183.7L163.8 182.3L164.2 184.1L164.8 182.4L165.2 181.7L165.8 183.2L166.2 181.8L166.8 181.5L167.2 182.6L167.8 181.5L168.2 182.5L168.8 180.7L169.2 181.9L169.8 182.1L170.2 181.3L170.8 180.4L171.2 180.6L171.8 181L172.2 181.1L172.8 180.9L173.2 180.5L173.8 180.7L174.2 181.7L174.8 182.7L175.2 181L175.8 180.7L176.2 181.2L176.8 181.9L177.2 180.9L177.8 182.7L178.2 182.3L178.8 183L179.2 183.3L179.8 182L180.2 183.6L180.8 182.4L181.2 183L181.8 184L182.2 183.2L182.8 183.6L183.2 184.4L183.8 185.8L184.2 183.4L184.8 184.6L185.2 184.7L185.8 186.7L186.2 185.6L186.8 185.9L187.2 188L187.8 185.5L188.2 187.4L188.8 188.3L189.2 187.1L189.8 187.2L190.2 188.7L190.8 190.2L191.2 191.4L191.8 191.8L192.2 191.3L192.8 187.8L193.2 189L193.8 190.7L194.2 190.5L194.8 192L195.2 192.8L195.8 190.3L196.2 191.4L196.8 190.7L197.2 190.6L197.8 192.2L198.2 192.5L198.8 192.7L199.2 192.7L199.8 191.9L200.2 189.9L200.8 191.7L201.2 190.5L201.8 193.4L202.2 192.3L202.8 192.1L203.2 189.6L203.8 191.4L204.2 194.2L204.8 190.6L205.2 191.9L205.8 190L206.2 191.3L206.8 191.8L207.2 190.4L207.8 193.1L208.2 190L208.8 189.2L209.2 192.1L209.8 191.9L210.2 190.5L210.8 190.1L211.2 191.8L211.8 192L212.2 192.4L212.8 192.3L213.2 190.6L213.8 189.3L214.2 190.3L214.8 192.6L215.2 190L215.8 192.8L216.2 189.5L216.8 191.8L217.2 191.2L217.8 192.2L218.2 190.7L218.8 193.1L219.2 191.6L219.8 190.6L220.2 191.3L220.8 189.8L221.2 190.2L221.8 193.5L222.2 191.2L222.8 190.5L223.2 190.8L223.8 190.5L224.2 192.5L224.8 190.5L225.2 191.3L225.8 189.7L226.2 192.6L226.8 191.9L227.2 192.5L227.8 191.1L228.2 190.7L228.8 192.2L229.2 191.7L229.8 193.1L230.2 192.5L230.8 190.2L231.2 192.2L231.8 191.1L232.2 194.4L232.8 192.2L233.2 191.2L233.8 191.3L234.2 192L234.8 194.2L235.2 190.6L235.8 192.9L236.2 191.5L236.8 191.4L237.2 191.8L237.8 192.6L238.2 191.3L238.8 191.8L239.2 188.5L239.8 190.3L240.2 194.2L240.8 190.2L241.2 190.4L241.8 193.2L242.2 190.8L242.8 190.4L243.2 190.4L243.8 191.5L244.2 190.9L244.8 189.4L245.2 192.3L245.8 189.6L246.2 189.8L246.8 190L247.2 189L247.8 190.1L248.2 189.4L248.8 189.7L249.2 188.8L249.8 189.7L250.2 189.3L250.8 189.9L251.2 189L251.8 188.6L252.2 189.7L252.8 189.9L253.2 188.2L253.8 189.7L254.2 188.5L254.8 188.1L255.2 188.6L255.8 189.7L256.2 188.2L256.8 188.6L257.2 188.8L257.8 187.6L258.2 187.7L258.8 189.5L259.2 188.3L259.8 188.7L260.2 188L260.8 188.9L261.2 191.1L261.8 188.4L262.2 188.4L262.8 188.8L263.2 188L263.8 189.3L264.2 188L264.8 188.4L265.2 189.9L265.8 189L266.2 190.9L266.8 189.2L267.2 188L267.8 189.2L268.2 188.9L268.8 189.4L269.2 188.3L269.8 188.8L270.2 188.4L270.8 191.5L271.2 190.3L271.8 190.8L272.2 189.7L272.8 189L273.2 189.2L273.8 192.1L274.2 191.2L274.8 192.1L275.2 193L275.8 189.6L276.2 191.5L276.8 191.6L277.2 194.1L277.8 190.3L278.2 191.1L278.8 194L279.2 193.1L279.8 190.6L280.2 194.3L280.8 191.9L281.2 190.9L281.8 192.4L282.2 192.8L282.8 192L283.2 190.9L283.2 199.5L282.8 199.5L282.2 198.7L281.8 199.2L281.2 199.4L280.8 197.9L280.2 198.8L279.8 198.9L279.2 198.4L278.8 198.5L278.2 198.1L277.8 198.1L277.2 198L276.8 197.4L276.2 197.3L275.8 195.5L275.2 198.1L274.8 196.8L274.2 196.7L273.8 196.2L273.2 196.2L272.8 196.4L272.2 196L271.8 195.9L271.2 195.3L270.8 195.6L270.2 194.6L269.8 195.7L269.2 195.3L268.8 195.2L268.2 194.3L267.8 194.8L267.2 194.2L266.8 194.4L266.2 193.9L265.8 193.9L265.2 193.9L264.8 194.4L264.2 194L263.8 193.8L263.2 193.9L262.8 193.9L262.2 193.3L261.8 193.9L261.2 197.4L260.8 194.1L260.2 194L259.8 193.7L259.2 193.9L258.8 194L258.2 193.5L257.8 193.4L257.2 193.4L256.8 193.9L256.2 194L255.8 193.9L255.2 193.7L254.8 193.9L254.2 194L253.8 193.3L253.2 194.2L252.8 193L252.2 194.5L251.8 193.9L251.2 193.3L250.8 194.7L250.2 194.9L249.8 194.8L249.2 194.1L248.8 194.8L248.2 195.4L247.8 195.5L247.2 195.6L246.8 195.7L246.2 196.2L245.8 195.7L245.2 195.6L244.8 196.4L244.2 196.2L243.8 196.5L243.2 197.3L242.8 197.2L242.2 197.2L241.8 197.7L241.2 197.9L240.8 198L240.2 197.9L239.8 198.4L239.2 198.2L238.8 199.7L238.2 199.4L237.8 199L237.2 198.8L236.8 199.3L236.2 199.4L235.8 198.9L235.2 199.2L234.8 199.3L234.2 199.4L233.8 199.2L233.2 199.2L232.8 199.1L232.2 199.6L231.8 199.6L231.2 198.7L230.8 199.1L230.2 198.5L229.8 198.7L229.2 199.1L228.8 198.9L228.2 198.5L227.8 197.7L227.2 198.2L226.8 198.1L226.2 198.3L225.8 198L225.2 197.3L224.8 197.7L224.2 197.6L223.8 196.8L223.2 196.3L222.8 196.9L222.2 197.5L221.8 197.5L221.2 197.7L220.8 197.8L220.2 197.4L219.8 196.9L219.2 196.8L218.8 197.6L218.2 198L217.8 197.7L217.2 198.2L216.8 197.4L216.2 197.8L215.8 197L215.2 197.5L214.8 196.9L214.2 197.5L213.8 197L213.2 197.6L212.8 197.5L212.2 197.4L211.8 197.2L211.2 197.4L210.8 197.1L210.2 199.9L209.8 197.3L209.2 196.2L208.8 197L208.2 197.4L207.8 197.3L207.2 197.2L206.8 197.6L206.2 197.4L205.8 197.6L205.2 197L204.8 196.8L204.2 197.6L203.8 197.5L203.2 196.1L202.8 197.5L202.2 197.9L201.8 197.8L201.2 198.1L200.8 198.5L200.2 199.3L199.8 198.5L199.2 199.2L198.8 198.1L198.2 199.3L197.8 199.1L197.2 198.8L196.8 199.1L196.2 198.2L195.8 198.6L195.2 198.4L194.8 197.3L194.2 197.5L193.8 197.2L193.2 196.6L192.8 196L192.2 196.1L191.8 195L191.2 194.2L190.8 193.8L190.2 193.6L189.8 193.2L189.2 192.3L188.8 192.3L188.2 192.2L187.8 191.3L187.2 190.8L186.8 190.6L186.2 190.2L185.8 189.6L185.2 188.6L184.8 188.7L184.2 188.1L183.8 188.1L183.2 188.1L182.8 187.7L182.2 186.7L181.8 186.8L181.2 186.6L180.8 185.8L180.2 185.8L179.8 186.2L179.2 185.8L178.8 184.7L178.2 184.9L177.8 185.3L177.2 184.8L176.8 184.8L176.2 184.7L175.8 184.4L175.2 183.8L174.8 183.9L174.2 183.9L173.8 184L173.2 183.7L172.8 183.9L172.2 184L171.8 184.1L171.2 183.5L170.8 184.1L170.2 184.3L169.8 184.2L169.2 184.6L168.8 184.4L168.2 184.9L167.8 186.2L167.2 185L166.8 185L166.2 185.7L165.8 185.6L165.2 185.9L164.8 186.1L164.2 186.2L163.8 186.3L163.2 186.9L162.8 187.1L162.2 187.3L161.8 187.8L161.2 188L160.8 188.3L160.2 188.2L159.8 189.2L159.2 188.7L158.8 189.7L158.2 190.5L157.8 190.6L157.2 190.5L156.8 191.4L156.2 191.4L155.8 192.7L155.2 192.3L154.8 193.2L154.2 193.5L153.8 194.5L153.2 193.8L152.8 194.5L152.2 195.4L151.8 195.8L151.2 194.7L150.8 196.6L150.2 196.7L149.8 196.8L149.2 196.8L148.8 196.8L148.2 195.2L147.8 196.3L147.2 196.6L146.8 196L146.2 196.1L145.8 196.3L145.2 196.2L144.8 196.3L144.2 195.8L143.8 195.1L143.2 195.7L142.8 194.7L142.2 195L141.8 194.9L141.2 195L140.8 195L140.2 194.8L139.8 194.8L139.2 194.7L138.8 194.2L138.2 193.6L137.8 195.9L137.2 194.5L136.8 193.8L136.2 193.2L135.8 190.9L135.2 194L134.8 194.2L134.2 194.5L133.8 194.6L133.2 194.5L132.8 194.4L132.2 194.7L131.8 194.8L131.2 194.8L130.8 195L130.2 194.9L129.8 194.7L129.2 194.3L128.8 193.6L128.2 193.8L127.8 194.1L127.2 194.5L126.8 194.3L126.2 194.1L125.8 194.2L125.2 194.3L124.8 194.3L124.2 194.4L123.8 194.2L123.2 194.3L122.8 194.4L122.2 193.2L121.8 194.2L121.2 194.5L120.8 194.5L120.2 194.6L119.8 192.7L119.2 194.5L118.8 194.4L118.2 194.8L117.8 194.5L117.2 194.5L116.8 194.7L116.2 195L115.8 194.7L115.2 194.8L114.8 194.7L114.2 195.5L113.8 195.2L113.2 194.9L112.8 195.2L112.2 194.1L111.8 195.4L111.2 194.5L110.8 195.1L110.2 195L109.8 194.6L109.2 193.9L108.8 193L108.2 194.1L107.8 194.1L107.2 193.9L106.8 193.8L106.2 192.9L105.8 192.9L105.2 192.8L104.8 192.3L104.2 192.6L103.8 192.5L103.2 191.9L102.8 191.3L102.2 191.3L101.8 190.8L101.2 190.8L100.8 190.5L100.2 190.9L99.8 190.5L99.2 190.4L98.8 189L98.2 190.2L97.8 190L97.2 189.5L96.8 189.4L96.2 189.6L95.8 189.5L95.2 187.4L94.8 189.2L94.2 189.1L93.8 188.7L93.2 188.5L92.8 187.2L92.2 188.6L91.8 189L91.2 188.8L90.8 188.8L90.2 188.8L89.8 188.5L89.2 189L88.8 188.7L88.2 188.8L87.8 188.7L87.2 189L86.8 188.6L86.2 188.9L85.8 188.4L85.2 188.9L84.8 189.2L84.2 189.2L83.8 188.3L83.2 188.7L82.8 187.7L82.2 189.4L81.8 189.1L81.2 189.1L80.8 189.6L80.2 189.9L79.8 190L79.2 190L78.8 190.4L78.2 190.2L77.8 190.5L77.2 188.4L76.8 189.5L76.2 190.5L75.8 190.9L75.2 191.4L74.8 191.7L74.2 190.4L73.8 191.9L73.2 191.8L72.8 192.3L72.2 192.3L71.8 192.5L71.2 193.3L70.8 192.1L70.2 192.8L69.8 192.6L69.2 193.3L68.8 193.4L68.2 193.1L67.8 192.8L67.2 193.6L66.8 192.6L66.2 193.6L65.8 193.6L65.2 193.6L64.8 193.8L64.2 193.7L63.8 194.4L63.2 193.3L62.8 193.4L62.2 193.4L61.8 192.4L61.2 193.3L60.8 193.4L60.2 193.2L59.8 192.8L59.2 193.1L58.8 193.1L58.2 192.2L57.8 192.8L57.2 192.5L56.8 191.6L56.2 191.3L55.8 192.6L55.2 193L54.8 193.2L54.2 192.9L53.8 193L53.2 193.1L52.8 192.5L52.2 193L51.8 192.2L51.2 192.9L50.8 192.8L50.2 192.7L49.8 192.8L49.2 192.5L48.8 192L48.2 192.3L47.8 192.7L47.2 191.6L46.8 192L46.2 192.4L45.8 191.6L45.2 191.5L44.8 191.3L44.2 191.3L43.8 190.3L43.2 189.3L42.8 189L42.2 188.3L41.8 188.1L41.2 188.5L40.8 187.5L40.2 187.3L39.8 186.3L39.2 185.8L38.8 185.4L38.2 186.3L37.8 186.4L37.2 185.5L36.8 184.4L36.2 182.6L35.8 184.5L35.2 183.3L34.8 183.2L34.2 183.2L33.8 181.7Z" fill="#5ab7ea" fill-opacity="0.55" stroke="none"/><path d="M33.8 179.3L34.2 177.4L34.8 181L35.2 177.7L35.8 180.5L36.2 177.8L36.8 181.2L37.2 181L37.8 181.7L38.2 180.1L38.8 181.1L39.2 183.7L39.8 181.6L40.2 183.6L40.8 185.2L41.2 185.1L41.8 185.1L42.2 183.2L42.8 185.2L43.2 184.7L43.8 185.2L44.2 182.5L44.8 184.6L45.2 188.9L45.8 187.4L46.2 189.5L46.8 186.8L47.2 186.5L47.8 185.2L48.2 186.8L48.8 187.5L49.2 184.6L49.8 186.8L50.2 189L50.8 187.9L51.2 189L51.8 185.4L52.2 187.8L52.8 188.1L53.2 188.3L53.8 186.4L54.2 187.4L54.8 190.4L55.2 188.3L55.8 190.1L56.2 186.9L56.8 187.1L57.2 185.8L57.8 187.2L58.2 187.4L58.8 189L59.2 187.5L59.8 189.2L60.2 189.6L60.8 186.6L61.2 187.2L61.8 186.3L62.2 190.5L62.8 188.1L63.2 187.7L63.8 187.2L64.2 187.4L64.8 187L65.2 189.2L65.8 189.1L66.2 189.7L66.8 186.8L67.2 190.9L67.8 186.8L68.2 186.6L68.8 188.6L69.2 189.8L69.8 188.4L70.2 189L70.8 187.4L71.2 190.4L71.8 188L72.2 189.3L72.8 187.5L73.2 187L73.8 185.5L74.2 184.4L74.8 187.7L75.2 187.1L75.8 187.7L76.2 187.7L76.8 185.8L77.2 185.2L77.8 185.6L78.2 185.4L78.8 185L79.2 187.6L79.8 188.2L80.2 185.2L80.8 185.3L81.2 184.8L81.8 184.9L82.2 185.9L82.8 183.4L83.2 184.2L83.8 184.5L84.2 185.4L84.8 184L85.2 184.7L85.8 185.9L86.2 185.3L86.8 186L87.2 185.4L87.8 184.5L88.2 184.1L88.8 186.1L89.2 183.5L89.8 184.6L90.2 185.1L90.8 186L91.2 185.7L91.8 186.2L92.2 185.6L92.8 185.4L93.2 187L93.8 185.4L94.2 186.7L94.8 184.8L95.2 184.9L95.8 186.6L96.2 186.2L96.8 185.8L97.2 186.2L97.8 185.7L98.2 187.2L98.8 186.2L99.2 185.9L99.8 187.5L100.2 186.9L100.8 188.4L101.2 186.2L101.8 186.4L102.2 189.2L102.8 188.4L103.2 188.4L103.8 190.2L104.2 189.5L104.8 188.5L105.2 188.6L105.8 190.2L106.2 188.3L106.8 188.2L107.2 189.1L107.8 190.1L108.2 188.8L108.8 188L109.2 188.3L109.8 191.5L110.2 188L110.8 187.8L111.2 191.3L111.8 191.5L112.2 189.9L112.8 188.8L113.2 188.6L113.8 191.6L114.2 192.2L114.8 191.7L115.2 188.6L115.8 191.2L116.2 189L116.8 189.7L117.2 192.3L117.8 192.4L118.2 191.7L118.8 188.5L119.2 190.1L119.8 188L120.2 188.7L120.8 189.9L121.2 190.9L121.8 188.2L122.2 190.8L122.8 187.4L123.2 189.6L123.8 191.4L124.2 189.8L124.8 190.6L125.2 189.5L125.8 191.4L126.2 190.8L126.8 189.6L127.2 189.7L127.8 189.8L128.2 191.5L128.8 188.9L129.2 187.7L129.8 190.7L130.2 190.4L130.8 191.2L131.2 190.8L131.8 189.7L132.2 191.2L132.8 189.3L133.2 190.5L133.8 192.2L134.2 188L134.8 193L135.2 189.6L135.8 188.9L136.2 188.8L136.8 190.4L137.2 189.7L137.8 190.5L138.2 188.7L138.8 190.2L139.2 191.3L139.8 188.4L140.2 191.1L140.8 191.8L141.2 192.1L141.8 192.5L142.2 191L142.8 190.9L143.2 191.3L143.8 194.4L144.2 192.1L144.8 190.8L145.2 192.2L145.8 194.3L146.2 188.7L146.8 190.8L147.2 191.6L147.8 190.4L148.2 190.9L148.8 192.5L149.2 192.4L149.8 191.5L150.2 192.7L150.8 193.2L151.2 190.9L151.8 192.1L152.2 191.9L152.8 189.6L153.2 188.5L153.8 190.9L154.2 190.1L154.8 189.3L155.2 189.3L155.8 189.5L156.2 189.4L156.8 188.1L157.2 186.9L157.8 187.6L158.2 186.9L158.8 185.4L159.2 185.8L159.8 186.7L160.2 184.7L160.8 185.7L161.2 184.9L161.8 185.6L162.2 183.5L162.8 183.4L163.2 185.1L163.8 183.4L164.2 185.1L164.8 182.6L165.2 184.4L165.8 184.3L166.2 182.5L166.8 182.5L167.2 183.1L167.8 182.7L168.2 182.9L168.8 183L169.2 183.1L169.8 182.5L170.2 182L170.8 183L171.2 181.6L171.8 181.5L172.2 182.5L172.8 182.5L173.2 180.9L173.8 182L174.2 181.9L174.8 183L175.2 181.9L175.8 181.5L176.2 183.6L176.8 183.1L177.2 182.9L177.8 183.7L178.2 183.3L178.8 183.6L179.2 184.1L179.8 183.4L180.2 184.7L180.8 183L181.2 184.5L181.8 184.4L182.2 184.9L182.8 185.8L183.2 185.6L183.8 186.2L184.2 185.5L184.8 185.5L185.2 186.4L185.8 187.5L186.2 188.7L186.8 188.8L187.2 189.1L187.8 187.1L188.2 189.2L188.8 190.5L189.2 189.4L189.8 190.3L190.2 190L190.8 191.2L191.2 192.1L191.8 192.7L192.2 192.4L192.8 191.9L193.2 192.5L193.8 192.6L194.2 192.2L194.8 193.7L195.2 193.5L195.8 193.8L196.2 193.4L196.8 193.3L197.2 194.1L197.8 194.2L198.2 197.8L198.8 194.1L199.2 194.8L199.8 194.9L200.2 195.5L200.8 193.3L201.2 193L201.8 195.2L202.2 194.4L202.8 193.8L203.2 191.7L203.8 193.5L204.2 196L204.8 191.2L205.2 193.2L205.8 195.3L206.2 192.5L206.8 192.3L207.2 191.7L207.8 194.3L208.2 191.4L208.8 191.4L209.2 193.3L209.8 194.2L210.2 193.4L210.8 191.8L211.2 192.8L211.8 193.8L212.2 194L212.8 193.2L213.2 191.8L213.8 193.6L214.2 192.6L214.8 193.6L215.2 192.7L215.8 193.6L216.2 191.4L216.8 192.2L217.2 194.6L217.8 194.4L218.2 191.9L218.8 193.7L219.2 192.6L219.8 192.2L220.2 194.4L220.8 192.2L221.2 192.6L221.8 195L222.2 192.7L222.8 194.1L223.2 192.8L223.8 191.8L224.2 193.1L224.8 194L225.2 195.5L225.8 194.9L226.2 196.4L226.8 193.8L227.2 194.5L227.8 194.5L228.2 193L228.8 193L229.2 195.3L229.8 193.7L230.2 194.6L230.8 195L231.2 193.9L231.8 194.7L232.2 195.5L232.8 194.6L233.2 193.3L233.8 194.8L234.2 194L234.8 196.1L235.2 195L235.8 194.1L236.2 196.3L236.8 192.9L237.2 194.7L237.8 194.8L238.2 193.3L238.8 192.6L239.2 191.2L239.8 193.7L240.2 196L240.8 193.5L241.2 192.6L241.8 193.8L242.2 193.6L242.8 192.7L243.2 192.2L243.8 192.6L244.2 194.1L244.8 192.3L245.2 193.5L245.8 192L246.2 193.2L246.8 191.7L247.2 191.7L247.8 191.9L248.2 190.7L248.8 190.3L249.2 189.2L249.8 192.2L250.2 191.7L250.8 192.1L251.2 189.4L251.8 190.3L252.2 191.8L252.8 190.4L253.2 190.1L253.8 189.9L254.2 191.7L254.8 188.9L255.2 190.8L255.8 191.8L256.2 188.8L256.8 189.9L257.2 190.5L257.8 188.9L258.2 189.5L258.8 191.9L259.2 189.4L259.8 189.8L260.2 189.1L260.8 190L261.2 191.6L261.8 189.7L262.2 190.2L262.8 192.2L263.2 191L263.8 190.3L264.2 189.8L264.8 190.9L265.2 190.5L265.8 192.3L266.2 191.3L266.8 191.2L267.2 190.1L267.8 190.5L268.2 191.2L268.8 192.5L269.2 191.1L269.8 189.9L270.2 190.4L270.8 192.3L271.2 192L271.8 193L272.2 193.4L272.8 191.8L273.2 191L273.8 192.6L274.2 194.1L274.8 192.5L275.2 194.2L275.8 190.2L276.2 194.1L276.8 193.6L277.2 196.1L277.8 192.6L278.2 192.4L278.8 196.3L279.2 194.4L279.8 194.3L280.2 197.5L280.8 193L281.2 193.4L281.8 193.3L282.2 195.2L282.8 193.7L283.2 193.8L283.2 199.5L282.8 199.5L282.2 198.7L281.8 199.2L281.2 199.4L280.8 197.9L280.2 198.8L279.8 198.9L279.2 198.4L278.8 198.5L278.2 198.1L277.8 198.1L277.2 198L276.8 197.4L276.2 197.3L275.8 195.5L275.2 198.1L274.8 196.8L274.2 196.7L273.8 196.2L273.2 196.2L272.8 196.4L272.2 196L271.8 195.9L271.2 195.3L270.8 195.6L270.2 194.6L269.8 195.7L269.2 195.3L268.8 195.2L268.2 194.3L267.8 194.8L267.2 194.2L266.8 194.4L266.2 193.9L265.8 193.9L265.2 193.9L264.8 194.4L264.2 194L263.8 193.8L263.2 193.9L262.8 193.9L262.2 193.3L261.8 193.9L261.2 197.4L260.8 194.1L260.2 194L259.8 193.7L259.2 193.9L258.8 194L258.2 193.5L257.8 193.4L257.2 193.4L256.8 193.9L256.2 194L255.8 193.9L255.2 193.7L254.8 193.9L254.2 194L253.8 193.3L253.2 194.2L252.8 193L252.2 194.5L251.8 193.9L251.2 193.3L250.8 194.7L250.2 194.9L249.8 194.8L249.2 194.1L248.8 194.8L248.2 195.4L247.8 195.5L247.2 195.6L246.8 195.7L246.2 196.2L245.8 195.7L245.2 195.6L244.8 196.4L244.2 196.2L243.8 196.5L243.2 197.3L242.8 197.2L242.2 197.2L241.8 197.7L241.2 197.9L240.8 198L240.2 197.9L239.8 198.4L239.2 198.2L238.8 199.7L238.2 199.4L237.8 199L237.2 198.8L236.8 199.3L236.2 199.4L235.8 198.9L235.2 199.2L234.8 199.3L234.2 199.4L233.8 199.2L233.2 199.2L232.8 199.1L232.2 199.6L231.8 199.6L231.2 198.7L230.8 199.1L230.2 198.5L229.8 198.7L229.2 199.1L228.8 198.9L228.2 198.5L227.8 197.7L227.2 198.2L226.8 198.1L226.2 198.3L225.8 198L225.2 197.3L224.8 197.7L224.2 197.6L223.8 196.8L223.2 196.3L222.8 196.9L222.2 197.5L221.8 197.5L221.2 197.7L220.8 197.8L220.2 197.4L219.8 196.9L219.2 196.8L218.8 197.6L218.2 198L217.8 197.7L217.2 198.2L216.8 197.4L216.2 197.8L215.8 197L215.2 197.5L214.8 196.9L214.2 197.5L213.8 197L213.2 197.6L212.8 197.5L212.2 197.4L211.8 197.2L211.2 197.4L210.8 197.1L210.2 199.9L209.8 197.3L209.2 196.2L208.8 197L208.2 197.4L207.8 197.3L207.2 197.2L206.8 197.6L206.2 197.4L205.8 197.6L205.2 197L204.8 196.8L204.2 197.6L203.8 197.5L203.2 196.1L202.8 197.5L202.2 197.9L201.8 197.8L201.2 198.1L200.8 198.5L200.2 199.3L199.8 198.5L199.2 199.2L198.8 198.1L198.2 199.3L197.8 199.1L197.2 198.8L196.8 199.1L196.2 198.2L195.8 198.6L195.2 198.4L194.8 197.3L194.2 197.5L193.8 197.2L193.2 196.6L192.8 196L192.2 196.1L191.8 195L191.2 194.2L190.8 193.8L190.2 193.6L189.8 193.2L189.2 192.3L188.8 192.3L188.2 192.2L187.8 191.3L187.2 190.8L186.8 190.6L186.2 190.2L185.8 189.6L185.2 188.6L184.8 188.7L184.2 188.1L183.8 188.1L183.2 188.1L182.8 187.7L182.2 186.7L181.8 186.8L181.2 186.6L180.8 185.8L180.2 185.8L179.8 186.2L179.2 185.8L178.8 184.7L178.2 184.9L177.8 185.3L177.2 184.8L176.8 184.8L176.2 184.7L175.8 184.4L175.2 183.8L174.8 183.9L174.2 183.9L173.8 184L173.2 183.7L172.8 183.9L172.2 184L171.8 184.1L171.2 183.5L170.8 184.1L170.2 184.3L169.8 184.2L169.2 184.6L168.8 184.4L168.2 184.9L167.8 186.2L167.2 185L166.8 185L166.2 185.7L165.8 185.6L165.2 185.9L164.8 186.1L164.2 186.2L163.8 186.3L163.2 186.9L162.8 187.1L162.2 187.3L161.8 187.8L161.2 188L160.8 188.3L160.2 188.2L159.8 189.2L159.2 188.7L158.8 189.7L158.2 190.5L157.8 190.6L157.2 190.5L156.8 191.4L156.2 191.4L155.8 192.7L155.2 192.3L154.8 193.2L154.2 193.5L153.8 194.5L153.2 193.8L152.8 194.5L152.2 195.4L151.8 195.8L151.2 194.7L150.8 196.6L150.2 196.7L149.8 196.8L149.2 196.8L148.8 196.8L148.2 195.2L147.8 196.3L147.2 196.6L146.8 196L146.2 196.1L145.8 196.3L145.2 196.2L144.8 196.3L144.2 195.8L143.8 195.1L143.2 195.7L142.8 194.7L142.2 195L141.8 194.9L141.2 195L140.8 195L140.2 194.8L139.8 194.8L139.2 194.7L138.8 194.2L138.2 193.6L137.8 195.9L137.2 194.5L136.8 193.8L136.2 193.2L135.8 190.9L135.2 194L134.8 194.2L134.2 194.5L133.8 194.6L133.2 194.5L132.8 194.4L132.2 194.7L131.8 194.8L131.2 194.8L130.8 195L130.2 194.9L129.8 194.7L129.2 194.3L128.8 193.6L128.2 193.8L127.8 194.1L127.2 194.5L126.8 194.3L126.2 194.1L125.8 194.2L125.2 194.3L124.8 194.3L124.2 194.4L123.8 194.2L123.2 194.3L122.8 194.4L122.2 193.2L121.8 194.2L121.2 194.5L120.8 194.5L120.2 194.6L119.8 192.7L119.2 194.5L118.8 194.4L118.2 194.8L117.8 194.5L117.2 194.5L116.8 194.7L116.2 195L115.8 194.7L115.2 194.8L114.8 194.7L114.2 195.5L113.8 195.2L113.2 194.9L112.8 195.2L112.2 194.1L111.8 195.4L111.2 194.5L110.8 195.1L110.2 195L109.8 194.6L109.2 193.9L108.8 193L108.2 194.1L107.8 194.1L107.2 193.9L106.8 193.8L106.2 192.9L105.8 192.9L105.2 192.8L104.8 192.3L104.2 192.6L103.8 192.5L103.2 191.9L102.8 191.3L102.2 191.3L101.8 190.8L101.2 190.8L100.8 190.5L100.2 190.9L99.8 190.5L99.2 190.4L98.8 189L98.2 190.2L97.8 190L97.2 189.5L96.8 189.4L96.2 189.6L95.8 189.5L95.2 187.4L94.8 189.2L94.2 189.1L93.8 188.7L93.2 188.5L92.8 187.2L92.2 188.6L91.8 189L91.2 188.8L90.8 188.8L90.2 188.8L89.8 188.5L89.2 189L88.8 188.7L88.2 188.8L87.8 188.7L87.2 189L86.8 188.6L86.2 188.9L85.8 188.4L85.2 188.9L84.8 189.2L84.2 189.2L83.8 188.3L83.2 188.7L82.8 187.7L82.2 189.4L81.8 189.1L81.2 189.1L80.8 189.6L80.2 189.9L79.8 190L79.2 190L78.8 190.4L78.2 190.2L77.8 190.5L77.2 188.4L76.8 189.5L76.2 190.5L75.8 190.9L75.2 191.4L74.8 191.7L74.2 190.4L73.8 191.9L73.2 191.8L72.8 192.3L72.2 192.3L71.8 192.5L71.2 193.3L70.8 192.1L70.2 192.8L69.8 192.6L69.2 193.3L68.8 193.4L68.2 193.1L67.8 192.8L67.2 193.6L66.8 192.6L66.2 193.6L65.8 193.6L65.2 193.6L64.8 193.8L64.2 193.7L63.8 194.4L63.2 193.3L62.8 193.4L62.2 193.4L61.8 192.4L61.2 193.3L60.8 193.4L60.2 193.2L59.8 192.8L59.2 193.1L58.8 193.1L58.2 192.2L57.8 192.8L57.2 192.5L56.8 191.6L56.2 191.3L55.8 192.6L55.2 193L54.8 193.2L54.2 192.9L53.8 193L53.2 193.1L52.8 192.5L52.2 193L51.8 192.2L51.2 192.9L50.8 192.8L50.2 192.7L49.8 192.8L49.2 192.5L48.8 192L48.2 192.3L47.8 192.7L47.2 191.6L46.8 192L46.2 192.4L45.8 191.6L45.2 191.5L44.8 191.3L44.2 191.3L43.8 190.3L43.2 189.3L42.8 189L42.2 188.3L41.8 188.1L41.2 188.5L40.8 187.5L40.2 187.3L39.8 186.3L39.2 185.8L38.8 185.4L38.2 186.3L37.8 186.4L37.2 185.5L36.8 184.4L36.2 182.6L35.8 184.5L35.2 183.3L34.8 183.2L34.2 183.2L33.8 181.7Z" fill="#5ab7ea" stroke="#5ab7ea" stroke-width="0.5" stroke-linejoin="round"/><path d="M33.8 204.8L34.2 205.8L34.8 206.4L35.2 206.6L35.8 206.5L36.2 205.1L36.8 205.6L37.2 205L37.8 204.2L38.2 206.4L38.8 203.9L39.2 205.3L39.8 205.5L40.2 206L40.8 207.1L41.2 204.8L41.8 205.9L42.2 205.7L42.8 205L43.2 204L43.8 205.8L44.2 208.6L44.8 207.1L45.2 208.3L45.8 206.4L46.2 205.9L46.8 206.6L47.2 207.6L47.8 205L48.2 208.2L48.8 209.3L49.2 207.4L49.8 211.1L50.2 208.6L50.8 208.7L51.2 207.4L51.8 207.7L52.2 205.8L52.8 206.8L53.2 210.2L53.8 206.1L54.2 208.3L54.8 207.3L55.2 207.5L55.8 207.9L56.2 207.4L56.8 210.1L57.2 211.3L57.8 207.2L58.2 211.9L58.8 207.9L59.2 207.2L59.8 208.8L60.2 209.4L60.8 210L61.2 209.9L61.8 208.6L62.2 209.9L62.8 209.1L63.2 209.8L63.8 209.5L64.2 207.8L64.8 207.6L65.2 207.3L65.8 208.9L66.2 210.3L66.8 208.1L67.2 208.2L67.8 211.3L68.2 210.8L68.8 209.8L69.2 209.8L69.8 207.3L70.2 208.8L70.8 207.4L71.2 208.6L71.8 207.2L72.2 207.1L72.8 208.4L73.2 207L73.8 210.5L74.2 207.8L74.8 209.9L75.2 208.3L75.8 209.2L76.2 207.7L76.8 207.6L77.2 207.7L77.8 207.9L78.2 207.7L78.8 206.7L79.2 210L79.8 207.7L80.2 206.8L80.8 206.4L81.2 207.3L81.8 206.4L82.2 206.2L82.8 208.1L83.2 207.8L83.8 206.9L84.2 206L84.8 207.1L85.2 206.3L85.8 208.4L86.2 207.8L86.8 208.4L87.2 207.2L87.8 208.3L88.2 207.8L88.8 208.1L89.2 208.2L89.8 207.4L90.2 206.6L90.8 207.7L91.2 208.3L91.8 208.8L92.2 206.6L92.8 209L93.2 209.4L93.8 206.7L94.2 207.6L94.8 210.8L95.2 206.6L95.8 210.1L96.2 207.1L96.8 208.3L97.2 208.5L97.8 209.9L98.2 210L98.8 207.7L99.2 210.5L99.8 208.7L100.2 207.7L100.8 209.4L101.2 208.9L101.8 209.3L102.2 210.1L102.8 208.9L103.2 207.9L103.8 211.2L104.2 209.3L104.8 208.4L105.2 211.6L105.8 209.6L106.2 209.8L106.8 211.4L107.2 211.1L107.8 209.3L108.2 211.9L108.8 208.6L109.2 210.1L109.8 212.6L110.2 210.4L110.8 211.5L111.2 211.6L111.8 212.1L112.2 209.5L112.8 210.4L113.2 210.8L113.8 211L114.2 213L114.8 211.7L115.2 213.1L115.8 211.7L116.2 211.6L116.8 211.3L117.2 210.2L117.8 212.1L118.2 212.3L118.8 210.4L119.2 214.6L119.8 212.4L120.2 211.1L120.8 212.2L121.2 212L121.8 212.3L122.2 211.9L122.8 213.2L123.2 213.1L123.8 211.3L124.2 211.4L124.8 211.7L125.2 213.2L125.8 211.7L126.2 213.1L126.8 210.1L127.2 210.5L127.8 210.4L128.2 210.4L128.8 214.3L129.2 212.7L129.8 210.6L130.2 211L130.8 211.2L131.2 211.7L131.8 211.6L132.2 211.1L132.8 212.9L133.2 210.1L133.8 211.6L134.2 211.8L134.8 210.5L135.2 212.4L135.8 211.7L136.2 212.6L136.8 210.4L137.2 214.5L137.8 212.4L138.2 212.6L138.8 212L139.2 212.2L139.8 212.4L140.2 212.5L140.8 212.7L141.2 212.2L141.8 212.3L142.2 212.2L142.8 214.4L143.2 213L143.8 210.9L144.2 210.7L144.8 210.9L145.2 210.9L145.8 210.5L146.2 211.6L146.8 211.8L147.2 211.8L147.8 211.4L148.2 213L148.8 215L149.2 211.3L149.8 210.1L150.2 213L150.8 210.5L151.2 209.8L151.8 211.1L152.2 209.7L152.8 209.7L153.2 209.6L153.8 209.9L154.2 209.9L154.8 208.5L155.2 209.4L155.8 207.9L156.2 209L156.8 207.6L157.2 208.2L157.8 208.7L158.2 207.6L158.8 208.6L159.2 208L159.8 207.8L160.2 207.1L160.8 208.3L161.2 207.2L161.8 208.6L162.2 207.4L162.8 205.9L163.2 206L163.8 205.8L164.2 206.2L164.8 207.4L165.2 205.4L165.8 206.9L166.2 207.9L166.8 206.1L167.2 204.4L167.8 205.3L168.2 205.5L168.8 206.2L169.2 205.5L169.8 206.6L170.2 205.6L170.8 204.4L171.2 204.6L171.8 204.9L172.2 205.6L172.8 206.2L173.2 204.9L173.8 204.8L174.2 205.6L174.8 206L175.2 204.8L175.8 205.8L176.2 205.3L176.8 205L177.2 205.8L177.8 206.2L178.2 205.4L178.8 206.8L179.2 205.7L179.8 207.3L180.2 205.2L180.8 207L181.2 205.9L181.8 205.9L182.2 206.6L182.8 206L183.2 206.1L183.8 206.1L184.2 208.5L184.8 207.5L185.2 207.6L185.8 208.8L186.2 208.3L186.8 209L187.2 207.4L187.8 208.4L188.2 209.7L188.8 207.9L189.2 208.5L189.8 208.7L190.2 209.9L190.8 210L191.2 210.2L191.8 211.2L192.2 210.3L192.8 210.7L193.2 210.6L193.8 211L194.2 211.6L194.8 210.9L195.2 211.5L195.8 211.4L196.2 211.2L196.8 212.3L197.2 211.4L197.8 211.8L198.2 211.7L198.8 212.3L199.2 214.3L199.8 212.3L200.2 212.9L200.8 212.1L201.2 211.8L201.8 212.6L202.2 212.8L202.8 212.6L203.2 212.3L203.8 216L204.2 211.9L204.8 212.7L205.2 215.1L205.8 214.4L206.2 212.6L206.8 215.5L207.2 213L207.8 216L208.2 214.7L208.8 214.7L209.2 215.6L209.8 215.2L210.2 212.8L210.8 213.9L211.2 212.5L211.8 211.3L212.2 211.6L212.8 212.7L213.2 211.6L213.8 215.1L214.2 213L214.8 214.7L215.2 212.2L215.8 212.7L216.2 212.7L216.8 213.3L217.2 213L217.8 211.6L218.2 211.4L218.8 214.9L219.2 211.9L219.8 212.1L220.2 215.4L220.8 212.6L221.2 213.7L221.8 214.8L222.2 214.5L222.8 214.6L223.2 215.5L223.8 214.8L224.2 212.5L224.8 212.4L225.2 213.2L225.8 215.3L226.2 213.1L226.8 214.2L227.2 213.5L227.8 216.4L228.2 215.1L228.8 214.2L229.2 212.2L229.8 213.6L230.2 213.4L230.8 217.7L231.2 212.5L231.8 215.8L232.2 211.5L232.8 213.5L233.2 213.2L233.8 211.5L234.2 212.1L234.8 214.6L235.2 213.7L235.8 213.5L236.2 211L236.8 211L237.2 211.9L237.8 214.3L238.2 210.9L238.8 214.7L239.2 211.1L239.8 211.3L240.2 211.6L240.8 213.2L241.2 213.5L241.8 210.9L242.2 211.4L242.8 213.1L243.2 211.6L243.8 211.3L244.2 210.3L244.8 212L245.2 211.4L245.8 210.5L246.2 210.8L246.8 211.5L247.2 211.3L247.8 212.7L248.2 210.2L248.8 211.6L249.2 209.7L249.8 210.7L250.2 210.2L250.8 210.2L251.2 211.3L251.8 210.2L252.2 213.1L252.8 210.4L253.2 211.1L253.8 210.3L254.2 211.9L254.8 211.5L255.2 211.3L255.8 209.9L256.2 211.7L256.8 211.6L257.2 209.9L257.8 212.2L258.2 211.5L258.8 210.9L259.2 210.2L259.8 209.6L260.2 209.6L260.8 210.5L261.2 209.9L261.8 211.2L262.2 210.7L262.8 209.5L263.2 209.5L263.8 212L264.2 209.8L264.8 209.1L265.2 212.7L265.8 209.2L266.2 211L266.8 212.4L267.2 210.9L267.8 211.6L268.2 210.3L268.8 211.4L269.2 213.8L269.8 212.2L270.2 210.9L270.8 210.8L271.2 210.5L271.8 210.5L272.2 211.7L272.8 212.8L273.2 210.8L273.8 211.7L274.2 211.1L274.8 210L275.2 212.5L275.8 212.1L276.2 213.1L276.8 214L277.2 212.6L277.8 211.3L278.2 212.7L278.8 211.2L279.2 211.9L279.8 211.9L280.2 213.2L280.8 212.1L281.2 213.8L281.8 211.4L282.2 215L282.8 211.8L283.2 214.7L283.2 219.7L282.8 219.5L282.2 219L281.8 218.9L281.2 218.3L280.8 217.7L280.2 218.9L279.8 218.8L279.2 218.7L278.8 218.7L278.2 218.4L277.8 218.1L277.2 216.4L276.8 218.1L276.2 218L275.8 216.2L275.2 217.8L274.8 217.3L274.2 217.1L273.8 215.2L273.2 217.3L272.8 217L272.2 215.9L271.8 217.1L271.2 216.5L270.8 216.6L270.2 216.4L269.8 216.7L269.2 216.9L268.8 216.5L268.2 216.4L267.8 216.5L267.2 216.2L266.8 216.2L266.2 216.4L265.8 216.3L265.2 216L264.8 216.3L264.2 215.5L263.8 215.9L263.2 215.9L262.8 216L262.2 216.1L261.8 215.3L261.2 216L260.8 216L260.2 216L259.8 215.7L259.2 215.6L258.8 215.9L258.2 215.2L257.8 216.8L257.2 215.6L256.8 215.5L256.2 215.6L255.8 215.2L255.2 215.6L254.8 215.5L254.2 215.7L253.8 215.8L253.2 215.8L252.8 215.9L252.2 216.3L251.8 215.6L251.2 216.3L250.8 215.7L250.2 216.4L249.8 216.5L249.2 216.1L248.8 215.8L248.2 216.3L247.8 215.8L247.2 215.7L246.8 216.9L246.2 216.9L245.8 216.8L245.2 216.8L244.8 216.6L244.2 216.6L243.8 217.7L243.2 217.5L242.8 217.4L242.2 218L241.8 218L241.2 217L240.8 217.3L240.2 218.6L239.8 218.5L239.2 218.9L238.8 219L238.2 218.2L237.8 219.2L237.2 218.8L236.8 218.9L236.2 219.2L235.8 218.8L235.2 219.3L234.8 220L234.2 219.1L233.8 220.2L233.2 220.4L232.8 220.6L232.2 219L231.8 220.4L231.2 220L230.8 220.8L230.2 220.2L229.8 220.6L229.2 220.9L228.8 221.1L228.2 220.1L227.8 220.3L227.2 219.6L226.8 219.3L226.2 219.8L225.8 220.9L225.2 220.8L224.8 220.7L224.2 219.5L223.8 220.2L223.2 220.7L222.8 220.6L222.2 220.5L221.8 219L221.2 220.2L220.8 219.5L220.2 220.3L219.8 219.4L219.2 220L218.8 219.1L218.2 219.8L217.8 219.8L217.2 218.9L216.8 218.7L216.2 219.5L215.8 218.7L215.2 217.9L214.8 219.6L214.2 219.8L213.8 219.2L213.2 219.9L212.8 217.7L212.2 219.7L211.8 219.4L211.2 220L210.8 219.6L210.2 219.9L209.8 220.2L209.2 219.8L208.8 220.7L208.2 220.6L207.8 220L207.2 218.9L206.8 220.5L206.2 220L205.8 221L205.2 221L204.8 221.1L204.2 219.8L203.8 220.8L203.2 220.7L202.8 221L202.2 220.6L201.8 220.2L201.2 219.5L200.8 219.9L200.2 220.3L199.8 218.9L199.2 219.7L198.8 219.6L198.2 218.4L197.8 221.1L197.2 218.4L196.8 217.8L196.2 218L195.8 218L195.2 217.4L194.8 216.7L194.2 215.3L193.8 216.6L193.2 216.3L192.8 214.6L192.2 215.2L191.8 215.2L191.2 214.7L190.8 214.9L190.2 214.5L189.8 214.3L189.2 213.8L188.8 213.9L188.2 213.8L187.8 213.4L187.2 212.4L186.8 212.7L186.2 212.6L185.8 212.6L185.2 212.2L184.8 212.2L184.2 211.5L183.8 211.5L183.2 211.5L182.8 211L182.2 210.8L181.8 210.6L181.2 210.6L180.8 210.4L180.2 209.9L179.8 210.3L179.2 209.4L178.8 209.9L178.2 209.7L177.8 209.2L177.2 209L176.8 209.6L176.2 209.4L175.8 209.3L175.2 208.9L174.8 209L174.2 208.6L173.8 208.8L173.2 208.5L172.8 208.6L172.2 208.8L171.8 209L171.2 208.9L170.8 209.1L170.2 208.8L169.8 209L169.2 209.4L168.8 209.5L168.2 209.4L167.8 209.2L167.2 209.4L166.8 209.5L166.2 209.8L165.8 210.1L165.2 209.8L164.8 210.3L164.2 210.3L163.8 210.2L163.2 211L162.8 210.9L162.2 210.9L161.8 211.4L161.2 211.6L160.8 211.2L160.2 211.1L159.8 211.5L159.2 211L158.8 212.4L158.2 212.7L157.8 212.8L157.2 213.1L156.8 213.6L156.2 213.9L155.8 213.8L155.2 214.2L154.8 214.7L154.2 214.7L153.8 215.4L153.2 215L152.8 215.2L152.2 216.2L151.8 216.3L151.2 216.2L150.8 216L150.2 217.2L149.8 216.8L149.2 217.5L148.8 217.7L148.2 218L147.8 218.4L147.2 218.8L146.8 219L146.2 218.3L145.8 218.6L145.2 219.5L144.8 219.2L144.2 218.8L143.8 219.5L143.2 219.6L142.8 219.2L142.2 218.5L141.8 219.9L141.2 219.9L140.8 218.2L140.2 219.6L139.8 219.9L139.2 219.5L138.8 219.8L138.2 219.8L137.8 219.5L137.2 219.4L136.8 218.8L136.2 217.9L135.8 218.3L135.2 218.9L134.8 216L134.2 218.4L133.8 218.3L133.2 218.6L132.8 218.1L132.2 218.2L131.8 217.3L131.2 216.3L130.8 217.4L130.2 217.7L129.8 217.9L129.2 217.6L128.8 218.5L128.2 218.5L127.8 218.2L127.2 218.2L126.8 218.5L126.2 218.5L125.8 218.7L125.2 219.1L124.8 218.2L124.2 219.3L123.8 219.2L123.2 218.6L122.8 219.5L122.2 219.6L121.8 217.7L121.2 219.4L120.8 219.3L120.2 218.9L119.8 219.6L119.2 219.6L118.8 219.2L118.2 219.5L117.8 218.9L117.2 219.2L116.8 219.1L116.2 219.1L115.8 219.1L115.2 218.3L114.8 218.5L114.2 218L113.8 218.7L113.2 217.6L112.8 218L112.2 217.3L111.8 217.8L111.2 217L110.8 217.6L110.2 220.9L109.8 217.1L109.2 216.2L108.8 216.6L108.2 216.7L107.8 214.9L107.2 216.6L106.8 215.6L106.2 214.8L105.8 215.3L105.2 215L104.8 215.5L104.2 215.1L103.8 214.8L103.2 214.6L102.8 214.9L102.2 214.7L101.8 214.5L101.2 214.7L100.8 212.1L100.2 213.8L99.8 213.9L99.2 213.3L98.8 213.8L98.2 213.8L97.8 213.7L97.2 213.7L96.8 213.7L96.2 213L95.8 213.3L95.2 211.9L94.8 213.4L94.2 212.9L93.8 212.9L93.2 212.8L92.8 213.1L92.2 212.7L91.8 212.3L91.2 212.5L90.8 212.4L90.2 213L89.8 212.4L89.2 212.5L88.8 212.8L88.2 213L87.8 212.9L87.2 212.1L86.8 212.4L86.2 212.9L85.8 212.1L85.2 212.7L84.8 212.9L84.2 212.2L83.8 212.5L83.2 213.2L82.8 212.9L82.2 213.1L81.8 212.3L81.2 212.2L80.8 212.7L80.2 211.9L79.8 213.2L79.2 213.5L78.8 212.4L78.2 212.8L77.8 213.7L77.2 213.7L76.8 212.9L76.2 213.8L75.8 213.9L75.2 213.4L74.8 213.9L74.2 214.2L73.8 214.4L73.2 214.6L72.8 214L72.2 214.7L71.8 214.6L71.2 213.1L70.8 214.8L70.2 214L69.8 214.9L69.2 215.1L68.8 215.5L68.2 215.1L67.8 214.9L67.2 215.8L66.8 215.9L66.2 215.8L65.8 216L65.2 214.9L64.8 216.1L64.2 216L63.8 216L63.2 216.2L62.8 215L62.2 216.4L61.8 216.3L61.2 216.1L60.8 216.3L60.2 216.4L59.8 215.1L59.2 215.1L58.8 216.3L58.2 216.1L57.8 214.9L57.2 215.9L56.8 215.8L56.2 215L55.8 214.3L55.2 215.2L54.8 214.7L54.2 214.7L53.8 215.2L53.2 215.3L52.8 214.6L52.2 215L51.8 212.3L51.2 214.8L50.8 214.7L50.2 214.4L49.8 214.5L49.2 213.7L48.8 214.2L48.2 213.9L47.8 214L47.2 214L46.8 214L46.2 213.2L45.8 211.8L45.2 213.6L44.8 212.6L44.2 212.7L43.8 212.9L43.2 212.8L42.8 211.4L42.2 211.2L41.8 212.4L41.2 212.3L40.8 212.6L40.2 211.4L39.8 212.4L39.2 212.4L38.8 212.6L38.2 212.5L37.8 212.8L37.2 212.1L36.8 213.2L36.2 213.2L35.8 211.8L35.2 212.8L34.8 213.5L34.2 213.5L33.8 213.3Z" fill="#931530" fill-opacity="0.55" stroke="none"/><path d="M33.8 207.5L34.2 209.6L34.8 208.1L35.2 210.2L35.8 208.3L36.2 206.9L36.8 207.6L37.2 207.5L37.8 207.7L38.2 207.3L38.8 207.3L39.2 206.1L39.8 208.5L40.2 208.6L40.8 208L41.2 208.2L41.8 208.3L42.2 208.6L42.8 205.8L43.2 207.9L43.8 206.8L44.2 209.7L44.8 209.5L45.2 209L45.8 208.4L46.2 208.4L46.8 208.7L47.2 209.5L47.8 206.9L48.2 212.3L48.8 211.3L49.2 210L49.8 212.3L50.2 209.2L50.8 210.1L51.2 211.2L51.8 209.8L52.2 210.3L52.8 208.2L53.2 212.2L53.8 210.6L54.2 212.1L54.8 208.2L55.2 212.7L55.8 210.5L56.2 211L56.8 211.5L57.2 211.7L57.8 210.2L58.2 214.2L58.8 211.8L59.2 208.6L59.8 212.6L60.2 211.6L60.8 211.8L61.2 210.2L61.8 209.3L62.2 211.1L62.8 211.3L63.2 210.4L63.8 211L64.2 210.3L64.8 212.3L65.2 210.2L65.8 211.7L66.2 211.7L66.8 210L67.2 211L67.8 212.6L68.2 212.6L68.8 210.8L69.2 211.2L69.8 209.9L70.2 211.5L70.8 211.6L71.2 210.3L71.8 211.1L72.2 209.8L72.8 210.3L73.2 209.9L73.8 211.9L74.2 209.8L74.8 211.8L75.2 209L75.8 210.5L76.2 211L76.8 211.1L77.2 209.3L77.8 209.4L78.2 209.7L78.8 208.3L79.2 211L79.8 209.3L80.2 209.7L80.8 209.3L81.2 209L81.8 210.3L82.2 210L82.8 209.2L83.2 209.7L83.8 207.4L84.2 207L84.8 209L85.2 208.8L85.8 209L86.2 208.3L86.8 209.2L87.2 209.3L87.8 210.5L88.2 209.8L88.8 210L89.2 208.9L89.8 209.2L90.2 208.3L90.8 209.2L91.2 209.2L91.8 209.8L92.2 209.3L92.8 210.7L93.2 210.7L93.8 210.7L94.2 208.1L94.8 211.8L95.2 209.7L95.8 210.7L96.2 210.5L96.8 210.2L97.2 211.8L97.8 211.7L98.2 211.2L98.8 209.1L99.2 211L99.8 209.1L100.2 210L100.8 209.7L101.2 212.3L101.8 210L102.2 210.7L102.8 211.2L103.2 213.1L103.8 212.8L104.2 211.1L104.8 210.8L105.2 212.1L105.8 212.7L106.2 211.5L106.8 212.3L107.2 213.8L107.8 211.4L108.2 213.2L108.8 210.1L109.2 212L109.8 213.4L110.2 213.5L110.8 213L111.2 213.8L111.8 214.6L112.2 212.1L112.8 212.1L113.2 213.9L113.8 213.1L114.2 214.9L114.8 212.4L115.2 214.1L115.8 214.1L116.2 213.9L116.8 214.4L117.2 212.6L117.8 214.9L118.2 216L118.8 215.3L119.2 216L119.8 215L120.2 215.8L120.8 214.3L121.2 214.1L121.8 212.7L122.2 214.8L122.8 215.1L123.2 216.9L123.8 214.2L124.2 213.8L124.8 214.6L125.2 213.4L125.8 215.9L126.2 214.6L126.8 214.8L127.2 214.2L127.8 211.9L128.2 213.6L128.8 215.3L129.2 212.8L129.8 211.9L130.2 211.8L130.8 214.3L131.2 213.9L131.8 213.8L132.2 212L132.8 213.3L133.2 214.4L133.8 214.2L134.2 215.1L134.8 213L135.2 214.4L135.8 215L136.2 212.9L136.8 212.2L137.2 215.6L137.8 214.1L138.2 215.8L138.8 212.9L139.2 213L139.8 217.2L140.2 213.8L140.8 214.6L141.2 214.4L141.8 214.5L142.2 213.8L142.8 214.8L143.2 214.4L143.8 214.3L144.2 214.5L144.8 213.4L145.2 214L145.8 212.8L146.2 213.5L146.8 214.3L147.2 212.8L147.8 213.5L148.2 216.4L148.8 216.5L149.2 214.9L149.8 214.1L150.2 213.6L150.8 212.5L151.2 211.7L151.8 211.7L152.2 211.4L152.8 211.5L153.2 213.4L153.8 210.7L154.2 211.9L154.8 211.6L155.2 210.2L155.8 210.2L156.2 210.5L156.8 209.3L157.2 209.6L157.8 211.1L158.2 208.6L158.8 210.3L159.2 208.7L159.8 208.7L160.2 207.5L160.8 208.7L161.2 208.7L161.8 209.4L162.2 209.1L162.8 206.2L163.2 207.9L163.8 207.4L164.2 208.3L164.8 208.6L165.2 206.8L165.8 207L166.2 208L166.8 206.6L167.2 206.1L167.8 206.7L168.2 207.9L168.8 206.9L169.2 206.1L169.8 207.1L170.2 206.5L170.8 206.6L171.2 206.6L171.8 206.6L172.2 206L172.8 207.2L173.2 205.9L173.8 206.2L174.2 206.9L174.8 206.8L175.2 207L175.8 208.1L176.2 206.8L176.8 206.9L177.2 206.4L177.8 207.8L178.2 207.4L178.8 207.8L179.2 206.2L179.8 207.6L180.2 207.4L180.8 207.5L181.2 206.3L181.8 206.4L182.2 208.5L182.8 207.6L183.2 208.7L183.8 208.3L184.2 209.4L184.8 207.8L185.2 210.5L185.8 210.3L186.2 208.7L186.8 210.6L187.2 208.2L187.8 211.4L188.2 211.1L188.8 208.5L189.2 210.4L189.8 209.9L190.2 211.4L190.8 211.2L191.2 212.7L191.8 211.9L192.2 213.8L192.8 212.6L193.2 213L193.8 211.7L194.2 212.6L194.8 212.2L195.2 213.7L195.8 215.2L196.2 213.3L196.8 214.2L197.2 214.9L197.8 215.9L198.2 213.7L198.8 216.2L199.2 215L199.8 217.3L200.2 216.4L200.8 214.3L201.2 213.9L201.8 213.7L202.2 214.4L202.8 215.5L203.2 216L203.8 216.5L204.2 214.4L204.8 215.5L205.2 217.4L205.8 215.5L206.2 217.1L206.8 218.3L207.2 214.3L207.8 218.4L208.2 216.9L208.8 216.1L209.2 217.1L209.8 216.6L210.2 217L210.8 214.7L211.2 215.3L211.8 215.2L212.2 212.7L212.8 214.2L213.2 216.2L213.8 216.7L214.2 215L214.8 216L215.2 215.3L215.8 214.5L216.2 215.9L216.8 215.1L217.2 213.4L217.8 217L218.2 213.2L218.8 215.6L219.2 213.7L219.8 215.5L220.2 217L220.8 214.3L221.2 213.9L221.8 216.9L222.2 216.2L222.8 217.4L223.2 216.3L223.8 217L224.2 215.4L224.8 214.4L225.2 219.1L225.8 216L226.2 214.5L226.8 216.6L227.2 215.6L227.8 217.9L228.2 215.6L228.8 216L229.2 215.8L229.8 216.3L230.2 216.8L230.8 217.9L231.2 217.9L231.8 216.4L232.2 212.7L232.8 216.4L233.2 216.9L233.8 213.7L234.2 213.7L234.8 216.1L235.2 215.8L235.8 215.5L236.2 213.9L236.8 212.5L237.2 214.3L237.8 215L238.2 216.6L238.8 215.7L239.2 215.1L239.8 214.9L240.2 212.3L240.8 213.7L241.2 215.7L241.8 213.4L242.2 214.5L242.8 214.4L243.2 212L243.8 213.8L244.2 212L244.8 214.5L245.2 212.9L245.8 211.9L246.2 215.1L246.8 215L247.2 214.1L247.8 213.6L248.2 212.4L248.8 213.2L249.2 212.9L249.8 211.8L250.2 210.7L250.8 212L251.2 213L251.8 211.4L252.2 214.8L252.8 213.4L253.2 211.5L253.8 212L254.2 213.3L254.8 213.1L255.2 211.5L255.8 212.6L256.2 214L256.8 212.9L257.2 211L257.8 213.5L258.2 212.5L258.8 213L259.2 212.2L259.8 210.9L260.2 213.4L260.8 211.5L261.2 211.1L261.8 212.9L262.2 213.4L262.8 214.4L263.2 212L263.8 213.8L264.2 212L264.8 211.1L265.2 213.3L265.8 213.4L266.2 214.4L266.8 212.8L267.2 212.6L267.8 213.2L268.2 212.2L268.8 212.7L269.2 215.1L269.8 213.5L270.2 211.9L270.8 213.6L271.2 213.5L271.8 211.8L272.2 213.1L272.8 213.1L273.2 213.7L273.8 212.9L274.2 212.7L274.8 215.5L275.2 215.1L275.8 213L276.2 214.7L276.8 214.8L277.2 213.3L277.8 213.5L278.2 214.2L278.8 214.3L279.2 213.7L279.8 213.5L280.2 215L280.8 214.1L281.2 215.4L281.8 212.5L282.2 216.1L282.8 215.5L283.2 216.6L283.2 219.7L282.8 219.5L282.2 219L281.8 218.9L281.2 218.3L280.8 217.7L280.2 218.9L279.8 218.8L279.2 218.7L278.8 218.7L278.2 218.4L277.8 218.1L277.2 216.4L276.8 218.1L276.2 218L275.8 216.2L275.2 217.8L274.8 217.3L274.2 217.1L273.8 215.2L273.2 217.3L272.8 217L272.2 215.9L271.8 217.1L271.2 216.5L270.8 216.6L270.2 216.4L269.8 216.7L269.2 216.9L268.8 216.5L268.2 216.4L267.8 216.5L267.2 216.2L266.8 216.2L266.2 216.4L265.8 216.3L265.2 216L264.8 216.3L264.2 215.5L263.8 215.9L263.2 215.9L262.8 216L262.2 216.1L261.8 215.3L261.2 216L260.8 216L260.2 216L259.8 215.7L259.2 215.6L258.8 215.9L258.2 215.2L257.8 216.8L257.2 215.6L256.8 215.5L256.2 215.6L255.8 215.2L255.2 215.6L254.8 215.5L254.2 215.7L253.8 215.8L253.2 215.8L252.8 215.9L252.2 216.3L251.8 215.6L251.2 216.3L250.8 215.7L250.2 216.4L249.8 216.5L249.2 216.1L248.8 215.8L248.2 216.3L247.8 215.8L247.2 215.7L246.8 216.9L246.2 216.9L245.8 216.8L245.2 216.8L244.8 216.6L244.2 216.6L243.8 217.7L243.2 217.5L242.8 217.4L242.2 218L241.8 218L241.2 217L240.8 217.3L240.2 218.6L239.8 218.5L239.2 218.9L238.8 219L238.2 218.2L237.8 219.2L237.2 218.8L236.8 218.9L236.2 219.2L235.8 218.8L235.2 219.3L234.8 220L234.2 219.1L233.8 220.2L233.2 220.4L232.8 220.6L232.2 219L231.8 220.4L231.2 220L230.8 220.8L230.2 220.2L229.8 220.6L229.2 220.9L228.8 221.1L228.2 220.1L227.8 220.3L227.2 219.6L226.8 219.3L226.2 219.8L225.8 220.9L225.2 220.8L224.8 220.7L224.2 219.5L223.8 220.2L223.2 220.7L222.8 220.6L222.2 220.5L221.8 219L221.2 220.2L220.8 219.5L220.2 220.3L219.8 219.4L219.2 220L218.8 219.1L218.2 219.8L217.8 219.8L217.2 218.9L216.8 218.7L216.2 219.5L215.8 218.7L215.2 217.9L214.8 219.6L214.2 219.8L213.8 219.2L213.2 219.9L212.8 217.7L212.2 219.7L211.8 219.4L211.2 220L210.8 219.6L210.2 219.9L209.8 220.2L209.2 219.8L208.8 220.7L208.2 220.6L207.8 220L207.2 218.9L206.8 220.5L206.2 220L205.8 221L205.2 221L204.8 221.1L204.2 219.8L203.8 220.8L203.2 220.7L202.8 221L202.2 220.6L201.8 220.2L201.2 219.5L200.8 219.9L200.2 220.3L199.8 218.9L199.2 219.7L198.8 219.6L198.2 218.4L197.8 221.1L197.2 218.4L196.8 217.8L196.2 218L195.8 218L195.2 217.4L194.8 216.7L194.2 215.3L193.8 216.6L193.2 216.3L192.8 214.6L192.2 215.2L191.8 215.2L191.2 214.7L190.8 214.9L190.2 214.5L189.8 214.3L189.2 213.8L188.8 213.9L188.2 213.8L187.8 213.4L187.2 212.4L186.8 212.7L186.2 212.6L185.8 212.6L185.2 212.2L184.8 212.2L184.2 211.5L183.8 211.5L183.2 211.5L182.8 211L182.2 210.8L181.8 210.6L181.2 210.6L180.8 210.4L180.2 209.9L179.8 210.3L179.2 209.4L178.8 209.9L178.2 209.7L177.8 209.2L177.2 209L176.8 209.6L176.2 209.4L175.8 209.3L175.2 208.9L174.8 209L174.2 208.6L173.8 208.8L173.2 208.5L172.8 208.6L172.2 208.8L171.8 209L171.2 208.9L170.8 209.1L170.2 208.8L169.8 209L169.2 209.4L168.8 209.5L168.2 209.4L167.8 209.2L167.2 209.4L166.8 209.5L166.2 209.8L165.8 210.1L165.2 209.8L164.8 210.3L164.2 210.3L163.8 210.2L163.2 211L162.8 210.9L162.2 210.9L161.8 211.4L161.2 211.6L160.8 211.2L160.2 211.1L159.8 211.5L159.2 211L158.8 212.4L158.2 212.7L157.8 212.8L157.2 213.1L156.8 213.6L156.2 213.9L155.8 213.8L155.2 214.2L154.8 214.7L154.2 214.7L153.8 215.4L153.2 215L152.8 215.2L152.2 216.2L151.8 216.3L151.2 216.2L150.8 216L150.2 217.2L149.8 216.8L149.2 217.5L148.8 217.7L148.2 218L147.8 218.4L147.2 218.8L146.8 219L146.2 218.3L145.8 218.6L145.2 219.5L144.8 219.2L144.2 218.8L143.8 219.5L143.2 219.6L142.8 219.2L142.2 218.5L141.8 219.9L141.2 219.9L140.8 218.2L140.2 219.6L139.8 219.9L139.2 219.5L138.8 219.8L138.2 219.8L137.8 219.5L137.2 219.4L136.8 218.8L136.2 217.9L135.8 218.3L135.2 218.9L134.8 216L134.2 218.4L133.8 218.3L133.2 218.6L132.8 218.1L132.2 218.2L131.8 217.3L131.2 216.3L130.8 217.4L130.2 217.7L129.8 217.9L129.2 217.6L128.8 218.5L128.2 218.5L127.8 218.2L127.2 218.2L126.8 218.5L126.2 218.5L125.8 218.7L125.2 219.1L124.8 218.2L124.2 219.3L123.8 219.2L123.2 218.6L122.8 219.5L122.2 219.6L121.8 217.7L121.2 219.4L120.8 219.3L120.2 218.9L119.8 219.6L119.2 219.6L118.8 219.2L118.2 219.5L117.8 218.9L117.2 219.2L116.8 219.1L116.2 219.1L115.8 219.1L115.2 218.3L114.8 218.5L114.2 218L113.8 218.7L113.2 217.6L112.8 218L112.2 217.3L111.8 217.8L111.2 217L110.8 217.6L110.2 220.9L109.8 217.1L109.2 216.2L108.8 216.6L108.2 216.7L107.8 214.9L107.2 216.6L106.8 215.6L106.2 214.8L105.8 215.3L105.2 215L104.8 215.5L104.2 215.1L103.8 214.8L103.2 214.6L102.8 214.9L102.2 214.7L101.8 214.5L101.2 214.7L100.8 212.1L100.2 213.8L99.8 213.9L99.2 213.3L98.8 213.8L98.2 213.8L97.8 213.7L97.2 213.7L96.8 213.7L96.2 213L95.8 213.3L95.2 211.9L94.8 213.4L94.2 212.9L93.8 212.9L93.2 212.8L92.8 213.1L92.2 212.7L91.8 212.3L91.2 212.5L90.8 212.4L90.2 213L89.8 212.4L89.2 212.5L88.8 212.8L88.2 213L87.8 212.9L87.2 212.1L86.8 212.4L86.2 212.9L85.8 212.1L85.2 212.7L84.8 212.9L84.2 212.2L83.8 212.5L83.2 213.2L82.8 212.9L82.2 213.1L81.8 212.3L81.2 212.2L80.8 212.7L80.2 211.9L79.8 213.2L79.2 213.5L78.8 212.4L78.2 212.8L77.8 213.7L77.2 213.7L76.8 212.9L76.2 213.8L75.8 213.9L75.2 213.4L74.8 213.9L74.2 214.2L73.8 214.4L73.2 214.6L72.8 214L72.2 214.7L71.8 214.6L71.2 213.1L70.8 214.8L70.2 214L69.8 214.9L69.2 215.1L68.8 215.5L68.2 215.1L67.8 214.9L67.2 215.8L66.8 215.9L66.2 215.8L65.8 216L65.2 214.9L64.8 216.1L64.2 216L63.8 216L63.2 216.2L62.8 215L62.2 216.4L61.8 216.3L61.2 216.1L60.8 216.3L60.2 216.4L59.8 215.1L59.2 215.1L58.8 216.3L58.2 216.1L57.8 214.9L57.2 215.9L56.8 215.8L56.2 215L55.8 214.3L55.2 215.2L54.8 214.7L54.2 214.7L53.8 215.2L53.2 215.3L52.8 214.6L52.2 215L51.8 212.3L51.2 214.8L50.8 214.7L50.2 214.4L49.8 214.5L49.2 213.7L48.8 214.2L48.2 213.9L47.8 214L47.2 214L46.8 214L46.2 213.2L45.8 211.8L45.2 213.6L44.8 212.6L44.2 212.7L43.8 212.9L43.2 212.8L42.8 211.4L42.2 211.2L41.8 212.4L41.2 212.3L40.8 212.6L40.2 211.4L39.8 212.4L39.2 212.4L38.8 212.6L38.2 212.5L37.8 212.8L37.2 212.1L36.8 213.2L36.2 213.2L35.8 211.8L35.2 212.8L34.8 213.5L34.2 213.5L33.8 213.3Z" fill="#931530" stroke="#931530" stroke-width="0.5" stroke-linejoin="round"/><path d="M237.3 23.8V221" stroke="#56627e" stroke-width="0.75"/><path d="M119.4 51V78M119.4 122V168M119.4 204V212" stroke="#5a6480" stroke-width="0.65"/><circle cx="237.3" cy="23.8" r="1.5" fill="#111"/><circle cx="119.4" cy="51" r="1.5" fill="#111"/></g><rect x="33.5" y="6.5" width="250" height="215" fill="none" stroke="#8a8a8a" stroke-width="1"/><path d="M33.5 221.5v-2.5M33.5 6.5v2.5" stroke="#777" stroke-width="0.8"/><text x="33.5" y="233.8" font-size="9.4" text-anchor="middle" fill="#262626" font-family='"Liberation Sans", sans-serif' >5</text><path d="M61.3 221.5v-2.5M61.3 6.5v2.5" stroke="#777" stroke-width="0.8"/><text x="61.3" y="233.8" font-size="9.4" text-anchor="middle" fill="#262626" font-family='"Liberation Sans", sans-serif' >10</text><path d="M89.1 221.5v-2.5M89.1 6.5v2.5" stroke="#777" stroke-width="0.8"/><text x="89.1" y="233.8" font-size="9.4" text-anchor="middle" fill="#262626" font-family='"Liberation Sans", sans-serif' >15</text><path d="M116.8 221.5v-2.5M116.8 6.5v2.5" stroke="#777" stroke-width="0.8"/><text x="116.8" y="233.8" font-size="9.4" text-anchor="middle" fill="#262626" font-family='"Liberation Sans", sans-serif' >20</text><path d="M144.6 221.5v-2.5M144.6 6.5v2.5" stroke="#777" stroke-width="0.8"/><text x="144.6" y="233.8" font-size="9.4" text-anchor="middle" fill="#262626" font-family='"Liberation Sans", sans-serif' >25</text><path d="M172.4 221.5v-2.5M172.4 6.5v2.5" stroke="#777" stroke-width="0.8"/><text x="172.4" y="233.8" font-size="9.4" text-anchor="middle" fill="#262626" font-family='"Liberation Sans", sans-serif' >30</text><path d="M200.2 221.5v-2.5M200.2 6.5v2.5" stroke="#777" stroke-width="0.8"/><text x="200.2" y="233.8" font-size="9.4" text-anchor="middle" fill="#262626" font-family='"Liberation Sans", sans-serif' >35</text><path d="M227.9 221.5v-2.5M227.9 6.5v2.5" stroke="#777" stroke-width="0.8"/><text x="227.9" y="233.8" font-size="9.4" text-anchor="middle" fill="#262626" font-family='"Liberation Sans", sans-serif' >40</text><path d="M255.7 221.5v-2.5M255.7 6.5v2.5" stroke="#777" stroke-width="0.8"/><text x="255.7" y="233.8" font-size="9.4" text-anchor="middle" fill="#262626" font-family='"Liberation Sans", sans-serif' >45</text><path d="M283.5 221.5v-2.5M283.5 6.5v2.5" stroke="#777" stroke-width="0.8"/><text x="283.5" y="233.8" font-size="9.4" text-anchor="middle" fill="#262626" font-family='"Liberation Sans", sans-serif' >50</text><path d="M33.5 221.6h2.5M283.5 221.6h-2.5" stroke="#777" stroke-width="0.7"/><path d="M33.5 210.2h1.3M283.5 210.2h-1.3" stroke="#777" stroke-width="0.7"/><path d="M33.5 198.8h1.3M283.5 198.8h-1.3" stroke="#777" stroke-width="0.7"/><path d="M33.5 187.3h1.3M283.5 187.3h-1.3" stroke="#777" stroke-width="0.7"/><path d="M33.5 175.9h1.3M283.5 175.9h-1.3" stroke="#777" stroke-width="0.7"/><path d="M33.5 164.5h2.5M283.5 164.5h-2.5" stroke="#777" stroke-width="0.7"/><path d="M33.5 153.1h1.3M283.5 153.1h-1.3" stroke="#777" stroke-width="0.7"/><path d="M33.5 141.7h1.3M283.5 141.7h-1.3" stroke="#777" stroke-width="0.7"/><path d="M33.5 130.2h1.3M283.5 130.2h-1.3" stroke="#777" stroke-width="0.7"/><path d="M33.5 118.8h1.3M283.5 118.8h-1.3" stroke="#777" stroke-width="0.7"/><path d="M33.5 107.4h2.5M283.5 107.4h-2.5" stroke="#777" stroke-width="0.7"/><path d="M33.5 96h1.3M283.5 96h-1.3" stroke="#777" stroke-width="0.7"/><path d="M33.5 84.6h1.3M283.5 84.6h-1.3" stroke="#777" stroke-width="0.7"/><path d="M33.5 73.1h1.3M283.5 73.1h-1.3" stroke="#777" stroke-width="0.7"/><path d="M33.5 61.7h1.3M283.5 61.7h-1.3" stroke="#777" stroke-width="0.7"/><path d="M33.5 50.3h2.5M283.5 50.3h-2.5" stroke="#777" stroke-width="0.7"/><path d="M33.5 38.9h1.3M283.5 38.9h-1.3" stroke="#777" stroke-width="0.7"/><path d="M33.5 27.5h1.3M283.5 27.5h-1.3" stroke="#777" stroke-width="0.7"/><path d="M33.5 16h1.3M283.5 16h-1.3" stroke="#777" stroke-width="0.7"/><text x="31.2" y="227.2" font-size="9.4" text-anchor="end" fill="#262626" font-family='"Liberation Sans", sans-serif'>10<tspan font-size="6.4" dy="-5.2">0</tspan></text><text x="31.2" y="170.1" font-size="9.4" text-anchor="end" fill="#262626" font-family='"Liberation Sans", sans-serif'>10<tspan font-size="6.4" dy="-5.2">5</tspan></text><text x="31.2" y="113" font-size="9.4" text-anchor="end" fill="#262626" font-family='"Liberation Sans", sans-serif'>10<tspan font-size="6.4" dy="-5.2">10</tspan></text><text x="31.2" y="55.9" font-size="9.4" text-anchor="end" fill="#262626" font-family='"Liberation Sans", sans-serif'>10<tspan font-size="6.4" dy="-5.2">15</tspan></text><text x="158.5" y="246.8" font-size="10.3" text-anchor="middle" fill="#262626" font-family='"Liberation Sans", sans-serif' >2θ (°)</text><text transform="translate(9.6,112.9) rotate(-90)" font-size="10.4" text-anchor="middle" fill="#262626" font-family='"Liberation Sans", sans-serif'>Intensity (arb. units)</text><rect x="34.5" y="9" width="247" height="9" fill="#fff" stroke="#9a9a9a" stroke-width="0.8"/><path d="M36.9 13.3H47.5" stroke="#2f6fc0" stroke-width="0.6" stroke-opacity="0.6"/><text x="49" y="15.7" font-size="6.4" text-anchor="start" fill="#222" font-family='"Liberation Sans", sans-serif' >10.2 nm</text><path d="M74.4 13.3H85" stroke="#d4541b" stroke-width="0.6" stroke-opacity="0.6"/><text x="86.5" y="15.7" font-size="6.4" text-anchor="start" fill="#222" font-family='"Liberation Sans", sans-serif' >8.0 nm</text><path d="M109.9 13.3H120.3" stroke="#e3b02a" stroke-width="0.6" stroke-opacity="0.6"/><text x="122" y="15.7" font-size="6.4" text-anchor="start" fill="#222" font-family='"Liberation Sans", sans-serif' >5.4 nm</text><path d="M143.6 13.3H155.2" stroke="#7a2e8c" stroke-width="0.6" stroke-opacity="0.6"/><text x="156.6" y="15.7" font-size="6.4" text-anchor="start" fill="#222" font-family='"Liberation Sans", sans-serif' >4.1 nm</text><path d="M179 13.3H189.8" stroke="#7bae35" stroke-width="0.6" stroke-opacity="0.6"/><text x="191.2" y="15.7" font-size="6.4" text-anchor="start" fill="#222" font-family='"Liberation Sans", sans-serif' >3.2 nm</text><path d="M214.2 13.3H225" stroke="#5ab7ea" stroke-width="0.6" stroke-opacity="0.6"/><text x="226.5" y="15.7" font-size="6.4" text-anchor="start" fill="#222" font-family='"Liberation Sans", sans-serif' >2.0 nm</text><path d="M248.8 13.3H260.4" stroke="#931530" stroke-width="0.6" stroke-opacity="0.6"/><text x="261" y="15.7" font-size="6.4" text-anchor="start" fill="#222" font-family='"Liberation Sans", sans-serif' >1.6 nm</text><path d="M334.5 208.2L334.8 198.9L335 199.8L335.3 211.8L335.5 210.3L335.8 211.8L336.1 204.2L336.3 208.4L336.6 202.8L336.9 220.7L337.1 197.1L337.4 208.5L337.6 203.1L337.9 208.7L338.2 210.3L338.4 204.4L338.7 201.9L338.9 208.9L339.2 208.5L339.5 202.7L339.7 213.4L340 217.8L340.3 204.5L340.5 211.8L340.8 220.4L341 212.7L341.3 210.2L341.6 215.2L341.8 217.2L342.1 206.6L342.4 200.6L342.6 208.3L342.9 211.8L343.1 203.9L343.4 201.6L343.7 208.5L343.9 202.6L344.2 199.1L344.4 207.7L344.7 211.8L345 203.7L345.2 204.4L345.5 198.4L345.8 214.8L346 210.4L346.3 211.6L346.5 217.7L346.8 204.8L347.1 202L347.3 210.6L347.6 195.9L347.8 199.7L348.1 201L348.4 202.5L348.6 198.6L348.9 214.2L349.2 200.8L349.4 200.8L349.7 217L349.9 202.4L350.2 206.4L350.5 199.3L350.7 207.6L351 204.6L351.2 202.1L351.5 210.3L351.8 200.2L352 204.9L352.3 200.7L352.6 207.6L352.8 196.5L353.1 199.7L353.3 205L353.6 199.4L353.9 195L354.1 191.3L354.4 214.2L354.6 197.3L354.9 200.1L355.2 203.8L355.4 210L355.7 194.4L356 211.5L356.2 199L356.5 193.9L356.7 213.5L357 204.6L357.3 211.4L357.5 200.7L357.8 192L358.1 188.4L358.3 214.2L358.6 205.9L358.8 197.1L359.1 191.1L359.4 198.8L359.6 206.7L359.9 199.5L360.1 201.5L360.4 202.7L360.7 206.2L360.9 198.5L361.2 198.9L361.5 201.5L361.7 202.3L362 209.3L362.2 203.8L362.5 192.3L362.8 201.6L363 209.9L363.3 191.1L363.5 196.4L363.8 185.7L364.1 199.3L364.3 202.8L364.6 209.3L364.9 190.5L365.1 182L365.4 204.7L365.6 203.4L365.9 194.9L366.2 204.4L366.4 200.5L366.7 200.9L366.9 197.2L367.2 191L367.5 198.1L367.7 191.9L368 200.8L368.3 195.6L368.5 212L368.8 207.2L369 192.1L369.3 201.2L369.6 193.3L369.8 193.4L370.1 188.1L370.3 191.3L370.6 189.8L370.9 197.2L371.1 200.9L371.4 201L371.7 199.3L371.9 203.4L372.2 199.3L372.4 196.2L372.7 193.8L373 197.5L373.2 207.8L373.5 195.4L373.8 193.3L374 187.5L374.3 190.7L374.5 198.6L374.8 198.9L375.1 180.8L375.3 188.9L375.6 181.7L375.8 179.6L376.1 198.7L376.4 190.6L376.6 190L376.9 189.2L377.2 189.1L377.4 191.1L377.7 191.2L377.9 201.9L378.2 193L378.5 196.6L378.7 190.7L379 194.4L379.2 187.2L379.5 185.7L379.8 188.8L380 188.6L380.3 189.8L380.6 193.1L380.8 191.1L381.1 193L381.3 187.1L381.6 189.3L381.9 185.5L382.1 197.4L382.4 183.1L382.6 193.4L382.9 193L383.2 189.3L383.4 191.4L383.7 185.8L384 191L384.2 193.9L384.5 192.3L384.7 178.5L385 186.2L385.3 193.5L385.5 186L385.8 195.4L386 174.4L386.3 194.7L386.6 182.1L386.8 181.4L387.1 193.4L387.4 182.4L387.6 177.9L387.9 180.9L388.1 181.9L388.4 177.4L388.7 181.9L388.9 180.6L389.2 183.1L389.4 178.3L389.7 187.4L390 176.8L390.2 184.2L390.5 187.4L390.8 178.4L391 170.3L391.3 174.3L391.5 182.7L391.8 175.3L392.1 181.7L392.3 179.4L392.6 177.9L392.9 191.4L393.1 176.6L393.4 183.3L393.6 181L393.9 185L394.2 184.9L394.4 181.3L394.7 171L394.9 166L395.2 175L395.5 168.5L395.7 175.5L396 184.1L396.3 172.5L396.5 170.5L396.8 174.8L397 170.5L397.3 168.6L397.6 175.8L397.8 178.5L398.1 171.5L398.3 171L398.6 171.3L398.9 164L399.1 159.8L399.4 170.1L399.7 164.1L399.9 162.4L400.2 163.1L400.4 161L400.7 167.4L401 161.5L401.2 154.9L401.5 160.1L401.7 166.2L402 160L402.3 156.4L402.5 159.9L402.8 163.4L403.1 153.6L403.3 164.9L403.6 156.8L403.8 158.3L404.1 162.4L404.4 151.8L404.6 154.6L404.9 159.7L405.1 152.1L405.4 155.1L405.7 159.6L405.9 154.2L406.2 149.8L406.5 147.5L406.7 148.1L407 147.4L407.2 144.9L407.5 145.8M418.5 144.8L418.8 148.8L419 146.9L419.3 139.9L419.5 145.4L419.8 160.5L420.1 152.2L420.3 155.8L420.6 151.2L420.9 155L421.1 147.7L421.4 152.3L421.6 153.2L421.9 156.7L422.2 158.4L422.4 157.5L422.7 154L422.9 157.9L423.2 162.4L423.5 155.8L423.7 161.3L424 163.1L424.3 167L424.5 166.5L424.8 167.4L425 178.3L425.3 160.7L425.6 163.3L425.8 167.6L426.1 161.9L426.3 165.4L426.6 166.2L426.9 181L427.1 170.2L427.4 166.7L427.7 161.6L427.9 160.8L428.2 163.3L428.4 177.4L428.7 183.3L429 169L429.2 172.4L429.5 167.7L429.7 174L430 172.5L430.3 182.3L430.5 172L430.8 177.3L431.1 173.3L431.3 173L431.6 176.6L431.8 174.5L432.1 176.8L432.4 172.7L432.6 174.5L432.9 180.9L433.1 181.4L433.4 168.3L433.7 179.3L433.9 173.3L434.2 177.1L434.5 183L434.7 184.4L435 179.6L435.2 179.1L435.5 177.2L435.8 188.7L436 185L436.3 182.3L436.6 172.4L436.8 196.6L437.1 180L437.3 186.2L437.6 180.6L437.9 186.5L438.1 181.5L438.4 174.4L438.6 182.1L438.9 181.8L439.2 182.5L439.4 189.7L439.7 181.9L440 186.8L440.2 190.8L440.5 186.3L440.7 187.7L441 181.8L441.3 187L441.5 190.3L441.8 178L442 181.2L442.3 179.6L442.6 184L442.8 188.8L443.1 191L443.4 190.3L443.6 182.7L443.9 188.3L444.1 198.6L444.4 189.6L444.7 198.6L444.9 188.7L445.2 197.7L445.4 198.3L445.7 189.6L446 191.1L446.2 201.5L446.5 186.2L446.8 177.2L447 200.9L447.3 179.8L447.5 196.2L447.8 195.1L448.1 193.3L448.3 201.7L448.6 184L448.8 189.4L449.1 197.7L449.4 194.8L449.6 203.1L449.9 195.6L450.2 187.4L450.4 204.9L450.7 196.7L450.9 193L451.2 187.3L451.5 185.5L451.7 197.5L452 199.5L452.2 191.8L452.5 197.4L452.8 197.2L453 188.1L453.3 184.2L453.6 193.8L453.8 197L454.1 192.1L454.3 208.5L454.6 196.3L454.9 203.4L455.1 180.6L455.4 191.8L455.7 195.8L455.9 198.2L456.2 213.8L456.4 192.4L456.7 186.4L457 202.3L457.2 193L457.5 192.9L457.7 208.2L458 191.7L458.3 189L458.5 196.7L458.8 198.7L459.1 193.2L459.3 208.9L459.6 198.1L459.8 191.7L460.1 207.3L460.4 192.4L460.6 202L460.9 213.3L461.1 200.1L461.4 206.1L461.7 197.5L461.9 207.7L462.2 192.8L462.5 205L462.7 197.7L463 204.2L463.2 202.5L463.5 192.4L463.8 199.1L464 203.3L464.3 209.2L464.5 193L464.8 196L465.1 203.3L465.3 199.5L465.6 208.3L465.9 208.3L466.1 207.1L466.4 199.2L466.6 199.7L466.9 206.8L467.2 196.9L467.4 196.6L467.7 200.9L467.9 195.1L468.2 204.2L468.5 203.1L468.7 199.2L469 202.8L469.3 197.2L469.5 211.3L469.8 193.1L470 208.2L470.3 204.1L470.6 212.5L470.8 199.1L471.1 194.6L471.4 196L471.6 197.7L471.9 214.2L472.1 208.9L472.4 206.8L472.7 210.2L472.9 196.2L473.2 202.7L473.4 204.2L473.7 200.8L474 210.7L474.2 210.5L474.5 210.4L474.8 201L475 202.1L475.3 200.6L475.5 197.2L475.8 214L476.1 208.6L476.3 203.9L476.6 214.2L476.8 208.7L477.1 198.1L477.4 197.6L477.6 197.8L477.9 205L478.2 206.8L478.4 198L478.7 208.1L478.9 203.3L479.2 196.5L479.5 208.3L479.7 210L480 205.9L480.2 201.8L480.5 202.7L480.8 205L481 202.3L481.3 217.2L481.6 212.2L481.8 205.2L482.1 212.8L482.3 215.7L482.6 214.8L482.9 212.9L483.1 207.9L483.4 213.8L483.6 205.1L483.9 195.1L484.2 207.9L484.4 198.1L484.7 205L485 214.8L485.2 208.9L485.5 214L485.7 201.9L486 215.3L486.3 198.2L486.5 203.4L486.8 221.4L487.1 202.1L487.3 196.8L487.6 213.1L487.8 200.9L488.1 220.2L488.4 206.1L488.6 219.3L488.9 204.6L489.1 220.3L489.4 222.2L489.7 205.3L489.9 192.3L490.2 212.3L490.5 202.5L490.7 207.5L491 210.6L491.2 204.1L491.5 197" fill="none" stroke="#5588d2" stroke-width="0.55" stroke-linejoin="round"/><path d="M334.5 200L334.8 180.6L335.1 182.9L335.4 202L335.7 169.2L336 165.6L336.3 196.8L336.6 167.8L336.9 185.9L337.2 188.3L337.6 191.7L337.9 184L338.2 183L338.5 170.1L338.8 172.6L339.1 176.8L339.4 201.5L339.7 203.3L340 174.2L340.3 196.3L340.6 184.7L340.9 197.8L341.2 188.2L341.5 200L341.8 180.4L342.1 197.2L342.4 187.5L342.7 188.2L343 173.1L343.4 201.4L343.7 194.8L344 188.3L344.3 180.3L344.6 180.9L344.9 191L345.2 183.4L345.5 190L345.8 180.9L346.1 187L346.4 192.9L346.7 186.1L347 189.2L347.3 161.4L347.6 191L347.9 204.2L348.2 170L348.5 208L348.8 204.4L349.2 198.4L349.5 186.8L349.8 159.3L350.1 181.3L350.4 172.5L350.7 187.9L351 211.9L351.3 210.3L351.6 174.4L351.9 183.4L352.2 199.3L352.5 173.3L352.8 201.8L353.1 173L353.4 169.6L353.7 193.4L354 197L354.3 176L354.6 196.8L355 175.8L355.3 197.8L355.6 201L355.9 183.9L356.2 189.5L356.5 194.5L356.8 182.2L357.1 205.1L357.4 187.7L357.7 188.9L358 177.4L358.3 198.1L358.6 166.2L358.9 187.9L359.2 196.7L359.5 169.6L359.8 166.5L360.1 186.4L360.4 193.9L360.8 184.1L361.1 191.6L361.4 187.5L361.7 167.4L362 179.9L362.3 182.5L362.6 180.3L362.9 184.6L363.2 174.9L363.5 174.4L363.8 187.8L364.1 182.6L364.4 157.8L364.7 179.1L365 185.6L365.3 161.6L365.6 183.4L365.9 195.2L366.2 176.2L366.6 193L366.9 188.6L367.2 179.7L367.5 184.5L367.8 191.3L368.1 189L368.4 189.4L368.7 170.5L369 190.6L369.3 189L369.6 160.9L369.9 188.6L370.2 181.1L370.5 168.5L370.8 184.1L371.1 197.6L371.4 177.5L371.7 175.1L372 171.9L372.4 181.4L372.7 169.2L373 167.2L373.3 193.2L373.6 166.6L373.9 180L374.2 187.8L374.5 185.1L374.8 161.6L375.1 171L375.4 200.5L375.7 180.5L376 182.8L376.3 183.1L376.6 186.6L376.9 208.8L377.2 171.8L377.5 190.9L377.8 184.7L378.2 187.1L378.5 188.4L378.8 172.6L379.1 176.4L379.4 187.5L379.7 190.3L380 185.2L380.3 169.8L380.6 178.7L380.9 177.4L381.2 183.3L381.5 182.4L381.8 177.3L382.1 208.4L382.4 162.3L382.7 200.2L383 185.2L383.3 164.9L383.6 176.6L384 178.4L384.3 185L384.6 195.2L384.9 176.6L385.2 165.8L385.5 187.8L385.8 163.8L386.1 190L386.4 185.7L386.7 172.6L387 177.8L387.3 170.4L387.6 201.9L387.9 188.3L388.2 196.9L388.5 189.8L388.8 188.3L389.1 191.9L389.4 173.5L389.8 192L390.1 197.3L390.4 150.4L390.7 185L391 189.2L391.3 163.1L391.6 163.7L391.9 187.7L392.2 190.9L392.5 185.8L392.8 163.6L393.1 178.4L393.4 183.4L393.7 175.1L394 162.3L394.3 208.3L394.6 178.3L394.9 188.5L395.3 151.8L395.6 155.3L395.9 164.1L396.2 175L396.5 166.7L396.8 194.6L397.1 170.3L397.4 186.5L397.7 186.2L398 179.7L398.3 176L398.6 166.5L398.9 165.1L399.2 169.3L399.5 181.1L399.8 164.9L400.1 172.5L400.4 159.6L400.7 179.9L401.1 197.5L401.4 175.1L401.7 149.6L402 165.6L402.3 171.7L402.6 161.3L402.9 164.6L403.2 164.8L403.5 173.5L403.8 167.8L404.1 166.4L404.4 173.6L404.7 177.4L405 171.5L405.3 158.4L405.6 160.8L405.9 161.7L406.2 161.1L406.5 144L406.9 162L407.2 155.3L407.5 148L407.8 161.2L408.1 158.7L408.4 152.3L408.7 147.1L409 159.7L409.3 152.2L409.6 151.5L409.9 155.3M416.3 151.7L416.6 152.3L416.9 157.2L417.2 143.9L417.5 163.2L417.8 158.4L418.1 159.2L418.5 157.7L418.8 159.6L419.1 160.4L419.4 166L419.7 177.2L420 165.5L420.3 176.4L420.6 164.5L420.9 177.2L421.2 175.7L421.5 168.2L421.8 155.4L422.1 173L422.4 165.9L422.7 155.9L423 178L423.3 189.1L423.6 180.6L423.9 191.9L424.3 165.2L424.6 149.7L424.9 183.4L425.2 146.6L425.5 155.7L425.8 162.9L426.1 167.7L426.4 147.5L426.7 170.9L427 176.6L427.3 170.7L427.6 186L427.9 167.7L428.2 173.7L428.5 169.4L428.8 169.3L429.1 183.9L429.4 159.9L429.7 183.8L430.1 164.5L430.4 190L430.7 170.1L431 182.5L431.3 173.8L431.6 181.1L431.9 197L432.2 186.2L432.5 174.1L432.8 168.5L433.1 190.3L433.4 197.3L433.7 184.4L434 194.3L434.3 182.2L434.6 184.2L434.9 167L435.2 166L435.5 168.4L435.9 186.1L436.2 175.6L436.5 178.6L436.8 191.7L437.1 167.6L437.4 176L437.7 196.6L438 162.3L438.3 169.3L438.6 168.4L438.9 164.9L439.2 170.1L439.5 191.2L439.8 182L440.1 167.4L440.4 186.3L440.7 177.9L441 174.2L441.3 163.2L441.7 164.9L442 169.2L442.3 180.8L442.6 169.2L442.9 173.4L443.2 180.9L443.5 164.8L443.8 184.6L444.1 187.5L444.4 166.1L444.7 182.4L445 173.4L445.3 196L445.6 180.1L445.9 190.1L446.2 190.5L446.5 200.5L446.8 157.5L447.1 182L447.5 178L447.8 168.8L448.1 182L448.4 175.3L448.7 195.3L449 178.8L449.3 185.4L449.6 175.8L449.9 179.2L450.2 206.5L450.5 201.1L450.8 192.2L451.1 173.6L451.4 177L451.7 177.3L452 203.3L452.3 210.5L452.6 188.5L452.9 185.5L453.3 188.5L453.6 178.3L453.9 184L454.2 194.9L454.5 191.7L454.8 180.8L455.1 181.7L455.4 183.3L455.7 158.3L456 185.5L456.3 189.9L456.6 193.4L456.9 186.7L457.2 177.3L457.5 176.9L457.8 184.7L458.1 178.9L458.4 182.6L458.7 203.4L459.1 218.4L459.4 158.6L459.7 174.5L460 198.6L460.3 202.1L460.6 197.2L460.9 169.1L461.2 213.5L461.5 187.2L461.8 174.4L462.1 182.3L462.4 175.8L462.7 185.3L463 158.3L463.3 195L463.6 198.7L463.9 181.1L464.2 168.8L464.5 184.8L464.9 173L465.2 190L465.5 197L465.8 169.3L466.1 167.5L466.4 168L466.7 189.2L467 196.9L467.3 197.1L467.6 187L467.9 178.4L468.2 179.2L468.5 200.1L468.8 182.7L469.1 184.6L469.4 183.9L469.7 185.1L470 187.1L470.3 178.6L470.7 183.6L471 182.6L471.3 192.5L471.6 205.6L471.9 186.4L472.2 207.9L472.5 180L472.8 188.1L473.1 175.3L473.4 187L473.7 186.3L474 183.1L474.3 185.5L474.6 205.6L474.9 204.7L475.2 165.6L475.5 202.5L475.8 189.2L476.1 178.5L476.5 181.5L476.8 179.5L477.1 177.4L477.4 181.7L477.7 182.5L478 154.5L478.3 196.6L478.6 183.3L478.9 189.7L479.2 191.7L479.5 182.8L479.8 170.2L480.1 193.5L480.4 193.6L480.7 178.2L481 180.1L481.3 164.9L481.6 175L481.9 183.6L482.3 189.6L482.6 200.8L482.9 188L483.2 200.8L483.5 186.1L483.8 188.1L484.1 188.7L484.4 190.9L484.7 168.1L485 178.8L485.3 176.2L485.6 192.9L485.9 197.4L486.2 189.4L486.5 183.8L486.8 190.1L487.1 188.4L487.4 176.1L487.7 183.2L488.1 197.1L488.4 191.1L488.7 211.4L489 184.6L489.3 199.1L489.6 188.5L489.9 179.1L490.2 186.3L490.5 196.5L490.8 193.3L491.1 185.3L491.4 181.5" fill="none" stroke="#d9773f" stroke-width="0.7" stroke-linejoin="round"/><path d="M407.8 155.7L407.9 155.5L407.9 155.2L408 155L408.1 154.7L408.2 154.5L408.3 154.2L408.4 153.9L408.4 153.6L408.5 153.3L408.6 152.9L408.7 152.6L408.8 152.2L408.9 151.8L408.9 151.4L409 151L409.1 150.6L409.2 150.1L409.3 149.6L409.4 149.1L409.5 148.6L409.5 148L409.6 147.4L409.7 146.8L409.8 146.1L409.9 145.4L410 144.7L410 143.9L410.1 143L410.2 142.2L410.3 141.2L410.4 140.2L410.5 139.1L410.5 138L410.6 136.8L410.7 135.5L410.8 134.1L410.9 132.7L411 131.1L411.1 129.4L411.1 127.6L411.2 125.6L411.3 123.5L411.4 121.2L411.5 118.8L411.6 116.1L411.6 113.2L411.7 110.1L411.8 106.7L411.9 102.9L412 98.8L412.1 94.3L412.1 89.4L412.2 83.9L412.3 77.7L412.4 70.8L412.5 63.1L412.6 54.3L412.7 44.5L412.7 33.6L412.7 33.6L412.8 31.2L412.8 28.9L412.8 26.5L412.8 24.1L412.8 21.8L412.8 19.5L412.9 17.4L412.9 15.3L412.9 13.4L412.9 11.7L412.9 10.2L412.9 9.5L413 9.5L413 9.5L413 9.5L413 9.5L413 9.5L413.1 9.5L413.1 10.2L413.1 11.7L413.1 13.4L413.1 15.3L413.1 17.4L413.2 19.5L413.2 21.8L413.2 24.1L413.2 26.5L413.2 28.9L413.2 31.2L413.3 33.6L413.3 33.6L413.3 44.5L413.4 54.3L413.5 63.1L413.6 70.8L413.7 77.7L413.8 83.9L413.9 89.4L413.9 94.3L414 98.8L414.1 102.9L414.2 106.7L414.3 110.1L414.4 113.2L414.4 116.1L414.5 118.8L414.6 121.2L414.7 123.5L414.8 125.6L414.9 127.6L414.9 129.4L415 131.1L415.1 132.7L415.2 134.1L415.3 135.5L415.4 136.8L415.5 138L415.5 139.1L415.6 140.2L415.7 141.2L415.8 142.2L415.9 143L416 143.9L416 144.7L416.1 145.4L416.2 146.1L416.3 146.8L416.4 147.4L416.5 148L416.5 148.6L416.6 149.1L416.7 149.6L416.8 150.1L416.9 150.6L417 151L417.1 151.4L417.1 151.8L417.2 152.2L417.3 152.6L417.4 152.9L417.5 153.3L417.6 153.6L417.6 153.9L417.7 154.2L417.8 154.5L417.9 154.7L418 155L418.1 155.2L418.1 155.5L418.2 155.7" fill="none" stroke="#a0a0a4" stroke-width="0.85"/><path d="M413 9.5V23" stroke="#6f9fdc" stroke-width="0.9"/><path d="M334.5 6.5H491.5" stroke="#8a8a8a" stroke-width="1"/><path d="M334.5 222.2H491.5" stroke="#8a8a8a" stroke-width="1"/><path d="M334.5 6.5V222" stroke="#a9bbdc" stroke-width="1"/><path d="M491.5 6.5V222" stroke="#dbb49c" stroke-width="1"/><path d="M369.4 222v-2M369.4 6.5v2" stroke="#777" stroke-width="0.8"/><text x="369.4" y="233.6" font-size="8.8" text-anchor="middle" fill="#262626" font-family='"Liberation Sans", sans-serif' >-500</text><path d="M413 222v-2M413 6.5v2" stroke="#777" stroke-width="0.8"/><text x="413" y="233.6" font-size="8.8" text-anchor="middle" fill="#262626" font-family='"Liberation Sans", sans-serif' >0</text><path d="M456.6 222v-2M456.6 6.5v2" stroke="#777" stroke-width="0.8"/><text x="456.6" y="233.6" font-size="8.8" text-anchor="middle" fill="#262626" font-family='"Liberation Sans", sans-serif' >500</text><text x="413" y="245.3" font-size="8.8" text-anchor="middle" fill="#262626" font-family='"Liberation Sans", sans-serif' >ω (arc sec)</text><path d="M334.5 222.2h2" stroke="#4a72b8" stroke-width="0.7"/><path d="M334.5 211.4h1.1" stroke="#9fb8e0" stroke-width="0.5"/><path d="M334.5 205h1.1" stroke="#9fb8e0" stroke-width="0.5"/><path d="M334.5 200.5h1.1" stroke="#9fb8e0" stroke-width="0.5"/><path d="M334.5 197h1.1" stroke="#9fb8e0" stroke-width="0.5"/><path d="M334.5 194.2h1.1" stroke="#9fb8e0" stroke-width="0.5"/><path d="M334.5 191.8h1.1" stroke="#9fb8e0" stroke-width="0.5"/><path d="M334.5 189.7h1.1" stroke="#9fb8e0" stroke-width="0.5"/><path d="M334.5 187.8h1.1" stroke="#9fb8e0" stroke-width="0.5"/><text x="332.6" y="226.7" font-size="8.8" text-anchor="end" fill="#4a72b8" font-family='"Liberation Sans", sans-serif'>10<tspan font-size="6.3" dy="-4.6">0</tspan></text><path d="M334.5 186.2h2" stroke="#4a72b8" stroke-width="0.7"/><path d="M334.5 175.4h1.1" stroke="#9fb8e0" stroke-width="0.5"/><path d="M334.5 169h1.1" stroke="#9fb8e0" stroke-width="0.5"/><path d="M334.5 164.5h1.1" stroke="#9fb8e0" stroke-width="0.5"/><path d="M334.5 161h1.1" stroke="#9fb8e0" stroke-width="0.5"/><path d="M334.5 158.2h1.1" stroke="#9fb8e0" stroke-width="0.5"/><path d="M334.5 155.8h1.1" stroke="#9fb8e0" stroke-width="0.5"/><path d="M334.5 153.7h1.1" stroke="#9fb8e0" stroke-width="0.5"/><path d="M334.5 151.8h1.1" stroke="#9fb8e0" stroke-width="0.5"/><text x="332.6" y="190.7" font-size="8.8" text-anchor="end" fill="#4a72b8" font-family='"Liberation Sans", sans-serif'>10<tspan font-size="6.3" dy="-4.6">1</tspan></text><path d="M334.5 150.2h2" stroke="#4a72b8" stroke-width="0.7"/><path d="M334.5 139.4h1.1" stroke="#9fb8e0" stroke-width="0.5"/><path d="M334.5 133h1.1" stroke="#9fb8e0" stroke-width="0.5"/><path d="M334.5 128.5h1.1" stroke="#9fb8e0" stroke-width="0.5"/><path d="M334.5 125h1.1" stroke="#9fb8e0" stroke-width="0.5"/><path d="M334.5 122.2h1.1" stroke="#9fb8e0" stroke-width="0.5"/><path d="M334.5 119.8h1.1" stroke="#9fb8e0" stroke-width="0.5"/><path d="M334.5 117.7h1.1" stroke="#9fb8e0" stroke-width="0.5"/><path d="M334.5 115.8h1.1" stroke="#9fb8e0" stroke-width="0.5"/><text x="332.6" y="154.7" font-size="8.8" text-anchor="end" fill="#4a72b8" font-family='"Liberation Sans", sans-serif'>10<tspan font-size="6.3" dy="-4.6">2</tspan></text><path d="M334.5 114.2h2" stroke="#4a72b8" stroke-width="0.7"/><path d="M334.5 103.4h1.1" stroke="#9fb8e0" stroke-width="0.5"/><path d="M334.5 97h1.1" stroke="#9fb8e0" stroke-width="0.5"/><path d="M334.5 92.5h1.1" stroke="#9fb8e0" stroke-width="0.5"/><path d="M334.5 89h1.1" stroke="#9fb8e0" stroke-width="0.5"/><path d="M334.5 86.2h1.1" stroke="#9fb8e0" stroke-width="0.5"/><path d="M334.5 83.8h1.1" stroke="#9fb8e0" stroke-width="0.5"/><path d="M334.5 81.7h1.1" stroke="#9fb8e0" stroke-width="0.5"/><path d="M334.5 79.8h1.1" stroke="#9fb8e0" stroke-width="0.5"/><text x="332.6" y="118.7" font-size="8.8" text-anchor="end" fill="#4a72b8" font-family='"Liberation Sans", sans-serif'>10<tspan font-size="6.3" dy="-4.6">3</tspan></text><path d="M334.5 78.2h2" stroke="#4a72b8" stroke-width="0.7"/><path d="M334.5 67.4h1.1" stroke="#9fb8e0" stroke-width="0.5"/><path d="M334.5 61h1.1" stroke="#9fb8e0" stroke-width="0.5"/><path d="M334.5 56.5h1.1" stroke="#9fb8e0" stroke-width="0.5"/><path d="M334.5 53h1.1" stroke="#9fb8e0" stroke-width="0.5"/><path d="M334.5 50.2h1.1" stroke="#9fb8e0" stroke-width="0.5"/><path d="M334.5 47.8h1.1" stroke="#9fb8e0" stroke-width="0.5"/><path d="M334.5 45.7h1.1" stroke="#9fb8e0" stroke-width="0.5"/><path d="M334.5 43.8h1.1" stroke="#9fb8e0" stroke-width="0.5"/><text x="332.6" y="82.7" font-size="8.8" text-anchor="end" fill="#4a72b8" font-family='"Liberation Sans", sans-serif'>10<tspan font-size="6.3" dy="-4.6">4</tspan></text><path d="M334.5 42.2h2" stroke="#4a72b8" stroke-width="0.7"/><path d="M334.5 31.4h1.1" stroke="#9fb8e0" stroke-width="0.5"/><path d="M334.5 25h1.1" stroke="#9fb8e0" stroke-width="0.5"/><path d="M334.5 20.5h1.1" stroke="#9fb8e0" stroke-width="0.5"/><path d="M334.5 17h1.1" stroke="#9fb8e0" stroke-width="0.5"/><path d="M334.5 14.2h1.1" stroke="#9fb8e0" stroke-width="0.5"/><path d="M334.5 11.8h1.1" stroke="#9fb8e0" stroke-width="0.5"/><path d="M334.5 9.7h1.1" stroke="#9fb8e0" stroke-width="0.5"/><path d="M334.5 7.8h1.1" stroke="#9fb8e0" stroke-width="0.5"/><text x="332.6" y="46.7" font-size="8.8" text-anchor="end" fill="#4a72b8" font-family='"Liberation Sans", sans-serif'>10<tspan font-size="6.3" dy="-4.6">5</tspan></text><path d="M334.5 6.2h2" stroke="#4a72b8" stroke-width="0.7"/><text x="332.6" y="10.7" font-size="8.8" text-anchor="end" fill="#4a72b8" font-family='"Liberation Sans", sans-serif'>10<tspan font-size="6.3" dy="-4.6">6</tspan></text><path d="M491.5 173.3h-2" stroke="#c96f3a" stroke-width="0.7"/><text x="494.6" y="177.8" font-size="8.8" text-anchor="start" fill="#c96f3a" font-family='"Liberation Sans", sans-serif'>10<tspan font-size="6.3" dy="-4.6">1</tspan></text><path d="M491.5 101.3h-2" stroke="#c96f3a" stroke-width="0.7"/><text x="494.6" y="105.8" font-size="8.8" text-anchor="start" fill="#c96f3a" font-family='"Liberation Sans", sans-serif'>10<tspan font-size="6.3" dy="-4.6">2</tspan></text><path d="M491.5 29.3h-2" stroke="#c96f3a" stroke-width="0.7"/><text x="494.6" y="33.8" font-size="8.8" text-anchor="start" fill="#c96f3a" font-family='"Liberation Sans", sans-serif'>10<tspan font-size="6.3" dy="-4.6">3</tspan></text><path d="M491.5 210.9h-1.1" stroke="#e3b9a0" stroke-width="0.5"/><path d="M491.5 202h-1.1" stroke="#e3b9a0" stroke-width="0.5"/><path d="M491.5 195h-1.1" stroke="#e3b9a0" stroke-width="0.5"/><path d="M491.5 189.3h-1.1" stroke="#e3b9a0" stroke-width="0.5"/><path d="M491.5 184.5h-1.1" stroke="#e3b9a0" stroke-width="0.5"/><path d="M491.5 180.3h-1.1" stroke="#e3b9a0" stroke-width="0.5"/><path d="M491.5 176.6h-1.1" stroke="#e3b9a0" stroke-width="0.5"/><path d="M491.5 151.6h-1.1" stroke="#e3b9a0" stroke-width="0.5"/><path d="M491.5 138.9h-1.1" stroke="#e3b9a0" stroke-width="0.5"/><path d="M491.5 130h-1.1" stroke="#e3b9a0" stroke-width="0.5"/><path d="M491.5 123h-1.1" stroke="#e3b9a0" stroke-width="0.5"/><path d="M491.5 117.3h-1.1" stroke="#e3b9a0" stroke-width="0.5"/><path d="M491.5 112.5h-1.1" stroke="#e3b9a0" stroke-width="0.5"/><path d="M491.5 108.3h-1.1" stroke="#e3b9a0" stroke-width="0.5"/><path d="M491.5 104.6h-1.1" stroke="#e3b9a0" stroke-width="0.5"/><path d="M491.5 79.6h-1.1" stroke="#e3b9a0" stroke-width="0.5"/><path d="M491.5 66.9h-1.1" stroke="#e3b9a0" stroke-width="0.5"/><path d="M491.5 58h-1.1" stroke="#e3b9a0" stroke-width="0.5"/><path d="M491.5 51h-1.1" stroke="#e3b9a0" stroke-width="0.5"/><path d="M491.5 45.3h-1.1" stroke="#e3b9a0" stroke-width="0.5"/><path d="M491.5 40.5h-1.1" stroke="#e3b9a0" stroke-width="0.5"/><path d="M491.5 36.3h-1.1" stroke="#e3b9a0" stroke-width="0.5"/><path d="M491.5 32.6h-1.1" stroke="#e3b9a0" stroke-width="0.5"/><path d="M491.5 7.6h-1.1" stroke="#e3b9a0" stroke-width="0.5"/><text transform="translate(314.8,114) rotate(-90)" font-size="9.5" text-anchor="middle" fill="#4a72b8" font-family='"Liberation Sans", sans-serif'>Substrate Intensity (counts)</text><text transform="translate(515.6,113.8) rotate(-90)" font-size="9.4" text-anchor="middle" fill="#c96f3a" font-family='"Liberation Sans", sans-serif'>Film Intensity (counts)</text><defs><radialGradient id="gO" cx="0.45" cy="0.4" r="0.62"><stop offset="0" stop-color="#d9262b"/><stop offset="0.6" stop-color="#b8141a"/><stop offset="1" stop-color="#86090e"/></radialGradient><radialGradient id="gAl" cx="0.45" cy="0.45" r="0.6"><stop offset="0" stop-color="#a6f47e"/><stop offset="1" stop-color="#84d85e"/></radialGradient></defs><text x="62.3" y="268.6" font-size="7.2" text-anchor="middle" fill="#4a5f88" font-family='"Liberation Sans", sans-serif' >Domain 2</text><path d="M62.1 277.5L50 298" stroke="#39445e" stroke-width="0.8"/><path d="M50 298L50.2 295.4L52.2 296.6Z" fill="#39445e"/><path d="M62.1 277.5L83 289.6" stroke="#39445e" stroke-width="0.8"/><path d="M83 289.6L80.4 289.4L81.5 287.4Z" fill="#39445e"/><circle cx="62.1" cy="277.5" r="5.3" fill="none" stroke="#39445e" stroke-width="0.7"/><path d="M58.4 273.8L65.8 281.2M58.4 281.2L65.8 273.8" stroke="#39445e" stroke-width="0.5599999999999999"/><text x="56" y="280.2" font-size="7.2" text-anchor="end" fill="#4a5f88" font-family='"Liberation Serif", serif' >[0001]</text><text transform="translate(45.5,308.5) rotate(-59)" font-size="7.0" text-anchor="middle" fill="#4a5f88" font-family='"Liberation Serif", serif'>[11<tspan text-decoration="overline">2</tspan>0]</text><text transform="translate(89.2,293.8) rotate(-57)" font-size="7.0" text-anchor="middle" fill="#4a5f88" font-family='"Liberation Serif", serif'>[1<tspan text-decoration="overline">1</tspan>00]</text><text x="177.2" y="274.8" font-size="7.2" text-anchor="middle" fill="#d39a68" font-family='"Liberation Sans", sans-serif' >Domain 1</text><path d="M170.4 285L149.6 273.5" stroke="#b07a52" stroke-width="0.8"/><path d="M149.6 273.5L152.2 273.6L151.1 275.6Z" fill="#b07a52"/><path d="M170.4 285L158.5 305.8" stroke="#b07a52" stroke-width="0.8"/><path d="M158.5 305.8L158.7 303.2L160.6 304.3Z" fill="#b07a52"/><circle cx="170.4" cy="285" r="5.3" fill="none" stroke="#b07a52" stroke-width="0.7"/><path d="M166.7 281.3L174.1 288.7M166.7 288.7L174.1 281.3" stroke="#b07a52" stroke-width="0.5599999999999999"/><text x="179.4" y="288.3" font-size="7.2" text-anchor="start" fill="#d39a68" font-family='"Liberation Serif", serif' >[0001]</text><text transform="translate(139.6,271.5) rotate(33)" font-size="7.0" text-anchor="middle" fill="#d39a68" font-family='"Liberation Serif", serif'>[1<tspan text-decoration="overline">1</tspan>00]</text><text transform="translate(153,313.5) rotate(36)" font-size="7.0" text-anchor="middle" fill="#d39a68" font-family='"Liberation Serif", serif'>[11<tspan text-decoration="overline">2</tspan>0]</text><path d="M49.6 402.3L49.6 383.4" stroke="#1e1e1e" stroke-width="1.0"/><path d="M49.6 383.4L50.7 385.7L48.5 385.7Z" fill="#1e1e1e"/><path d="M54.6 407.3L73.8 407.3" stroke="#1e1e1e" stroke-width="1.0"/><path d="M73.8 407.3L71.5 408.4L71.5 406.2Z" fill="#1e1e1e"/><circle cx="49.6" cy="407.3" r="4.8" fill="none" stroke="#1e1e1e" stroke-width="1.1"/><path d="M46.2 403.9L53 410.7M46.2 410.7L53 403.9" stroke="#1e1e1e" stroke-width="0.8800000000000001"/><text x="51" y="381.6" font-size="7.2" text-anchor="middle" fill="#333" font-family='"Liberation Serif", serif' >[11<tspan text-decoration="overline">2</tspan>0]</text><text x="75.4" y="410" font-size="7.2" text-anchor="start" fill="#333" font-family='"Liberation Serif", serif' >[1<tspan text-decoration="overline">1</tspan>00]</text><text x="51" y="421.4" font-size="7.2" text-anchor="middle" fill="#333" font-family='"Liberation Serif", serif' >[0001]</text><text x="50.1" y="431" font-size="8.6" text-anchor="middle" fill="#222" font-family='"Liberation Sans", sans-serif'>Al<tspan font-size="5.5" dy="1.6">2</tspan><tspan dy="-1.6">O</tspan><tspan font-size="5.5" dy="1.6">3</tspan></text><path d="M113.3 314.8L90.8 328M113.3 314.8L135.7 328M90.8 328L90.8 353.6M135.7 328L135.7 353.6M113.3 314.8L113.3 341M113.3 341L90.8 353.6M113.3 341L135.7 353.6M113.3 314.8L90.8 353.6M113.3 314.8L135.7 353.6M90.8 353.6L113.3 392.6M135.7 353.6L113.3 392.6" stroke="#7a7a7a" stroke-width="0.75" fill="none"/><circle cx="113.3" cy="366.8" r="5.0" fill="url(#gAl)" stroke="#4f8f36" stroke-width="1.0"/><circle cx="113.3" cy="392.6" r="5.0" fill="url(#gAl)" stroke="#4f8f36" stroke-width="1.0"/><path d="M90.8 353.6L113.3 392.6L135.7 353.6" stroke="#4a4a4a" stroke-width="0.8" fill="none"/><g fill="url(#gO)"><circle cx="104.2" cy="301.5" r="2.85"/><circle cx="106.8" cy="301.5" r="2.85"/><circle cx="105.5" cy="302.8" r="2.7"/></g><g fill="url(#gO)"><circle cx="120.2" cy="301.5" r="2.85"/><circle cx="122.7" cy="301.5" r="2.85"/><circle cx="121.4" cy="302.8" r="2.7"/></g><g fill="url(#gO)"><circle cx="97.7" cy="314.3" r="2.85"/><circle cx="100.2" cy="314.3" r="2.85"/><circle cx="98.9" cy="315.6" r="2.7"/></g><g fill="url(#gO)"><circle cx="127.1" cy="314.3" r="2.85"/><circle cx="129.6" cy="314.3" r="2.85"/><circle cx="128.3" cy="315.6" r="2.7"/></g><g fill="url(#gO)"><circle cx="82.2" cy="340.5" r="2.85"/><circle cx="84.7" cy="340.5" r="2.85"/><circle cx="83.4" cy="341.8" r="2.7"/></g><g fill="url(#gO)"><circle cx="142.6" cy="340.5" r="2.85"/><circle cx="145.1" cy="340.5" r="2.85"/><circle cx="143.8" cy="341.8" r="2.7"/></g><g fill="url(#gO)"><circle cx="75" cy="353.1" r="2.85"/><circle cx="77.5" cy="353.1" r="2.85"/><circle cx="76.3" cy="354.4" r="2.7"/></g><g fill="url(#gO)"><circle cx="104.5" cy="353.1" r="2.85"/><circle cx="107" cy="353.1" r="2.85"/><circle cx="105.8" cy="354.4" r="2.7"/></g><g fill="url(#gO)"><circle cx="119.5" cy="353.1" r="2.85"/><circle cx="122" cy="353.1" r="2.85"/><circle cx="120.8" cy="354.4" r="2.7"/></g><g fill="url(#gO)"><circle cx="150.1" cy="353.1" r="2.85"/><circle cx="152.6" cy="353.1" r="2.85"/><circle cx="151.3" cy="354.4" r="2.7"/></g><g fill="url(#gO)"><circle cx="82.3" cy="366.3" r="2.85"/><circle cx="84.8" cy="366.3" r="2.85"/><circle cx="83.6" cy="367.6" r="2.7"/></g><g fill="url(#gO)"><circle cx="97.5" cy="366.3" r="2.85"/><circle cx="100" cy="366.3" r="2.85"/><circle cx="98.8" cy="367.6" r="2.7"/></g><g fill="url(#gO)"><circle cx="127.2" cy="366.3" r="2.85"/><circle cx="129.8" cy="366.3" r="2.85"/><circle cx="128.5" cy="367.6" r="2.7"/></g><g fill="url(#gO)"><circle cx="142.7" cy="366.3" r="2.85"/><circle cx="145.2" cy="366.3" r="2.85"/><circle cx="143.9" cy="367.6" r="2.7"/></g><g fill="url(#gO)"><circle cx="104.7" cy="379" r="2.85"/><circle cx="107.2" cy="379" r="2.85"/><circle cx="105.9" cy="380.3" r="2.7"/></g><g fill="url(#gO)"><circle cx="120" cy="379" r="2.85"/><circle cx="122.5" cy="379" r="2.85"/><circle cx="121.3" cy="380.3" r="2.7"/></g><g fill="url(#gO)"><circle cx="97.5" cy="392.1" r="2.85"/><circle cx="100" cy="392.1" r="2.85"/><circle cx="98.8" cy="393.4" r="2.7"/></g><g fill="url(#gO)"><circle cx="127.3" cy="392.1" r="2.85"/><circle cx="129.8" cy="392.1" r="2.85"/><circle cx="128.6" cy="393.4" r="2.7"/></g><g fill="url(#gO)"><circle cx="104.7" cy="404.9" r="2.85"/><circle cx="107.2" cy="404.9" r="2.85"/><circle cx="105.9" cy="406.2" r="2.7"/></g><g fill="url(#gO)"><circle cx="120" cy="404.9" r="2.85"/><circle cx="122.5" cy="404.9" r="2.85"/><circle cx="121.3" cy="406.2" r="2.7"/></g><circle cx="83.4" cy="314.8" r="2.3" fill="url(#gO)"/><circle cx="143.8" cy="314.8" r="2.3" fill="url(#gO)"/><circle cx="76.4" cy="328" r="2.3" fill="url(#gO)"/><circle cx="151.2" cy="328" r="2.3" fill="url(#gO)"/><circle cx="113.3" cy="314.8" r="4.9" fill="#b0722e" stroke="#7e7a3a" stroke-width="0.9"/><circle cx="113.3" cy="314.8" r="2.5" fill="#c8161c"/><circle cx="90.8" cy="328" r="4.9" fill="#1f2a6a" stroke="#3a3f70" stroke-width="0.9"/><circle cx="90.8" cy="328" r="2.5" fill="#c8161c"/><circle cx="105.8" cy="328" r="4.9" fill="#1f2a6a" stroke="#3a3f70" stroke-width="0.9"/><circle cx="105.8" cy="328" r="2.5" fill="#c8161c"/><circle cx="120.8" cy="328" r="4.9" fill="#e48a1c" stroke="#b07020" stroke-width="0.9"/><circle cx="135.7" cy="328" r="4.9" fill="#c07834" stroke="#8a7040" stroke-width="0.9"/><circle cx="135.7" cy="328" r="2.5" fill="#c8161c"/><circle cx="98.3" cy="341" r="4.9" fill="#5a6aa8" stroke="#7a7aa0" stroke-width="0.9"/><circle cx="98.3" cy="341" r="2.5" fill="#c8161c"/><circle cx="113.3" cy="341" r="4.9" fill="#b8742e" stroke="#7e7a3a" stroke-width="0.9"/><circle cx="113.3" cy="341" r="2.5" fill="#c8161c"/><circle cx="128.3" cy="341" r="4.9" fill="#d0935e" stroke="#b0805a" stroke-width="0.9"/><circle cx="128.3" cy="341" r="2.5" fill="#c8161c"/><circle cx="90.8" cy="353.6" r="4.9" fill="#2c4a4c" stroke="#3a5a50" stroke-width="0.9"/><circle cx="90.8" cy="353.6" r="2.5" fill="#c8161c"/><circle cx="135.7" cy="353.6" r="4.9" fill="#c07a30" stroke="#7e7a3a" stroke-width="0.9"/><circle cx="135.7" cy="353.6" r="2.5" fill="#c8161c"/><circle cx="170.8" cy="339.3" r="3.6" fill="#c08040" stroke="#8a7040" stroke-width="0.8"/><text x="177.4" y="341.9" font-size="6.7" text-anchor="start" fill="#d08a4c" font-family='"Liberation Sans", sans-serif' >Co Domain 1</text><circle cx="170.8" cy="349.9" r="3.6" fill="#1c3a9a" stroke="#203070" stroke-width="0.8"/><text x="177.4" y="352.5" font-size="6.7" text-anchor="start" fill="#3d5cb0" font-family='"Liberation Sans", sans-serif' >Co Domain 2</text><circle cx="170.8" cy="361.3" r="3.9" fill="url(#gAl)" stroke="#5e9e44" stroke-width="0.8"/><text x="177.6" y="363.9" font-size="7.0" text-anchor="start" fill="#333" font-family='"Liberation Sans", sans-serif' >Al</text><circle cx="170.8" cy="372.9" r="2.4" fill="url(#gO)"/><text x="179" y="375.5" font-size="7.0" text-anchor="start" fill="#333" font-family='"Liberation Sans", sans-serif' >O</text><defs><linearGradient id="gOr" gradientUnits="userSpaceOnUse" x1="0" y1="360" x2="0" y2="395"><stop offset="0" stop-color="#d65c22"/><stop offset="0.62" stop-color="#d8622a"/><stop offset="0.78" stop-color="#de7444"/><stop offset="1" stop-color="#e89870"/></linearGradient></defs><path d="M261.3 377.2L261.4 384L261.5 375.5L261.6 373.4L261.7 371.1L261.8 374.3L261.9 376.4L262 385.8L262.1 372.3L262.2 369.6L262.3 391.2L262.4 378.5L262.6 377.7L262.7 388.4L262.8 374L262.9 380.1L263 383.1L263.1 378.3L263.2 376.6L263.3 376.2L263.4 376.9L263.5 373L263.6 374.9L263.7 376.5L263.8 373.4L263.9 372.1L264 379.8L264.1 375.5L264.2 377.7L264.3 375.2L264.4 378.7L264.5 374.6L264.6 374.8L264.7 385.1L264.8 377.9L265 375.9L265.1 378.1L265.2 378.9L265.3 374L265.4 378.1L265.5 371L265.6 388.5L265.7 380.9L265.8 373.8L265.9 378.1L266 362.2L266.1 374.5L266.2 380.9L266.3 375.4L266.4 375.5L266.5 371.7L266.6 378.4L266.7 372.4L266.8 378.1L266.9 375.7L267 377.3L267.1 370.2L267.2 364.6L267.4 367.1L267.5 372.7L267.6 372L267.7 372.1L267.8 394.4L267.9 374.9L268 370.5L268.1 375.9L268.2 374.1L268.3 374.7L268.4 372.8L268.5 375.8L268.6 375.2L268.7 373.9L268.8 374.4L268.9 377.4L269 371.9L269.1 378.7L269.2 378.4L269.3 378.7L269.4 371.7L269.5 384.7L269.6 377.7L269.8 378.2L269.9 373.4L270 378L270.1 378.6L270.2 372.8L270.3 378.4L270.4 394.4L270.5 374.7L270.6 376.1L270.7 374.8L270.8 370.5L270.9 376.3L271 378.6L271.1 380.4L271.2 375.3L271.3 362.2L271.4 394.4L271.5 382.9L271.6 376.2L271.7 376.9L271.8 376.3L271.9 374.2L272 375.9L272.1 374.4L272.3 368.8L272.4 373.2L272.5 379.6L272.6 369.3L272.7 373.6L272.8 377.6L272.9 371.9L273 374.6L273.1 376.6L273.2 376.7L273.3 377.8L273.4 374.5L273.5 394.4L273.6 375.7L273.7 373.4L273.8 368.8L273.9 378.5L274 373.9L274.1 375.6L274.2 378L274.3 377.9L274.4 374.7L274.5 373.3L274.7 376.3L274.8 374.5L274.9 372.4L275 373.8L275.1 372L275.2 394.2L275.3 373.2L275.4 369L275.5 372.7L275.6 374.3L275.7 372.5L275.8 377.5L275.9 375.7L276 372.2L276.1 372.7L276.2 369.9L276.3 374.6L276.4 379.2L276.5 368.6L276.6 394.4L276.7 378L276.8 370.4L276.9 374.6L277.1 380.3L277.2 376L277.3 376.3L277.4 369.7L277.5 377.1L277.6 375.5L277.7 375.5L277.8 375.9L277.9 377.5L278 374L278.1 371.3L278.2 394.4L278.3 384.7L278.4 394.4L278.5 374.3L278.6 376.9L278.7 376.6L278.8 379.9L278.9 368.6L279 371.8L279.1 377.7L279.2 371.9L279.3 370.5L279.5 380.8L279.6 376.4L279.7 375.9L279.8 375.6L279.9 373.5L280 373.9L280.1 374.9L280.2 368.9L280.3 367.9L280.4 366.2L280.5 364L280.6 365.7L280.7 361.5L280.8 356.3L280.9 355.9L281 354.2L281.1 353L281.2 353.6L281.3 347.1L281.4 350.6L281.5 347.1L281.6 345.7L281.7 343L281.9 344.3L282 342.8L282.1 342.7L282.2 337.8L282.3 341.3L282.4 341.7L282.5 340.7L282.6 345L282.7 345.2L282.8 346.5L282.9 347.6L283 351.6L283.1 352.2L283.2 353.6L283.3 358.6L283.4 359.1L283.5 357.6L283.6 361.6L283.7 362.6L283.8 364.2L283.9 368.3L284 367.5L284.1 370.5L284.3 366L284.4 370L284.5 370.7L284.6 370.6L284.7 375.3L284.8 379.2L284.9 380.9L285 374.4L285.1 372L285.2 384L285.3 378.3L285.4 371.4L285.5 375.5L285.6 378.1L285.7 386.9L285.8 376.4L285.9 372.4L286 373.3L286.1 393.1L286.2 363.9L286.3 374.8L286.4 370.6L286.5 373.6L286.7 372.7L286.8 375.1L286.9 378.7L287 394.4L287.1 372.7L287.2 374.4L287.3 377.5L287.4 379.7L287.5 387.4L287.6 375.7L287.7 390.4L287.8 375.7L287.9 373.8L288 373.8L288.1 371.7L288.2 371.8L288.3 394.4L288.4 372.2L288.5 375.7L288.6 374.8L288.7 373.1L288.8 387.8L288.9 390L289.1 394.4L289.2 369.6L289.3 380.2L289.4 371L289.5 374.6L289.6 372.5L289.7 378.8L289.8 369.3L289.9 372.4L290 375.1L290.1 375.8L290.2 374.3L290.3 375.2L290.4 375.5L290.5 378.2L290.6 370.7L290.7 374.8L290.8 374.4L290.9 374.4L291 382L291.1 388L291.2 375.7L291.3 375.6L291.4 374.5L291.6 377.7L291.7 372.1L291.8 376.8L291.9 390.3L292 377.4L292.1 374.2L292.2 372.4L292.3 376.5L292.4 379.4L292.5 371.4L292.6 362.2L292.7 371L292.8 374.8L292.9 376.9L293 376.7L293.1 373.2L293.2 371.9L293.3 375.3L293.4 371.7L293.5 368.2L293.6 375.3L293.7 392L293.8 378L294 379L294.1 376.7L294.2 383.1L294.3 394.4L294.4 373L294.5 382.8L294.6 378.8L294.7 368.4L294.8 371.4L294.9 373.1L295 394.2L295.1 369.2L295.2 373L295.3 374.4L295.4 378.5L295.5 393.4L295.6 369L295.7 376.9L295.8 376.9L295.9 374.8L296 375.7L296.1 372L296.2 378.8L296.4 375.2L296.5 368.9L296.6 374.6L296.7 370.9L296.8 394.4L296.9 370.6L297 372.4L297.1 390.9L297.2 375.5L297.3 375.9L297.4 379.5L297.5 376.1L297.6 378.6L297.7 379.9L297.8 374L297.9 374.8L298 376.8L298.1 377.6L298.2 376.4L298.3 375.9L298.4 376L298.5 389.9L298.6 376L298.8 373.5L298.9 373.1L299 373.6L299.1 376.7L299.2 388.1L299.3 373.3L299.4 375.3L299.5 374.8L299.6 382.4L299.7 383.1L299.8 373.6L299.9 373.7L300 370.3L300.1 372.4L300.2 374L300.3 374.6L300.4 379.1L300.5 371.9L300.6 376.6L300.7 394.4L300.8 374.1L300.9 373.8L301 371.9L301.2 376.2L301.3 375.9L301.4 377.3L301.5 375.9L301.6 369.5L301.7 375.8L301.8 371L301.9 372.1L302 372.4L302.1 388.1L302.2 377.8L302.3 394.4L302.4 369.7L302.5 376.8L302.6 374.8L302.7 376.8L302.8 373.7L302.9 378L303 369.7L303.1 375.9L303.2 379.5L303.3 369.1L303.4 394.4L303.6 373.1L303.7 373L303.8 375.8L303.9 375.4L304 372.4L304.1 369.1L304.2 371.8L304.3 374L304.4 376.1L304.5 375.3L304.6 371.2L304.7 370.2L304.8 394.4L304.9 394.4L305 370.8L305.1 394.4L305.2 372.5L305.3 378.8L305.4 375.8L305.5 376.3L305.6 374L305.7 379.9L305.8 370.7L306 373.7L306.1 373.3L306.2 394.4L306.3 394.4L306.4 387.4L306.5 379.6L306.6 373.7L306.7 372.5L306.8 389.9L306.9 372.1L307 375.7L307.1 370.8L307.2 373L307.3 374L307.4 368.4L307.5 372.1L307.6 370.6L307.7 378.4L307.8 376.7L307.9 372.1L308 371.9L308.1 374.9L308.2 372.3L308.4 378L308.5 374L308.6 378.3L308.7 373.6L308.8 387.7L308.9 376.7L309 374.5L309.1 369L309.2 377.8L309.3 376.6L309.4 371.4L309.5 376L309.6 369.2L309.7 374L309.8 374.4L309.9 373.6L310 393L310.1 372.6L310.2 373.1L310.3 389.5L310.4 379.5L310.5 377.4L310.6 370.1L310.8 372.1L310.9 373.1L311 372.7L311.1 394.4L311.2 373.6L311.3 377.5L311.4 373.5L311.5 376.9L311.6 375.3L311.7 373.3L311.8 375.7L311.9 372.7L312 373.3L312.1 373.6L312.2 370.6L312.3 379.3L312.4 393.9L312.5 372.8L312.6 388.3L312.7 368.4L312.8 372.3L312.9 372.1L313 377.4L313.1 372.3L313.3 372.6L313.4 378L313.5 377.5L313.6 375L313.7 373.8L313.8 383.9L313.9 365.9L314 374L314.1 375.2L314.2 373.8L314.3 384.9L314.4 377.8L314.5 373.4L314.6 375.5L314.7 394.4L314.8 383.9L314.9 386.6L315 379.2L315.1 391.6L315.2 379.8L315.3 388.7L315.4 375.5L315.5 374.9L315.7 377.1L315.8 377.6L315.9 381L316 374.1L316.1 373.9L316.2 380.8L316.3 377.9L316.4 377L316.5 374.8L316.6 373.9L316.7 371.2L316.8 390.8L316.9 384.6L317 370.5L317.1 378.3L317.2 376.4L317.3 371.1L317.4 373.8L317.5 374.6L317.6 380.8L317.7 380.5L317.8 372.4L317.9 373.6L318.1 375.6L318.2 376L318.3 380.1L318.4 373.5L318.5 371.5L318.6 369.6L318.7 374.5L318.8 375.3L318.9 378.1L319 370.9L319.1 369.4L319.2 376.6L319.3 373.8L319.4 374.4L319.5 376.5L319.6 382.5L319.7 387L319.8 364.5L319.9 379.2L320 377.3L320.1 394.4L320.2 370.7L320.3 388.2L320.5 374.5L320.6 375.5L320.7 376.7L320.8 374.9L320.9 387.6L321 375.5L321.1 382.9L321.2 384.2L321.3 369.9L321.4 375.4L321.5 373.9L321.6 378.8L321.7 373.5L321.8 370.3L321.9 368.9L322 367.7L322.1 364.9L322.2 365.2L322.3 359.5L322.4 360.8L322.5 360.2L322.6 358.6L322.7 358.7L322.9 353.9L323 350.9L323.1 347.3L323.2 349.5L323.3 349.1L323.4 343.5L323.5 341.7L323.6 342.7L323.7 340.6L323.8 335.5L323.9 335.4L324 336.3L324.1 339.4L324.2 340.3L324.3 342.9L324.4 347L324.5 344.6L324.6 345.8L324.7 350.8L324.8 350.3L324.9 353L325 354.8L325.1 357.5L325.3 357.3L325.4 360L325.5 364.8L325.6 362.8L325.7 365.3L325.8 365.5L325.9 368.2L326 370.7L326.1 373L326.2 373.3L326.3 374.4L326.4 371.7L326.5 368.4L326.6 371.6L326.7 381.8L326.8 375.4L326.9 373.3L327 372.3L327.1 379.2L327.2 368.3L327.3 376.9L327.4 378.7L327.5 394.4L327.7 385L327.8 376.9L327.9 390L328 365L328.1 374.3L328.2 380.9L328.3 384.9L328.4 368.4L328.5 394.3L328.6 372.3L328.7 370.9L328.8 372.6L328.9 388.3L329 379.6L329.1 373.3L329.2 368.1L329.3 374.9L329.4 369.2L329.5 373L329.6 374.5L329.7 374.5L329.8 372.4L329.9 371.8L330.1 394.4L330.2 374.1L330.3 369.3L330.4 372.3L330.5 377.1L330.6 376.8L330.7 381.1L330.8 362L330.9 369.7L331 374.9L331.1 390.3L331.2 376.5L331.3 375L331.4 375L331.5 391L331.6 377.1L331.7 372.7L331.8 369.9L331.9 376.4L332 376.4L332.1 391.3L332.2 379.2L332.3 376.5L332.4 375.9L332.6 374.2L332.7 375.5L332.8 377.4L332.9 373.7L333 378.4L333.1 380.1L333.2 381L333.3 372.3L333.4 380.1L333.5 373.3L333.6 372.6L333.7 372.2L333.8 375.2L333.9 389.7L334 374.4L334.1 376.5L334.2 394.4L334.3 370.8L334.4 377.5L334.5 369.1L334.6 373.1L334.7 376.1L334.8 373.3L335 370.8L335.1 379L335.2 377.6L335.3 377.9L335.4 374.2L335.5 383.4L335.6 374.6L335.7 376.9L335.8 376.3L335.9 371L336 371.2L336.1 364.5L336.2 367L336.3 372.7L336.4 373.8L336.5 373.9L336.6 369.3L336.7 372.1L336.8 377.7L336.9 377.7L337 370.4L337.1 374L337.2 371.9L337.4 375L337.5 377.6L337.6 373.7L337.7 369.6L337.8 373.4L337.9 378L338 385.1L338.1 376L338.2 373.9L338.3 371.3L338.4 368.3L338.5 362.6L338.6 375.7L338.7 374.1L338.8 394.4L338.9 394.4L339 374.3L339.1 374.4L339.2 378L339.3 367.2L339.4 375.5L339.5 383.9L339.6 372.9L339.8 375.9L339.9 369L340 372.9L340.1 374.2L340.2 376.8L340.3 375.7L340.4 371.8L340.5 376.6L340.6 388.1L340.7 381L340.8 373.8L340.9 371.9L341 373.4L341.1 374.5L341.2 371.3L341.3 394.4L341.4 377.5L341.5 374.1L341.6 370.7L341.7 373.1L341.8 375.1L341.9 373.5L342 386.6L342.2 378.3L342.3 383.2L342.4 377.6L342.5 379.1L342.6 376.3L342.7 378.2L342.8 377.1L342.9 373.1L343 374.1L343.1 374.5L343.2 369.3L343.3 375.9L343.4 384.4L343.5 370.5L343.6 377.9L343.7 379.5L343.8 370.3L343.9 373.3L344 372.5L344.1 372.4L344.2 371.6L344.3 390L344.4 383.9L344.6 377.8L344.7 373.9L344.8 373.6L344.9 375.8L345 372.3L345.1 393.2L345.2 377.9L345.3 371.7L345.4 371.4L345.5 393L345.6 376.8L345.7 370.6L345.8 372.2L345.9 374.7L346 384.5L346.1 373.5L346.2 371.3L346.3 371.5L346.4 367.1L346.5 394.3L346.6 372.3L346.7 375.5L346.8 371.8L347 373.8L347.1 376.1L347.2 378.3L347.3 376.6L347.4 373.4L347.5 369.6L347.6 371.8L347.7 377.9L347.8 375.7L347.9 374.1L348 374.6L348.1 374.1L348.2 394.4L348.3 373.7L348.4 391.5L348.5 380.4L348.6 375.5L348.7 379.7L348.8 375L348.9 394.4L349 378.7L349.1 375L349.2 375.7L349.4 368.7L349.5 373.3L349.6 394.4L349.7 373.4L349.8 373.5L349.9 375.4L350 376L350.1 373L350.2 372.8L350.3 373.5L350.4 378L350.5 375.7L350.6 379.7L350.7 379.6L350.8 376.7L350.9 378.2L351 376.2L351.1 387.7L351.2 373.4L351.3 377.7L351.4 381.7L351.5 377.6L351.6 379.5L351.7 381.9L351.9 372.8L352 376.6L352.1 373.7L352.2 365.4L352.3 374.2L352.4 374.7L352.5 374L352.6 375.9L352.7 377.6L352.8 375.7L352.9 389.3L353 375.9L353.1 379.3L353.2 378.9L353.3 378.3L353.4 375L353.5 373.5L353.6 373.5L353.7 371.3L353.8 375.6L353.9 372.4L354 373.9L354.1 372.7L354.3 380.6L354.4 390.9L354.5 386L354.6 378.4L354.7 393.7L354.8 376L354.9 369.3L355 394.4L355.1 378L355.2 374.3L355.3 376L355.4 368L355.5 369.7L355.6 372.4L355.7 376L355.8 374.5L355.9 386.2L356 387.2L356.1 377.2L356.2 394.4L356.3 372.4L356.4 367.7L356.5 375.5L356.7 380.8L356.8 371L356.9 375.1L357 387L357.1 378.2L357.2 377.5L357.3 394.4L357.4 372.5L357.5 378.9L357.6 368.9L357.7 370.5L357.8 378L357.9 383L358 371.7L358.1 367.5L358.2 375.1L358.3 376.3L358.4 370.8L358.5 370.1L358.6 372.2L358.7 375.1L358.8 373.9L358.9 372.7L359.1 379.6L359.2 370.8L359.3 384.5L359.4 373.9L359.5 374.2L359.6 371.8L359.7 371.3L359.8 367.8L359.9 375.8L360 377.5L360.1 374.2L360.2 376.7L360.3 372L360.4 393.8L360.5 374.2L360.6 371.7L360.7 371.5L360.8 374L360.9 370.2L361 370.6L361.1 379.9L361.2 390.3L361.3 386.4L361.5 375.5L361.6 376.6L361.7 374.4L361.8 373.4L361.9 373.7L362 370.3L362.1 371.5L362.2 376.4L362.3 376.9L362.4 371.9L362.5 376.7L362.6 374L362.7 373.1L362.8 371.4L362.9 373L363 370.1L363.1 376L363.2 372.5L363.3 373.3L363.4 371.3L363.5 369.6L363.6 370.4L363.7 368.4L363.9 363.9L364 364.3L364.1 361.8L364.2 360.3L364.3 359.4L364.4 358.4L364.5 353.9L364.6 351.7L364.7 351.3L364.8 350.1L364.9 349.6L365 347.4L365.1 347.1L365.2 342.6L365.3 341.5L365.4 339.2L365.5 340.8L365.6 332.4L365.7 338.1L365.8 340.7L365.9 344.3L366 345L366.1 344L366.3 345.4L366.4 345.6L366.5 352.2L366.6 353.1L366.7 357.5L366.8 355.5L366.9 355.9L367 355.8L367.1 358.1L367.2 361.1L367.3 364.2L367.4 364.7L367.5 366L367.6 370.8L367.7 368.2L367.8 371L367.9 371.4L368 374.5L368.1 376.3L368.2 371.5L368.3 380.4L368.4 371.5L368.5 370.3L368.7 373.9L368.8 377.3L368.9 375.3L369 372L369.1 375.2L369.2 391.1L369.3 374.3L369.4 374L369.5 376.4L369.6 387.6L369.7 389.1L369.8 384.4L369.9 375.4L370 392.7L370.1 372L370.2 379.2L370.3 376.5L370.4 371.6L370.5 370L370.6 375.1L370.7 371.5L370.8 380.6L370.9 394.4L371 373.6L371.2 378.3L371.3 394.4L371.4 376.1L371.5 389.5L371.6 373.3L371.7 374.1L371.8 372.1L371.9 372.3L372 378.8L372.1 375.7L372.2 388.3L372.3 387.4L372.4 376L372.5 371.4L372.6 385.8L372.7 386.1L372.8 387.6L372.9 374.5L373 374.9L373.1 374.1L373.2 366.9L373.3 376.1L373.4 361.5L373.6 375.1L373.7 364.7L373.8 394.4L373.9 372L374 394.4L374.1 375L374.2 394.4L374.3 377L374.4 375.4L374.5 377L374.6 370.7L374.7 389.5L374.8 375.4L374.9 374.7L375 394.4L375.1 394.1L375.2 373.5L375.3 368.8L375.4 374.2L375.5 369.7L375.6 374.3L375.7 375.8L375.8 369.6L376 380.5L376.1 378.2L376.2 376.9L376.3 384L376.4 377L376.5 387L376.6 376.8L376.7 374.8L376.8 394.4L376.9 374.5L377 374.2L377.1 377.5L377.2 378.2L377.3 375.5L377.4 371.8L377.5 373.5L377.6 371.3L377.7 371.6L377.8 394.4L377.9 394.4L378 370.8L378.1 372.3L378.2 363.4L378.4 383.2L378.5 373.6L378.6 375L378.7 374.1L378.8 379.8L378.9 375.4L379 394.4L379.1 371.6L379.2 376.7L379.3 374.2L379.4 369L379.5 376.3L379.6 372L379.7 394.4L379.8 375L379.9 373.2L380 371.9L380.1 376.2L380.2 394L380.3 369.9L380.4 374.1L380.5 372.2L380.6 371.8L380.8 372.3L380.9 385.7L381 375.1L381.1 379.4L381.2 374.1L381.3 376.1L381.4 391L381.5 368.9L381.6 372.5L381.7 374.5L381.8 394.4L381.9 372.4L382 394.4L382.1 377.2L382.2 373.3L382.3 376.2L382.4 375.1L382.5 375.8L382.6 379.6L382.7 376.2L382.8 379.6L382.9 370.4L383 371.4L383.2 384.2L383.3 373.8L383.4 391.3L383.5 374L383.6 374L383.7 375.4L383.8 375.2L383.9 378.8L384 377.7L384.1 376.5L384.2 374L384.3 375.8L384.4 368.8L384.5 375.2L384.6 375.7L384.7 373.3L384.8 371.5L384.9 369L385 371.7L385.1 376.4L385.2 375.2L385.3 371.4L385.4 373.8L385.6 394.4L385.7 374.9L385.8 369.7L385.9 370.2L386 365.5L386.1 374.1L386.2 388.2L386.3 378.7L386.4 373.6L386.5 372.6L386.6 383.5L386.7 376L386.8 371.1L386.9 371.7L387 376.1L387.1 372.7L387.2 374.5L387.3 375.3L387.4 371.2L387.5 393.1L387.6 376.2L387.7 377.5L387.8 378.6L388 378.9L388.1 370.5L388.2 368.9L388.3 367.1L388.4 371.4L388.5 394.4L388.6 374.8L388.7 371.8L388.8 373.6L388.9 374.7L389 379.6L389.1 379L389.2 375.8L389.3 376.2L389.4 374.8L389.5 376.5L389.6 375.2L389.7 374.4L389.8 373L389.9 374.4L390 376.2L390.1 375.4L390.2 391L390.4 375.2L390.5 377.5L390.6 389L390.7 373.7L390.8 372.9L390.9 370.9L391 375.6L391.1 370.4L391.2 375.6L391.3 375.3L391.4 376.3L391.5 373L391.6 390.6L391.7 374.7L391.8 376.1L391.9 379.3L392 374.1L392.1 375.6L392.2 383.2L392.3 394.4L392.4 377.3L392.5 375.9L392.6 387.8L392.7 371.7L392.9 374.6L393 373.6L393.1 375.2L393.2 375L393.3 378.8L393.4 390.9L393.5 372.8L393.6 370.2L393.7 376.5L393.8 374.2L393.9 377.4L394 373.9L394.1 390.2L394.2 387L394.3 375.1L394.4 383.2L394.5 376.1L394.6 372.8L394.7 375.5L394.8 375.9L394.9 374.3L395 373.5L395.1 378.9L395.3 379.2L395.4 374L395.5 383.4L395.6 380.7L395.7 379.8L395.8 376.9L395.9 373.6L396 374L396.1 371.6L396.2 371.1L396.3 367.5L396.4 386.3L396.5 374.7L396.6 371.4L396.7 378.4L396.8 378.9L396.9 374L397 394.4L397.1 370.8L397.2 380L397.3 378.3L397.4 374.9L397.5 394.4L397.7 373.6L397.8 374.2L397.9 369.3L398 374.8L398.1 374L398.2 388.6L398.3 390.7L398.4 378L398.5 373.4L398.6 376.9L398.7 378.9L398.8 371L398.9 368.5L399 385L399.1 373.8L399.2 394.4L399.3 388.7L399.4 394.4L399.5 375.8L399.6 369.4L399.7 377.2L399.8 369.4L399.9 375.1L400.1 371.9L400.2 374.1L400.3 373.2L400.4 370L400.5 394.4L400.6 377.4L400.7 373.8L400.8 372.5L400.9 382L401 371.5L401.1 394.4L401.2 390.8L401.3 375L401.4 392.2L401.5 378L401.6 388.7L401.7 375.6L401.8 389.3L401.9 371.1L402 374.6L402.1 374.3L402.2 371.7L402.3 372.9L402.5 374.8L402.6 370.4L402.7 378.8L402.8 374.1L402.9 375.8L403 376.1L403.1 373.9L403.2 374.4L403.3 367L403.4 372.5L403.5 373.4L403.6 369.5L403.7 371.4L403.8 380.2L403.9 391.8L404 372.2L404.1 376.4L404.2 373.6L404.3 386.6L404.4 373.4L404.5 379.5L404.6 380.5L404.7 376.2L404.9 373.9L405 370.5L405.1 375.4L405.2 372.6L405.3 371.1L405.4 369.6L405.5 367.8L405.6 367L405.7 364.1L405.8 361L405.9 360.6L406 360.2L406.1 359.4L406.2 353.8L406.3 350.9L406.4 351.1L406.5 348.9L406.6 348.6L406.7 348.8L406.8 344.2L406.9 341.4L407 343.3L407.1 340.9L407.3 338.3L407.4 336.3L407.5 341L407.6 339.8L407.7 341.1L407.8 343.2L407.9 342.2L408 347.2L408.1 349.5L408.2 349.6L408.3 353.4L408.4 355.1L408.5 352L408.6 357.4L408.7 360.3L408.8 357.3L408.9 362.4L409 367.6L409.1 366.5L409.2 362.1L409.3 365.8L409.4 373.3L409.5 372.5L409.7 372.3L409.8 378.5L409.9 371.1L410 378.2L410.1 375.3L410.2 371.9L410.3 376.6L410.4 370.7L410.5 368.8L410.6 369.8L410.7 373.4L410.8 383.1L410.9 376.3L411 373.5L411.1 373.3L411.2 393.4L411.3 374.2L411.4 375.4L411.5 380.8L411.6 373.5L411.7 373.7L411.8 368.4L411.9 372.5L412 374.5L412.2 372L412.3 372.8L412.4 385.1L412.5 375.9L412.6 391L412.7 374.3L412.8 369.7L412.9 394.4L413 377.7L413.1 372.4L413.2 389.2L413.3 373.4L413.4 380.5L413.5 376.5L413.6 373.1L413.7 372.9L413.8 373.8L413.9 377.4L414 373L414.1 378.4L414.2 377.6L414.3 378.3L414.4 370.2L414.6 360.8L414.7 374.5L414.8 361.3L414.9 371.3L415 373.3L415.1 379.8L415.2 379.7L415.3 369.6L415.4 377.6L415.5 394.4L415.6 376.2L415.7 382.4L415.8 371.3L415.9 373.2L416 372.6L416.1 376.3L416.2 375.4L416.3 394.4L416.4 377.3L416.5 380.8L416.6 371.9L416.7 376.7L416.8 370.8L417 376.2L417.1 376.1L417.2 394.2L417.3 382.1L417.4 371.1L417.5 376.7L417.6 375.3L417.7 370.2L417.8 374.4L417.9 371.9L418 373.7L418.1 372.3L418.2 383.2L418.3 394.4L418.4 393.8L418.5 373.3L418.6 376.9L418.7 371L418.8 381.5L418.9 374.1L419 360.9L419.1 373.7L419.2 374.7L419.4 370.5L419.5 368.1L419.6 376.6L419.7 386.4L419.8 378.1L419.9 377.2L420 375.1L420.1 374.9L420.2 371.4L420.3 394.1L420.4 374.8L420.5 374.4L420.6 384.6L420.7 375.7L420.8 366.1L420.9 375L421 377.7L421.1 381.5L421.2 371.5L421.3 375.7L421.4 376.7L421.5 367.1L421.6 370.3L421.8 380.1L421.9 385.8L422 371.6L422.1 372.1L422.2 378.2L422.3 387.7L422.4 369L422.5 394.4L422.6 380.2L422.7 394.4L422.8 372.7L422.9 371.4L423 374.2L423.1 376.6L423.2 394L423.3 373L423.4 378.5L423.5 380L423.6 375L423.7 370.9L423.8 374.2L423.9 374.1L424 376.8L424.2 371.9L424.3 380.1L424.4 375L424.5 376.6L424.6 375.2L424.7 377.6L424.8 372.4L424.9 375L425 376.6L425.1 373.2L425.2 374.9L425.3 376.4L425.4 376.6L425.5 372.4L425.6 377.7L425.7 375.5L425.8 375.6L425.9 373.8L426 375.4L426.1 368.1L426.2 380.2L426.3 372.9L426.4 374.9L426.6 394.4L426.7 379.9L426.8 371L426.9 379.1L427 383.2L427.1 373.2L427.2 374.7L427.3 377.1L427.4 377.3L427.5 374.5L427.6 386.7L427.7 384.9L427.8 380.4L427.9 372.3L428 372.2L428.1 373.2L428.2 391.3L428.3 373.6L428.4 373.2L428.5 374L428.6 377.2L428.7 377.1L428.8 378.4L429 374.3L429.1 377.9L429.2 384.9L429.3 370.7L429.4 375.9L429.5 371.7L429.6 369.9L429.7 392.6L429.8 379.2L429.9 373.3L430 376.9L430.1 373.1L430.2 372.5L430.3 376.3L430.4 372.1L430.5 389.4L430.6 394.4L430.7 394.4L430.8 375.2L430.9 376.4L431 369.8L431.1 375.3L431.2 376.8L431.3 374.5L431.5 373.1L431.6 375.9L431.7 394L431.8 374.7L431.9 372.4L432 371.6L432.1 373.8L432.2 376.1L432.3 373.4L432.4 387.7L432.5 385.4L432.6 373.6L432.7 373.9L432.8 382.2L432.9 394.4L433 370.1L433.1 390.4L433.2 374.2L433.3 372.5L433.4 365.7L433.5 394.4L433.6 372.3L433.7 372.7L433.9 374.1L434 373.5L434.1 377.6L434.2 372.5L434.3 378.6L434.4 368.8L434.5 372L434.6 377.2L434.7 381L434.8 374.2L434.9 394.4L435 377.6L435.1 369.3L435.2 369.6L435.3 375.9L435.4 378.8L435.5 374.8L435.6 375.1L435.7 372.4L435.8 371.2L435.9 374.3L436 373L436.1 370L436.3 372.5L436.4 375.2L436.5 372.5L436.6 376.1L436.7 390.2L436.8 374.3L436.9 377.9L437 372.6L437.1 391.6L437.2 372.2L437.3 378.6L437.4 371L437.5 394.4L437.6 375.5L437.7 374.7L437.8 374.3L437.9 374.5L438 389.3L438.1 376.7L438.2 363.4L438.3 375.2L438.4 368.6L438.5 375.7L438.7 385.1L438.8 377.4L438.9 374L439 370.9L439.1 376.8L439.2 374L439.3 373.9L439.4 373.1L439.5 374.1L439.6 371.3L439.7 372.4L439.8 376.5L439.9 367L440 378.8L440.1 378.7L440.2 371.3L440.3 374L440.4 375.3L440.5 389.7L440.6 383.5L440.7 375.9L440.8 376.5L440.9 377.8L441.1 377.3L441.2 377.1L441.3 371L441.4 373.7L441.5 372.9L441.6 376.3L441.7 371.3L441.8 379.5L441.9 373.1L442 394.4L442.1 376.4L442.2 377.8L442.3 373L442.4 376.8L442.5 377.4L442.6 394.4L442.7 392.7L442.8 375L442.9 368.3L443 394.4L443.1 371.8L443.2 377.9L443.3 374.4L443.5 375.5L443.6 375.1L443.7 372.3L443.8 367.9L443.9 375L444 370.6L444.1 373.5L444.2 372.3L444.3 362L444.4 376.8L444.5 375.2L444.6 377L444.7 374.7L444.8 377.9L444.9 390.9L445 374.1L445.1 390L445.2 369.3L445.3 383.2L445.4 376.2L445.5 372.7L445.6 372.1L445.7 375.2L445.9 377.3L446 380.2L446.1 374.7L446.2 368.6L446.3 375.3L446.4 373.4L446.5 373.5L446.6 373.1L446.7 372.2L446.8 375.6L446.9 374.2L447 368L447.1 370.4L447.2 366.7L447.3 364.7L447.4 363.7L447.5 363.3L447.6 360.2L447.7 360.9L447.8 358L447.9 355.4L448 352.6L448.1 351.5L448.3 351L448.4 348.7L448.5 346.7L448.6 346L448.7 343.2L448.8 343.6L448.9 341L449 338.6L449.1 334.8L449.2 340.3L449.3 338.7L449.4 342.3L449.5 344L449.6 343.9L449.7 346.7L449.8 346.9L449.9 352L450 353.6L450.1 354.2L450.2 355.6L450.3 355.4L450.4 356.6L450.5 357L450.6 362.1L450.8 364.5L450.9 369L451 367.7L451.1 369.1L451.2 368.3L451.3 371.5L451.4 372.8L451.5 375L451.6 373.8L451.7 369.9L451.8 374.9L451.9 375L452 374.1L452.1 378.1L452.2 377.8L452.3 372.1L452.4 379.9L452.5 371L452.6 389.6L452.7 370.8L452.8 372.1L452.9 372.6L453 369L453.2 392.1L453.3 374.8L453.4 370.9L453.5 376.5L453.6 370.9L453.7 387.6L453.8 376L453.9 378.4L454 380.8L454.1 368.6L454.2 385.3L454.3 378.2L454.4 371.8L454.5 373L454.6 394.4L454.7 374.2L454.8 375.8L454.9 377.4L455 376.8L455.1 372.6L455.2 371.1L455.3 370.8L455.4 374.6L455.6 381.5L455.7 372.9L455.8 375L455.9 382.9L456 370.2L456.1 365.9L456.2 386.4L456.3 392.2L456.4 374.1L456.5 373.8L456.6 374.1L456.7 374.4L456.8 372.7L456.9 373.4L457 367L457.1 374L457.2 376.1L457.3 376.3L457.4 373.3L457.5 374.1L457.6 373.7L457.7 375.1L457.8 375L458 372.1L458.1 370.2L458.2 373.4L458.3 389.6L458.4 378.1L458.5 378.1L458.6 374.3L458.7 366.7L458.8 393.4L458.9 377.9L459 374.9L459.1 380.6L459.2 378.2L459.3 387.4L459.4 372.7L459.5 376.4L459.6 377.5L459.7 373.7L459.8 374.9L459.9 371.7L460 373.6L460.1 373.9L460.2 375.2L460.4 372.5L460.5 376.9L460.6 379.4L460.7 394.4L460.8 376.1L460.9 374.5L461 372.7L461.1 371.5L461.2 383.7L461.3 377.9L461.4 370.8L461.5 380L461.6 373.2L461.7 375.8L461.8 377.5L461.9 391.6L462 380L462.1 373.4L462.2 371L462.3 379.1L462.4 376.8L462.5 370.9L462.6 373.5L462.8 375.7L462.9 370.2L463 379.9L463.1 394.4L463.2 374.4L463.3 387.2L463.4 372.2L463.5 379.9L463.6 374.5L463.7 385.7L463.8 370.9L463.9 371.4L464 377L464.1 360.6L464.2 374.8L464.3 377.4L464.4 376.5L464.5 373.4L464.6 376.1L464.7 369L464.8 374.5L464.9 376.3L465 394.4L465.2 376.3L465.3 371.2L465.4 394.4L465.5 370.2L465.6 370.6L465.7 373L465.8 376.9L465.9 375.2L466 374.5L466.1 379.9L466.2 373.7L466.3 378L466.4 375L466.5 392.2L466.6 372.9L466.7 367.5L466.8 378.4L466.9 374.8L467 368.3L467.1 377.6L467.2 375.4L467.3 375L467.4 393.5L467.6 379.8L467.7 373.7L467.8 372.8L467.9 366.7L468 374.9L468.1 376.5L468.2 374.3L468.3 382.9L468.4 373.6L468.5 369.8L468.6 374.8L468.7 374.8L468.8 389.8L468.9 393.9L469 378.6L469.1 369.8L469.2 393.1L469.3 392.6L469.4 369.5L469.5 394.4L469.6 376L469.7 369.5L469.8 374.1L470 371.7L470.1 376.4L470.2 380.1L470.3 374.1L470.4 370.1L470.5 376L470.6 373.5L470.7 372.3L470.8 373.8L470.9 374.4L471 372.2L471.1 373.9L471.2 394.4L471.3 371.3L471.4 393.8L471.5 373.4L471.6 372.3L471.7 389.9L471.8 373.7L471.9 374.4L472 380.8L472.1 368.1L472.2 373.5L472.3 375.9L472.5 375.7L472.6 373.7L472.7 374.6L472.8 379.6L472.9 375.8L473 373.1L473.1 372.6L473.2 371.8L473.3 385.9L473.4 376.5L473.5 373.4L473.6 376.4L473.7 373.9L473.8 377.1L473.9 372.7L474 374.3L474.1 372.7L474.2 374.4L474.3 377L474.4 378.3L474.5 374.3L474.6 376.4L474.7 379.1L474.9 394.4L475 372L475.1 370.6L475.2 372.1L475.3 370.2L475.4 375.6L475.5 374.9L475.6 377.4L475.7 376.9L475.8 369.4L475.9 373.1L476 372.4L476.1 366.3L476.2 368.4L476.3 377.1L476.4 371.3L476.5 394.4L476.6 371.3L476.7 380.3L476.8 377.3L476.9 394.4L477 391.3L477.1 380L477.3 370.9L477.4 371L477.5 374L477.6 371.8L477.7 366.3L477.8 392.8L477.9 375.3L478 370.1L478.1 394.4L478.2 378L478.3 373.8L478.4 373.5L478.5 378L478.6 377.4L478.7 376.5L478.8 366.2L478.9 372.8L479 373.5L479.1 368.6L479.2 375.7L479.3 373.9L479.4 378.7L479.5 375.3L479.7 373.5L479.8 379.8L479.9 375.4L480 381.9L480.1 384.8L480.2 376.8L480.3 379.1L480.4 380.3L480.5 388.4L480.6 370.5L480.7 377.2L480.8 376.4L480.9 375.8L481 379.3L481.1 372.2L481.2 382.5L481.3 371.8L481.4 377L481.5 374.5L481.6 373.7L481.7 372L481.8 378.6L481.9 383.8L482.1 374.8L482.2 392.8L482.3 375.5L482.4 371.1L482.5 392.6L482.6 370.6L482.7 371.8L482.8 380.9L482.9 390.4L483 392.8L483.1 377.5L483.2 380L483.3 392.4L483.4 368.4L483.5 377.6L483.6 374.2L483.7 378.1L483.8 373.4L483.9 369.4L484 385.6L484.1 374.9L484.2 377.1L484.3 380.7L484.5 377.5L484.6 374.6L484.7 394.4L484.8 394.4L484.9 394.2L485 380L485.1 372.6L485.2 374.7L485.3 374.7L485.4 378.3L485.5 375.2L485.6 385.5L485.7 369.9L485.8 370.6L485.9 372.6L486 375.9L486.1 374.7L486.2 374.2L486.3 373.4L486.4 375.8L486.5 377.4L486.6 371.1L486.7 375.9L486.9 372L487 375.2L487.1 372.5L487.2 373L487.3 372.3L487.4 372.5L487.5 377.7L487.6 379L487.7 374.8L487.8 369.4L487.9 377.3L488 377.6L488.1 367.4L488.2 379.6L488.3 376.5L488.4 376L488.5 372.8L488.6 376.7L488.7 369.8L488.8 370.3L488.9 366.7L489 366.8L489.1 363.8L489.3 365.6L489.4 359L489.5 357.2L489.6 357.7L489.7 359.2L489.8 351.6L489.9 350.2L490 349.8L490.1 347L490.2 348.6L490.3 342.2L490.4 343.4L490.5 337.5L490.6 340.7L490.7 337.3L490.8 337.1L490.9 338L491 341.5L491.1 341.9L491.2 342.6L491.3 344.5L491.4 345.4L491.5 350.7L491.6 348.5L491.8 356.2L491.9 354.3L492 355.1L492.1 359.4L492.2 365L492.3 360.8L492.4 363.1L492.5 362.9L492.6 364.6L492.7 370.3L492.8 368.5L492.9 371.3L493 373.6L493.1 372.6L493.2 372.3L493.3 376.2L493.4 379.6L493.5 373.8L493.6 380.4L493.7 374.1L493.8 372.3L493.9 373.1L494 371.8L494.2 374.9L494.3 368.4L494.4 394.4L494.5 372.2L494.6 371.3L494.7 377.1L494.8 378.3L494.9 372.2L495 378.7L495.1 376.6L495.2 371.6L495.3 378.2L495.4 377.8L495.5 383.6L495.6 378L495.7 392.5L495.8 373L495.9 393.6L496 380.9L496.1 382.3L496.2 378.4L496.3 371.4L496.4 371L496.6 392.4L496.7 380.3L496.8 372.7L496.9 362L497 373.3L497.1 372.6L497.2 390.8L497.3 374.3L497.4 375.6L497.5 370.8L497.6 375.7L497.7 380.7L497.8 370.7L497.9 369L498 371.7L498.1 384.2L498.2 377.8L498.3 371.6L498.4 376.4L498.5 385.9L498.6 372.3L498.7 375.2L498.8 381.1L499 373.2L499.1 385.1L499.2 379.7L499.3 374.9L499.4 374.3L499.5 375.1L499.6 372.8L499.7 380.8L499.8 372.9L499.9 369.6L500 375L500.1 376.4L500.2 375.3L500.3 370.9L500.4 375.4L500.5 377.3L500.6 380.2L500.7 370.3L500.8 370.2L500.9 374.7L501 368.2L501.1 376L501.2 372.5L501.4 378.9L501.5 377.9L501.6 374.8L501.7 373.2L501.8 372.8L501.9 377.6L502 376.4L502.1 391.9L502.2 375.6L502.3 375.6L502.4 372.2L502.5 394.4L502.6 380.6L502.7 370.6L502.8 386.2L502.9 373.7L503 373.7L503.1 371.8L503.2 372.5L503.3 379.6L503.4 385.6L503.5 378.3L503.6 373.5L503.8 394.4L503.9 379.6L504 374.7L504.1 375.5L504.2 376.8L504.3 364L504.4 374.2L504.5 375.9L504.6 383.5L504.7 374.8L504.8 375.1L504.9 394.4L505 372.8L505.1 385.8L505.2 368.6L505.3 377.9L505.4 371.4L505.5 388.8L505.6 372.4L505.7 374.7L505.8 379.9L505.9 374.1L506 376.4L506.2 365.4L506.3 372.8L506.4 375.1L506.5 375.4L506.6 368.4L506.7 376.4L506.8 381.3L506.9 381.7L507 373L507.1 375.4L507.2 377.1L507.3 381.4L507.4 377.3L507.5 394.4L507.6 375.1L507.7 377.4L507.8 377.5L507.9 374.9L508 377.2L508.1 373.7L508.2 385.6L508.3 378.7L508.4 370.9L508.6 394.4L508.7 378.2L508.8 375.4L508.9 376.6L509 375.9L509.1 370.3L509.2 391.1L509.3 384.6L509.4 377.5L509.5 377.1L509.6 379.7L509.7 376.9L509.8 376.1L509.9 375.8L510 374.6L510.1 374.5L510.2 394.4L510.3 375.5L510.4 370.6L510.5 372.9L510.6 370.4L510.7 374.9L510.8 370.9L510.9 367.6L511.1 380L511.2 374.8L511.3 375.3L511.4 379.4L511.5 377.9L511.6 391.5L511.7 367.6" fill="none" stroke="url(#gOr)" stroke-width="0.7" stroke-linejoin="round"/><path d="M261.3 404.2L261.5 394.3L261.8 394.3M262.3 394.3L262.5 404.2L262.8 404.2L263 394.3L263.2 394.3L263.5 404.2L263.7 394.3L264 394.3L264.2 404.2M264.7 394.3L265 404.2L265.2 404.2M265.7 394.3M266.2 394.3L266.4 394.3L266.7 394.3L266.9 394.3L267.1 404.2L267.4 404.2M267.9 404.2L268.1 404.2L268.4 404.2L268.6 404.2L268.8 404.2L269.1 404.2M269.6 394.3L269.8 404.2L270.1 404.2L270.3 404.2M270.8 404.2L271 394.3L271.3 394.3L271.5 404.2M272 394.3L272.3 404.2L272.5 394.3L272.7 404.2L273 394.3L273.2 394.3L273.5 404.2L273.7 394.3M274.2 394.3L274.4 394.3L274.7 394.3L274.9 404.2L275.2 394.3M275.9 394.3M276.6 394.3M277.1 404.2L277.4 404.2L277.6 394.3L277.9 394.3L278.1 404.2L278.3 394.3M278.8 394.3M279.6 404.2L279.8 394.3L280 404.2L280.3 404.2L280.5 404.2M281.5 404.2L281.7 404.2L282 394.3L282.2 404.2L282.5 404.2L282.7 404.2M283.2 404.2M283.7 394.3L283.9 394.3M284.4 404.2M284.9 394.3L285.2 394.3L285.4 404.2L285.6 404.2L285.9 404.2M286.4 394.3L286.6 404.2M287.3 404.2M288.1 404.2L288.3 404.2M288.8 404.2L289.1 404.2L289.3 394.3L289.5 394.3M290 394.3L290.3 394.3L290.5 404.2L290.8 404.2L291 404.2L291.2 404.2L291.5 394.3M292.2 394.3L292.5 404.2L292.7 404.2L292.9 404.2L293.2 394.3L293.4 404.2L293.7 394.3L293.9 394.3M294.9 394.3L295.1 394.3L295.4 404.2L295.6 394.3M296.1 404.2L296.4 404.2L296.6 404.2L296.8 404.2L297.1 404.2M297.6 404.2L297.8 404.2L298.1 394.3M298.8 394.3L299 394.3L299.3 404.2M299.8 404.2L300 404.2L300.2 394.3L300.5 404.2L300.7 394.3L301 394.3M301.5 394.3L301.7 394.3L302 404.2L302.2 404.2L302.4 394.3L302.7 394.3M303.2 404.2L303.4 404.2L303.7 394.3L303.9 394.3M304.4 394.3M305.4 394.3L305.6 404.2L305.8 394.3L306.1 404.2L306.3 404.2L306.6 394.3L306.8 394.3M307.3 404.2L307.6 394.3L307.8 404.2L308 394.3L308.3 404.2L308.5 394.3L308.8 404.2L309 394.3L309.3 394.3L309.5 404.2M310.2 394.3L310.5 394.3L310.7 404.2L311 394.3L311.2 394.3L311.4 394.3L311.7 404.2L311.9 394.3M312.4 404.2M312.9 394.3M313.4 404.2L313.6 394.3L313.9 394.3L314.1 394.3L314.4 404.2M315.1 404.2L315.3 404.2L315.6 394.3L315.8 394.3L316.1 404.2L316.3 394.3L316.6 394.3L316.8 404.2L317 394.3L317.3 404.2M317.8 394.3L318 394.3L318.3 394.3L318.5 404.2M319.2 394.3L319.5 394.3L319.7 394.3M320.2 404.2L320.5 394.3M320.9 404.2M321.4 394.3M321.9 404.2L322.2 394.3L322.4 404.2L322.6 404.2L322.9 404.2M323.4 404.2L323.6 404.2L323.9 404.2M324.3 394.3M324.8 394.3L325.1 394.3L325.3 404.2L325.6 394.3L325.8 404.2L326.1 394.3M326.5 394.3L326.8 394.3M327.3 404.2L327.5 394.3L327.8 394.3M328.2 404.2L328.5 404.2L328.7 404.2L329 394.3L329.2 394.3M329.7 404.2L329.9 394.3L330.2 394.3L330.4 404.2L330.7 404.2L330.9 404.2M331.4 394.3L331.6 404.2L331.9 394.3L332.1 404.2L332.4 404.2M332.9 394.3L333.1 394.3L333.4 404.2L333.6 394.3L333.8 404.2L334.1 404.2L334.3 404.2L334.6 394.3L334.8 404.2M335.3 394.3L335.5 404.2L335.8 404.2L336 394.3M336.5 394.3L336.8 394.3L337 404.2L337.2 404.2L337.5 404.2M338 404.2L338.2 404.2M338.7 404.2L339 394.3L339.2 404.2L339.4 394.3L339.7 404.2L339.9 394.3M340.4 404.2L340.7 394.3L340.9 404.2L341.1 404.2L341.4 394.3L341.6 394.3L341.9 404.2L342.1 404.2M342.6 404.2L342.8 404.2L343.1 394.3L343.3 394.3M343.8 394.3M344.3 404.2L344.6 404.2M345 404.2L345.3 404.2L345.5 404.2L345.8 394.3M346.5 394.3L346.7 394.3M347.2 394.3L347.5 394.3L347.7 404.2L348 394.3L348.2 404.2L348.4 394.3M348.9 394.3L349.2 394.3L349.4 394.3M349.9 394.3M350.4 404.2L350.6 394.3L350.9 394.3L351.1 394.3L351.4 394.3L351.6 394.3M352.1 394.3L352.3 404.2M352.8 394.3L353.1 404.2L353.3 404.2M354 404.2L354.3 404.2M355 394.3M355.5 404.2M356 404.2L356.2 404.2L356.5 394.3L356.7 404.2M357.2 404.2L357.5 404.2L357.7 394.3L357.9 394.3L358.2 394.3L358.4 394.3L358.7 394.3L358.9 404.2M359.4 404.2L359.6 404.2L359.9 394.3M360.4 394.3L360.6 404.2L360.9 394.3L361.1 394.3M361.6 394.3L361.8 404.2L362.1 394.3M362.6 394.3L362.8 394.3L363.1 404.2L363.3 394.3L363.5 404.2L363.8 404.2L364 394.3L364.3 404.2L364.5 394.3M365 394.3L365.2 394.3M365.7 394.3M366.5 404.2L366.7 404.2L366.9 394.3M367.4 394.3L367.7 394.3L367.9 404.2L368.2 394.3L368.4 404.2L368.7 394.3L368.9 404.2L369.1 404.2L369.4 394.3M370.1 394.3L370.4 394.3L370.6 394.3L370.8 404.2L371.1 394.3L371.3 404.2L371.6 404.2L371.8 404.2L372.1 394.3L372.3 404.2M373.3 394.3M373.8 394.3M374.7 394.3L375 404.2M375.5 394.3L375.7 394.3M376.4 404.2L376.7 404.2L376.9 394.3L377.2 394.3L377.4 404.2L377.7 404.2L377.9 404.2L378.1 394.3L378.4 404.2L378.6 394.3M379.1 404.2L379.4 394.3M379.8 404.2L380.1 394.3L380.3 404.2M380.8 394.3L381.1 394.3L381.3 394.3L381.6 394.3L381.8 394.3L382 404.2M382.8 404.2M383.3 394.3L383.5 404.2L383.7 394.3L384 404.2L384.2 394.3L384.5 394.3L384.7 404.2L385 404.2L385.2 404.2L385.4 394.3M386.2 404.2L386.4 404.2L386.7 394.3L386.9 394.3L387.2 404.2L387.4 394.3L387.6 404.2L387.9 404.2L388.1 404.2L388.4 404.2L388.6 404.2L388.9 394.3L389.1 394.3L389.3 404.2L389.6 394.3L389.8 394.3L390.1 404.2L390.3 404.2M390.8 404.2M391.3 404.2M391.8 394.3M392.3 394.3M393 404.2L393.2 394.3L393.5 404.2L393.7 394.3M394.2 404.2M394.9 404.2M395.4 404.2M395.9 404.2L396.2 394.3L396.4 404.2L396.6 394.3M397.1 404.2M397.6 404.2L397.9 394.3L398.1 394.3L398.3 394.3M398.8 394.3L399.1 404.2L399.3 404.2M400.3 404.2L400.5 394.3M401 394.3L401.3 404.2M401.8 404.2L402 404.2M402.7 404.2L403 404.2M403.5 404.2L403.7 404.2M404.2 404.2M404.9 394.3L405.2 394.3M405.9 404.2L406.1 404.2L406.4 404.2L406.6 394.3M407.4 404.2M407.8 394.3L408.1 404.2L408.3 394.3L408.6 404.2M409.1 404.2M409.5 404.2L409.8 394.3M410.5 404.2M411 404.2L411.2 404.2L411.5 394.3L411.7 404.2M412.5 394.3L412.7 404.2L413 394.3L413.2 394.3L413.4 394.3L413.7 394.3L413.9 404.2L414.2 404.2L414.4 404.2L414.7 404.2L414.9 404.2L415.1 394.3L415.4 404.2L415.6 394.3L415.9 394.3L416.1 404.2L416.4 404.2L416.6 404.2L416.8 394.3L417.1 394.3M417.6 404.2L417.8 404.2L418.1 394.3L418.3 394.3M419 394.3L419.3 404.2L419.5 404.2L419.8 404.2L420 394.3L420.3 404.2L420.5 404.2L420.7 394.3M421.2 394.3L421.5 404.2L421.7 394.3L422 394.3M422.7 404.2M423.2 394.3L423.4 404.2M423.9 394.3L424.2 404.2L424.4 394.3M424.9 394.3M425.4 404.2L425.6 394.3L425.9 404.2L426.1 394.3M426.6 394.3M427.1 404.2L427.3 394.3L427.6 404.2M428.3 404.2M429 394.3M429.5 394.3L429.8 404.2L430 404.2L430.2 394.3M431 404.2L431.2 404.2L431.5 394.3L431.7 394.3L431.9 404.2L432.2 404.2L432.4 394.3L432.7 404.2L432.9 404.2L433.2 404.2L433.4 404.2L433.6 404.2L433.9 404.2L434.1 404.2L434.4 394.3L434.6 404.2L434.9 394.3L435.1 404.2L435.3 404.2M435.8 404.2M436.6 404.2L436.8 394.3L437.1 394.3L437.3 394.3L437.5 404.2L437.8 394.3M438.5 404.2L438.8 394.3L439 394.3L439.2 394.3L439.5 394.3L439.7 404.2L440 404.2L440.2 404.2L440.5 404.2M441.2 394.3L441.4 404.2L441.7 404.2L441.9 394.3L442.2 404.2L442.4 394.3M442.9 404.2L443.1 394.3M443.6 404.2L443.9 394.3L444.1 404.2L444.4 394.3M444.8 404.2L445.1 404.2M445.6 404.2L445.8 394.3L446.1 404.2L446.3 404.2L446.5 394.3L446.8 404.2M447.3 404.2L447.5 404.2L447.8 394.3L448 394.3M449 404.2L449.2 404.2L449.5 404.2L449.7 404.2L450 394.3L450.2 404.2L450.4 394.3L450.7 404.2L450.9 404.2M451.4 404.2L451.7 394.3M452.1 394.3L452.4 404.2L452.6 394.3L452.9 394.3L453.1 404.2L453.4 404.2L453.6 394.3L453.8 404.2L454.1 394.3L454.3 404.2L454.6 394.3L454.8 404.2L455.1 404.2L455.3 404.2L455.6 394.3L455.8 404.2L456 404.2L456.3 394.3L456.5 404.2M457 394.3L457.3 394.3M457.7 404.2L458 404.2M458.5 394.3L458.7 404.2L459 404.2L459.2 394.3M459.7 394.3M460.2 404.2L460.4 404.2M460.9 394.3M461.4 404.2L461.6 404.2L461.9 404.2M462.4 394.3M462.9 394.3L463.1 394.3L463.3 404.2L463.6 404.2L463.8 404.2L464.1 394.3M464.6 404.2L464.8 404.2M465.3 394.3L465.5 394.3L465.8 404.2L466 394.3L466.3 394.3L466.5 404.2L466.8 394.3L467 394.3L467.2 394.3L467.5 394.3L467.7 404.2L468 394.3L468.2 404.2L468.5 394.3M468.9 404.2L469.2 394.3L469.4 394.3M469.9 394.3L470.2 404.2L470.4 404.2L470.6 394.3L470.9 404.2M471.4 404.2M471.9 404.2L472.1 394.3M473.1 404.2L473.3 394.3L473.6 394.3L473.8 404.2L474.1 394.3L474.3 394.3L474.5 404.2L474.8 394.3L475 404.2L475.3 404.2L475.5 404.2M476 404.2L476.2 394.3L476.5 394.3L476.7 394.3M477.2 404.2L477.5 404.2L477.7 394.3L477.9 404.2M478.4 394.3M478.9 404.2L479.2 394.3L479.4 394.3M479.9 394.3L480.1 404.2M480.9 394.3L481.1 394.3L481.4 404.2L481.6 394.3L481.8 394.3L482.1 394.3L482.3 404.2M482.8 394.3L483.1 404.2M483.5 404.2L483.8 394.3L484 394.3M485 404.2L485.3 404.2L485.5 394.3L485.7 404.2L486 404.2M486.5 404.2M487.4 394.3L487.7 404.2M488.4 394.3L488.7 404.2L488.9 394.3M489.4 404.2L489.6 394.3L489.9 404.2L490.1 394.3L490.4 404.2L490.6 394.3L490.8 404.2L491.1 394.3M492.1 394.3L492.3 404.2L492.6 394.3L492.8 404.2L493 404.2L493.3 394.3M493.8 404.2L494 394.3M495.2 394.3L495.5 404.2M496 394.3L496.2 404.2M496.7 404.2M497.2 404.2L497.4 394.3L497.7 404.2M498.2 394.3L498.4 394.3M498.9 404.2L499.1 394.3L499.4 394.3L499.6 404.2M500.6 394.3L500.8 404.2L501.1 404.2L501.3 404.2L501.6 394.3M502 404.2L502.3 404.2L502.5 394.3L502.8 404.2L503 394.3L503.3 404.2L503.5 404.2L503.8 404.2L504 404.2L504.2 404.2L504.5 394.3L504.7 404.2L505 404.2L505.2 394.3M505.7 404.2M506.2 394.3M506.7 394.3L506.9 394.3L507.2 404.2L507.4 394.3L507.6 404.2L507.9 394.3L508.1 394.3L508.4 404.2M508.9 394.3L509.1 394.3L509.4 394.3M509.8 394.3L510.1 394.3M510.8 404.2L511.1 394.3L511.3 404.2L511.5 394.3" fill="none" stroke="#8db2e6" stroke-width="0.5" stroke-linejoin="round"/><path d="M261.4 394.3L261.9 394.3M262.7 404.2L263.1 404.2L263.5 404.2L263.9 404.2M265.6 404.2L266 394.3M267.7 404.2L268.1 404.2L268.5 404.2M269.4 394.3M270.6 394.3L271 404.2M271.9 394.3L272.3 404.2L272.7 394.3M273.5 394.3M274.4 404.2M275.2 404.2L275.6 404.2M276.9 404.2L277.3 394.3M279 404.2M279.8 394.3M281.1 394.3L281.5 394.3M282.3 404.2L282.7 394.3L283.1 404.2L283.6 404.2M287.3 394.3L287.7 394.3L288.1 404.2M289.4 394.3M292.3 404.2M293.6 404.2M295.2 404.2M297.3 404.2M298.2 394.3L298.6 404.2L299 404.2L299.4 394.3M300.7 404.2M302.3 394.3L302.8 394.3L303.2 394.3M304 404.2M306.9 394.3M308.2 394.3L308.6 404.2M310.3 394.3L310.7 404.2M314.4 404.2M316.1 404.2M317.4 404.2M319 404.2M320.3 404.2M321.9 404.2M322.8 404.2L323.2 404.2M324 404.2L324.5 394.3L324.9 394.3L325.3 394.3L325.7 394.3M327.8 404.2L328.2 394.3L328.6 394.3M329.5 404.2L329.9 394.3M331.1 404.2M332 404.2L332.4 394.3L332.8 394.3L333.2 404.2M334 404.2M334.9 394.3L335.3 404.2M338.2 404.2L338.6 404.2L339.1 394.3M342 404.2L342.4 394.3M343.2 404.2L343.6 394.3M344.5 404.2M348.2 404.2M349.1 394.3M350.7 394.3M351.6 394.3M353.7 404.2L354.1 394.3M355.7 404.2L356.2 404.2M357.4 404.2M360.3 394.3M361.6 394.3M366.6 394.3M368.3 394.3L368.7 394.3M369.5 404.2L369.9 404.2M373.7 404.2L374.1 404.2M374.9 404.2M377.9 404.2M379.1 394.3L379.5 404.2M381.6 394.3M382.9 394.3M383.7 394.3M385.8 394.3L386.2 394.3M387.9 404.2L388.3 404.2M389.6 404.2L390 404.2M390.8 404.2M392.5 404.2M393.3 394.3M395.8 394.3L396.2 404.2M397.9 404.2M398.7 404.2L399.1 404.2L399.6 394.3L400 394.3L400.4 404.2M401.7 394.3M402.5 404.2M404.6 404.2M405.4 394.3M406.7 404.2L407.1 394.3L407.5 394.3L407.9 394.3M409.2 404.2M411.7 394.3L412.1 394.3M413.3 394.3L413.8 394.3L414.2 394.3M415.8 404.2M418.8 404.2L419.2 404.2L419.6 404.2M420.4 394.3M421.7 394.3M423.4 404.2L423.8 394.3M425 394.3M425.9 404.2M427.9 394.3M430 404.2M431.3 394.3M432.5 394.3L432.9 404.2M433.8 394.3M435.5 394.3M436.3 404.2M438 394.3M439.2 404.2M440.9 404.2M441.7 394.3L442.1 394.3M443.8 394.3L444.2 394.3M445.1 394.3M446.7 404.2L447.1 404.2M448 404.2L448.4 404.2L448.8 404.2L449.2 404.2M452.6 404.2M453.4 394.3M454.6 404.2L455.1 394.3L455.5 394.3M457.2 404.2M458 404.2M458.8 394.3M459.7 404.2M460.5 404.2M463 394.3L463.4 404.2M465.5 404.2L465.9 404.2L466.3 394.3L466.8 394.3M467.6 404.2L468 404.2M469.3 404.2M470.1 394.3M470.9 404.2L471.3 394.3L471.8 404.2M475.1 404.2M475.9 404.2M478 404.2L478.4 394.3L478.9 404.2M479.7 404.2L480.1 404.2L480.5 394.3L480.9 394.3L481.4 394.3M482.2 394.3L482.6 404.2L483 404.2M483.9 404.2L484.3 404.2M485.1 394.3L485.5 404.2M486.4 394.3L486.8 394.3M488 404.2M489.3 394.3L489.7 404.2M492.2 394.3L492.6 394.3L493 404.2L493.5 404.2L493.9 404.2L494.3 404.2L494.7 394.3M496 394.3M496.8 394.3M497.6 404.2M498.5 404.2M499.3 394.3L499.7 394.3L500.1 404.2M501 404.2L501.4 404.2L501.8 404.2M502.6 404.2M504.3 404.2M505.6 404.2L506 404.2M508.1 404.2L508.5 404.2L508.9 394.3M509.7 394.3" fill="none" stroke="#3d70c2" stroke-width="0.5" stroke-linejoin="round"/><path d="M261.3 264.2V403" stroke="#9fb3d6" stroke-width="0.9"/><path d="M344.8 264.2V403" stroke="#9fb3d6" stroke-width="0.9"/><path d="M428.2 264.2V403" stroke="#9fb3d6" stroke-width="0.9"/><path d="M281.3 404L281.8 366L282.6 366L283.1 404Z" fill="#fff"/><path d="M280.4 362.7L280.5 360.9L280.6 359.1L280.8 357.1L280.9 355.2L281.1 353.2L281.2 351.1L281.3 349L281.5 346.9L281.6 344.8L281.7 342.7L281.9 340.5L282 338.3L282.2 336.1L282.3 338.3L282.4 340.5L282.6 342.7L282.7 344.8L282.9 346.9L283 349L283.1 351.1L283.3 353.2L283.4 355.2L283.6 357.1L283.7 359.1L283.8 360.9L284 362.7" fill="none" stroke="#d35a22" stroke-width="0.7"/><path d="M323 404L323.5 366L324.3 366L324.8 404Z" fill="#fff"/><path d="M322.1 362.7L322.2 360.9L322.4 359.1L322.5 357.1L322.6 355.2L322.8 353.2L322.9 351.1L323.1 349L323.2 346.9L323.3 344.8L323.5 342.7L323.6 340.5L323.8 338.3L323.9 336.1L324 338.3L324.2 340.5L324.3 342.7L324.5 344.8L324.6 346.9L324.7 349L324.9 351.1L325 353.2L325.1 355.2L325.3 357.1L325.4 359.1L325.6 360.9L325.7 362.7" fill="none" stroke="#d35a22" stroke-width="0.7"/><path d="M364.7 404L365.2 366L366 366L366.5 404Z" fill="#fff"/><path d="M363.8 362.7L364 360.9L364.1 359.1L364.2 357.1L364.4 355.2L364.5 353.2L364.7 351.1L364.8 349L364.9 346.9L365.1 344.8L365.2 342.7L365.3 340.5L365.5 338.3L365.6 336.1L365.8 338.3L365.9 340.5L366 342.7L366.2 344.8L366.3 346.9L366.5 349L366.6 351.1L366.7 353.2L366.9 355.2L367 357.1L367.2 359.1L367.3 360.9L367.4 362.7" fill="none" stroke="#d35a22" stroke-width="0.7"/><path d="M406.5 404L407 366L407.8 366L408.3 404Z" fill="#fff"/><path d="M405.5 362.7L405.7 360.9L405.8 359.1L406 357.1L406.1 355.2L406.2 353.2L406.4 351.1L406.5 349L406.7 346.9L406.8 344.8L406.9 342.7L407.1 340.5L407.2 338.3L407.4 336.1L407.5 338.3L407.6 340.5L407.8 342.7L407.9 344.8L408.1 346.9L408.2 349L408.3 351.1L408.5 353.2L408.6 355.2L408.7 357.1L408.9 359.1L409 360.9L409.2 362.7" fill="none" stroke="#d35a22" stroke-width="0.7"/><path d="M448.2 404L448.7 366L449.5 366L450 404Z" fill="#fff"/><path d="M447.3 362.7L447.4 360.9L447.6 359.1L447.7 357.1L447.8 355.2L448 353.2L448.1 351.1L448.3 349L448.4 346.9L448.5 344.8L448.7 342.7L448.8 340.5L448.9 338.3L449.1 336.1L449.2 338.3L449.4 340.5L449.5 342.7L449.6 344.8L449.8 346.9L449.9 349L450.1 351.1L450.2 353.2L450.3 355.2L450.5 357.1L450.6 359.1L450.8 360.9L450.9 362.7" fill="none" stroke="#d35a22" stroke-width="0.7"/><path d="M489.9 404L490.4 366L491.2 366L491.7 404Z" fill="#fff"/><path d="M489 362.7L489.1 360.9L489.3 359.1L489.4 357.1L489.6 355.2L489.7 353.2L489.8 351.1L490 349L490.1 346.9L490.3 344.8L490.4 342.7L490.5 340.5L490.7 338.3L490.8 336.1L491 338.3L491.1 340.5L491.2 342.7L491.4 344.8L491.5 346.9L491.6 349L491.8 351.1L491.9 353.2L492.1 355.2L492.2 357.1L492.3 359.1L492.5 360.9L492.6 362.7" fill="none" stroke="#d35a22" stroke-width="0.7"/><rect x="254.5" y="257.5" width="262" height="146.7" fill="none" stroke="#8a8a8a" stroke-width="1"/><path d="M261.3 404.2v-2.5M261.3 257.5v2.5" stroke="#777" stroke-width="0.8"/><text x="261.3" y="416.6" font-size="9.3" text-anchor="middle" fill="#262626" font-family='"Liberation Sans", sans-serif' >0</text><path d="M303 404.2v-2.5M303 257.5v2.5" stroke="#777" stroke-width="0.8"/><text x="303" y="416.6" font-size="9.3" text-anchor="middle" fill="#262626" font-family='"Liberation Sans", sans-serif' >60</text><path d="M344.8 404.2v-2.5M344.8 257.5v2.5" stroke="#777" stroke-width="0.8"/><text x="344.8" y="416.6" font-size="9.3" text-anchor="middle" fill="#262626" font-family='"Liberation Sans", sans-serif' >120</text><path d="M386.5 404.2v-2.5M386.5 257.5v2.5" stroke="#777" stroke-width="0.8"/><text x="386.5" y="416.6" font-size="9.3" text-anchor="middle" fill="#262626" font-family='"Liberation Sans", sans-serif' >180</text><path d="M428.2 404.2v-2.5M428.2 257.5v2.5" stroke="#777" stroke-width="0.8"/><text x="428.2" y="416.6" font-size="9.3" text-anchor="middle" fill="#262626" font-family='"Liberation Sans", sans-serif' >240</text><path d="M470 404.2v-2.5M470 257.5v2.5" stroke="#777" stroke-width="0.8"/><text x="470" y="416.6" font-size="9.3" text-anchor="middle" fill="#262626" font-family='"Liberation Sans", sans-serif' >300</text><path d="M511.7 404.2v-2.5M511.7 257.5v2.5" stroke="#777" stroke-width="0.8"/><text x="511.7" y="416.6" font-size="9.3" text-anchor="middle" fill="#262626" font-family='"Liberation Sans", sans-serif' >360</text><path d="M254.5 404.2h2.5M516.5 404.2h-2.5" stroke="#777" stroke-width="0.7"/><path d="M254.5 394.3h1.3M516.5 394.3h-1.3" stroke="#999" stroke-width="0.5"/><path d="M254.5 388.6h1.3M516.5 388.6h-1.3" stroke="#999" stroke-width="0.5"/><path d="M254.5 384.5h1.3M516.5 384.5h-1.3" stroke="#999" stroke-width="0.5"/><path d="M254.5 381.3h1.3M516.5 381.3h-1.3" stroke="#999" stroke-width="0.5"/><path d="M254.5 378.7h1.3M516.5 378.7h-1.3" stroke="#999" stroke-width="0.5"/><path d="M254.5 376.5h1.3M516.5 376.5h-1.3" stroke="#999" stroke-width="0.5"/><path d="M254.5 374.6h1.3M516.5 374.6h-1.3" stroke="#999" stroke-width="0.5"/><path d="M254.5 372.9h1.3M516.5 372.9h-1.3" stroke="#999" stroke-width="0.5"/><path d="M254.5 371.4h2.5M516.5 371.4h-2.5" stroke="#777" stroke-width="0.7"/><path d="M254.5 361.5h1.3M516.5 361.5h-1.3" stroke="#999" stroke-width="0.5"/><path d="M254.5 355.8h1.3M516.5 355.8h-1.3" stroke="#999" stroke-width="0.5"/><path d="M254.5 351.7h1.3M516.5 351.7h-1.3" stroke="#999" stroke-width="0.5"/><path d="M254.5 348.5h1.3M516.5 348.5h-1.3" stroke="#999" stroke-width="0.5"/><path d="M254.5 345.9h1.3M516.5 345.9h-1.3" stroke="#999" stroke-width="0.5"/><path d="M254.5 343.7h1.3M516.5 343.7h-1.3" stroke="#999" stroke-width="0.5"/><path d="M254.5 341.8h1.3M516.5 341.8h-1.3" stroke="#999" stroke-width="0.5"/><path d="M254.5 340.1h1.3M516.5 340.1h-1.3" stroke="#999" stroke-width="0.5"/><path d="M254.5 338.6h2.5M516.5 338.6h-2.5" stroke="#777" stroke-width="0.7"/><path d="M254.5 328.7h1.3M516.5 328.7h-1.3" stroke="#999" stroke-width="0.5"/><path d="M254.5 323h1.3M516.5 323h-1.3" stroke="#999" stroke-width="0.5"/><path d="M254.5 318.9h1.3M516.5 318.9h-1.3" stroke="#999" stroke-width="0.5"/><path d="M254.5 315.7h1.3M516.5 315.7h-1.3" stroke="#999" stroke-width="0.5"/><path d="M254.5 313.1h1.3M516.5 313.1h-1.3" stroke="#999" stroke-width="0.5"/><path d="M254.5 310.9h1.3M516.5 310.9h-1.3" stroke="#999" stroke-width="0.5"/><path d="M254.5 309h1.3M516.5 309h-1.3" stroke="#999" stroke-width="0.5"/><path d="M254.5 307.3h1.3M516.5 307.3h-1.3" stroke="#999" stroke-width="0.5"/><path d="M254.5 305.8h2.5M516.5 305.8h-2.5" stroke="#777" stroke-width="0.7"/><path d="M254.5 295.9h1.3M516.5 295.9h-1.3" stroke="#999" stroke-width="0.5"/><path d="M254.5 290.2h1.3M516.5 290.2h-1.3" stroke="#999" stroke-width="0.5"/><path d="M254.5 286.1h1.3M516.5 286.1h-1.3" stroke="#999" stroke-width="0.5"/><path d="M254.5 282.9h1.3M516.5 282.9h-1.3" stroke="#999" stroke-width="0.5"/><path d="M254.5 280.3h1.3M516.5 280.3h-1.3" stroke="#999" stroke-width="0.5"/><path d="M254.5 278.1h1.3M516.5 278.1h-1.3" stroke="#999" stroke-width="0.5"/><path d="M254.5 276.2h1.3M516.5 276.2h-1.3" stroke="#999" stroke-width="0.5"/><path d="M254.5 274.5h1.3M516.5 274.5h-1.3" stroke="#999" stroke-width="0.5"/><path d="M254.5 273h2.5M516.5 273h-2.5" stroke="#777" stroke-width="0.7"/><path d="M254.5 263.1h1.3M516.5 263.1h-1.3" stroke="#999" stroke-width="0.5"/><text x="252.2" y="409.5" font-size="9.3" text-anchor="end" fill="#262626" font-family='"Liberation Sans", sans-serif'>10<tspan font-size="6.3" dy="-5">0</tspan></text><text x="252.2" y="343.9" font-size="9.3" text-anchor="end" fill="#262626" font-family='"Liberation Sans", sans-serif'>10<tspan font-size="6.3" dy="-5">2</tspan></text><text x="252.2" y="278.3" font-size="9.3" text-anchor="end" fill="#262626" font-family='"Liberation Sans", sans-serif'>10<tspan font-size="6.3" dy="-5">4</tspan></text><text x="387" y="430.6" font-size="10.2" text-anchor="middle" fill="#262626" font-family='"Liberation Sans", sans-serif' ><tspan font-size="9">Φ</tspan> (°)</text><text transform="translate(235.2,329.8) rotate(-90)" font-size="11" text-anchor="middle" fill="#262626" font-family='"Liberation Sans", sans-serif'>Intensity (arb. units)</text><rect x="458.8" y="260.4" width="57" height="27.6" fill="#fff" stroke="#8a8a8a" stroke-width="0.8"/><path d="M460 267.8H470.8" stroke="#8a8a8a" stroke-width="0.6"/><path d="M460 281H470.8" stroke="#e06a50" stroke-width="0.6"/><text x="471.5" y="268.8" font-size="7.3" fill="#1a1a1a" font-family='"Liberation Sans", sans-serif'>Al<tspan font-size="5.6" dy="3">2</tspan><tspan dy="-3">O</tspan><tspan font-size="5.6" dy="3">3</tspan><tspan dy="-3"> 01<tspan font-size="5.5" dy="-0.6">•</tspan><tspan dy="0.6">8</tspan></tspan></text><text x="471.5" y="282.4" font-size="7.3" fill="#1a1a1a" font-family='"Liberation Sans", sans-serif'>PdCoO<tspan font-size="5.6" dy="3">2</tspan><tspan dy="-3"> 01<tspan font-size="5.5" dy="-0.6">•</tspan><tspan dy="0.6">8</tspan></tspan></text></svg></body></html>
